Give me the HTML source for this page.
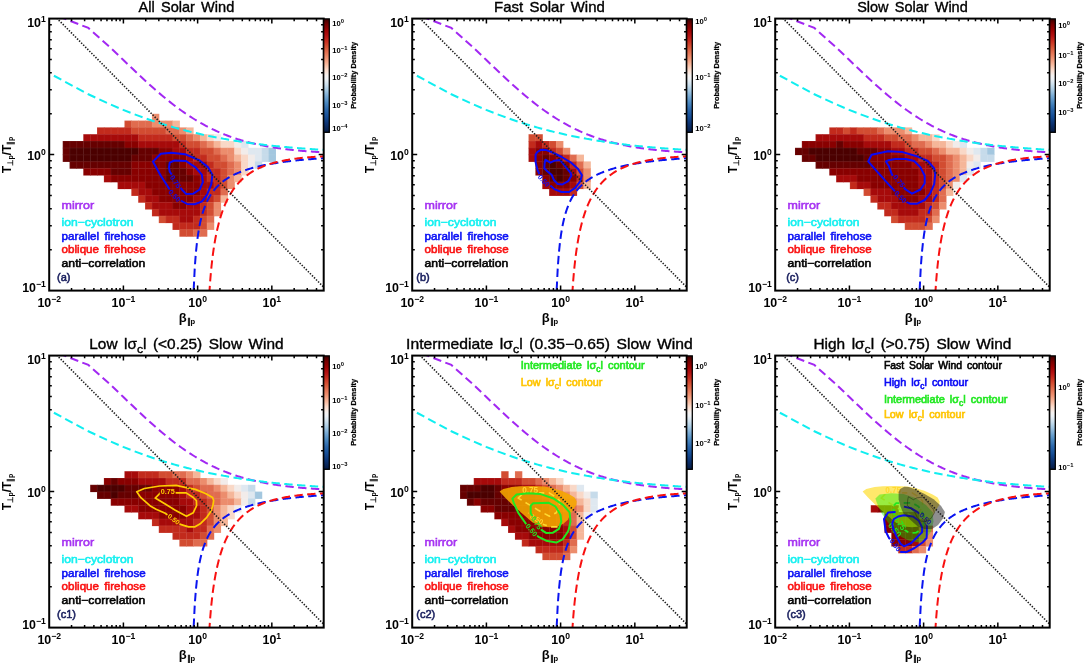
<!DOCTYPE html><html><head><meta charset="utf-8"><title>Proton temperature anisotropy</title><style>html,body{margin:0;padding:0;background:#fff;}svg{display:block;will-change:transform;filter:blur(0.3px)}</style></head><body><svg width="1085" height="665" viewBox="0 0 1085 665">
<defs><linearGradient id="cbg" x1="0" y1="0" x2="0" y2="1">
<stop offset="0" stop-color="#3a0000"/><stop offset="0.05" stop-color="#780000"/><stop offset="0.10" stop-color="#9c0202"/>
<stop offset="0.15" stop-color="#b41212"/><stop offset="0.2" stop-color="#c83020"/><stop offset="0.25" stop-color="#d65436"/>
<stop offset="0.30" stop-color="#e47454"/><stop offset="0.35" stop-color="#f09474"/><stop offset="0.40" stop-color="#f8b89c"/>
<stop offset="0.45" stop-color="#fcdccc"/><stop offset="0.5" stop-color="#f6f2f0"/><stop offset="0.53" stop-color="#eef2f6"/>
<stop offset="0.58" stop-color="#cce0ee"/><stop offset="0.63" stop-color="#a4c8e2"/><stop offset="0.68" stop-color="#78aad4"/>
<stop offset="0.74" stop-color="#4a88c0"/><stop offset="0.80" stop-color="#2a66aa"/><stop offset="0.86" stop-color="#164e96"/>
<stop offset="0.92" stop-color="#0c3474"/><stop offset="1" stop-color="#061a42"/></linearGradient>
<style>
text{font-family:"Liberation Sans",sans-serif;}
.tl{font-size:12.4px;font-weight:bold;fill:#000}
.sup{font-size:8.6px}
.ax{font-size:13px;font-weight:bold;fill:#000}
.sub{font-size:7.6px}
.ti{font-size:13.9px;fill:#000;stroke:#000;stroke-width:0.35px;word-spacing:2px}
.tsub{font-size:11px}
.lg{font-size:11px;font-weight:normal;stroke-width:0.55px;word-spacing:2px}
.cbl{font-size:7.6px;font-weight:bold}
.cbs{font-size:5.8px}
.pd{font-size:7.4px;font-weight:bold;stroke:#000;stroke-width:0.25px}
.cl{font-size:7px;font-weight:bold}
</style></defs>
<rect width="1085" height="665" fill="#fff"/>
<clipPath id="clip1"><rect x="49.2" y="18.6" width="274.5" height="272.0"/></clipPath>
<g clip-path="url(#clip1)">
<rect x="151.94" y="113.8" width="7.36" height="7.3" fill="#ec8d6d"/>
<rect x="124.49" y="120.6" width="7.36" height="7.3" fill="#d24c31"/>
<rect x="131.35" y="120.6" width="7.36" height="7.3" fill="#e06c4f"/>
<rect x="138.21" y="120.6" width="7.36" height="7.3" fill="#e06c4f"/>
<rect x="145.07" y="120.6" width="7.36" height="7.3" fill="#e06c4f"/>
<rect x="151.94" y="120.6" width="7.36" height="7.3" fill="#ec8d6d"/>
<rect x="158.8" y="120.6" width="7.36" height="7.3" fill="#ec8d6d"/>
<rect x="165.66" y="120.6" width="7.36" height="7.3" fill="#ec8d6d"/>
<rect x="172.52" y="120.6" width="7.36" height="7.3" fill="#f5b699"/>
<rect x="97.04" y="127.4" width="7.36" height="7.3" fill="#c22a1c"/>
<rect x="103.9" y="127.4" width="7.36" height="7.3" fill="#c22a1c"/>
<rect x="110.76" y="127.4" width="7.36" height="7.3" fill="#c22a1c"/>
<rect x="117.62" y="127.4" width="7.36" height="7.3" fill="#c22a1c"/>
<rect x="124.49" y="127.4" width="7.36" height="7.3" fill="#c22a1c"/>
<rect x="131.35" y="127.4" width="7.36" height="7.3" fill="#d24c31"/>
<rect x="138.21" y="127.4" width="7.36" height="7.3" fill="#d24c31"/>
<rect x="145.07" y="127.4" width="7.36" height="7.3" fill="#d24c31"/>
<rect x="151.94" y="127.4" width="7.36" height="7.3" fill="#d24c31"/>
<rect x="158.8" y="127.4" width="7.36" height="7.3" fill="#d24c31"/>
<rect x="165.66" y="127.4" width="7.36" height="7.3" fill="#e06c4f"/>
<rect x="172.52" y="127.4" width="7.36" height="7.3" fill="#e06c4f"/>
<rect x="179.39" y="127.4" width="7.36" height="7.3" fill="#ec8d6d"/>
<rect x="186.25" y="127.4" width="7.36" height="7.3" fill="#f5b699"/>
<rect x="83.31" y="134.2" width="7.36" height="7.3" fill="#a60a0a"/>
<rect x="90.17" y="134.2" width="7.36" height="7.3" fill="#a60a0a"/>
<rect x="97.04" y="134.2" width="7.36" height="7.3" fill="#a60a0a"/>
<rect x="103.9" y="134.2" width="7.36" height="7.3" fill="#a60a0a"/>
<rect x="110.76" y="134.2" width="7.36" height="7.3" fill="#a60a0a"/>
<rect x="117.62" y="134.2" width="7.36" height="7.3" fill="#a60a0a"/>
<rect x="124.49" y="134.2" width="7.36" height="7.3" fill="#a60a0a"/>
<rect x="131.35" y="134.2" width="7.36" height="7.3" fill="#a60a0a"/>
<rect x="138.21" y="134.2" width="7.36" height="7.3" fill="#c22a1c"/>
<rect x="145.07" y="134.2" width="7.36" height="7.3" fill="#c22a1c"/>
<rect x="151.94" y="134.2" width="7.36" height="7.3" fill="#c22a1c"/>
<rect x="158.8" y="134.2" width="7.36" height="7.3" fill="#c22a1c"/>
<rect x="165.66" y="134.2" width="7.36" height="7.3" fill="#c22a1c"/>
<rect x="172.52" y="134.2" width="7.36" height="7.3" fill="#d24c31"/>
<rect x="179.39" y="134.2" width="7.36" height="7.3" fill="#d24c31"/>
<rect x="186.25" y="134.2" width="7.36" height="7.3" fill="#e06c4f"/>
<rect x="193.11" y="134.2" width="7.36" height="7.3" fill="#ec8d6d"/>
<rect x="199.97" y="134.2" width="7.36" height="7.3" fill="#f5b699"/>
<rect x="206.84" y="134.2" width="7.36" height="7.3" fill="#f9d8c7"/>
<rect x="213.7" y="134.2" width="7.36" height="7.3" fill="#f2ecea"/>
<rect x="62.73" y="141" width="7.36" height="7.3" fill="#660000"/>
<rect x="69.59" y="141" width="7.36" height="7.3" fill="#660000"/>
<rect x="76.45" y="141" width="7.36" height="7.3" fill="#660000"/>
<rect x="83.31" y="141" width="7.36" height="7.3" fill="#660000"/>
<rect x="90.17" y="141" width="7.36" height="7.3" fill="#660000"/>
<rect x="97.04" y="141" width="7.36" height="7.3" fill="#660000"/>
<rect x="103.9" y="141" width="7.36" height="7.3" fill="#660000"/>
<rect x="110.76" y="141" width="7.36" height="7.3" fill="#660000"/>
<rect x="117.62" y="141" width="7.36" height="7.3" fill="#660000"/>
<rect x="124.49" y="141" width="7.36" height="7.3" fill="#890000"/>
<rect x="131.35" y="141" width="7.36" height="7.3" fill="#890000"/>
<rect x="138.21" y="141" width="7.36" height="7.3" fill="#a60a0a"/>
<rect x="145.07" y="141" width="7.36" height="7.3" fill="#a60a0a"/>
<rect x="151.94" y="141" width="7.36" height="7.3" fill="#a60a0a"/>
<rect x="158.8" y="141" width="7.36" height="7.3" fill="#a60a0a"/>
<rect x="165.66" y="141" width="7.36" height="7.3" fill="#a60a0a"/>
<rect x="172.52" y="141" width="7.36" height="7.3" fill="#a60a0a"/>
<rect x="179.39" y="141" width="7.36" height="7.3" fill="#c22a1c"/>
<rect x="186.25" y="141" width="7.36" height="7.3" fill="#d24c31"/>
<rect x="193.11" y="141" width="7.36" height="7.3" fill="#d24c31"/>
<rect x="199.97" y="141" width="7.36" height="7.3" fill="#e06c4f"/>
<rect x="206.84" y="141" width="7.36" height="7.3" fill="#ec8d6d"/>
<rect x="213.7" y="141" width="7.36" height="7.3" fill="#f5b699"/>
<rect x="220.56" y="141" width="7.36" height="7.3" fill="#f9d8c7"/>
<rect x="227.42" y="141" width="7.36" height="7.3" fill="#f9d8c7"/>
<rect x="234.29" y="141" width="7.36" height="7.3" fill="#f2ecea"/>
<rect x="241.15" y="141" width="7.36" height="7.3" fill="#dfe8f0"/>
<rect x="62.73" y="147.8" width="7.36" height="7.3" fill="#660000"/>
<rect x="69.59" y="147.8" width="7.36" height="7.3" fill="#4b0000"/>
<rect x="76.45" y="147.8" width="7.36" height="7.3" fill="#4b0000"/>
<rect x="83.31" y="147.8" width="7.36" height="7.3" fill="#4b0000"/>
<rect x="90.17" y="147.8" width="7.36" height="7.3" fill="#4b0000"/>
<rect x="97.04" y="147.8" width="7.36" height="7.3" fill="#4b0000"/>
<rect x="103.9" y="147.8" width="7.36" height="7.3" fill="#4b0000"/>
<rect x="110.76" y="147.8" width="7.36" height="7.3" fill="#4b0000"/>
<rect x="117.62" y="147.8" width="7.36" height="7.3" fill="#4b0000"/>
<rect x="124.49" y="147.8" width="7.36" height="7.3" fill="#4b0000"/>
<rect x="131.35" y="147.8" width="7.36" height="7.3" fill="#4b0000"/>
<rect x="138.21" y="147.8" width="7.36" height="7.3" fill="#660000"/>
<rect x="145.07" y="147.8" width="7.36" height="7.3" fill="#660000"/>
<rect x="151.94" y="147.8" width="7.36" height="7.3" fill="#660000"/>
<rect x="158.8" y="147.8" width="7.36" height="7.3" fill="#890000"/>
<rect x="165.66" y="147.8" width="7.36" height="7.3" fill="#890000"/>
<rect x="172.52" y="147.8" width="7.36" height="7.3" fill="#a60a0a"/>
<rect x="179.39" y="147.8" width="7.36" height="7.3" fill="#a60a0a"/>
<rect x="186.25" y="147.8" width="7.36" height="7.3" fill="#c22a1c"/>
<rect x="193.11" y="147.8" width="7.36" height="7.3" fill="#c22a1c"/>
<rect x="199.97" y="147.8" width="7.36" height="7.3" fill="#d24c31"/>
<rect x="206.84" y="147.8" width="7.36" height="7.3" fill="#d24c31"/>
<rect x="213.7" y="147.8" width="7.36" height="7.3" fill="#e06c4f"/>
<rect x="220.56" y="147.8" width="7.36" height="7.3" fill="#ec8d6d"/>
<rect x="227.42" y="147.8" width="7.36" height="7.3" fill="#ec8d6d"/>
<rect x="234.29" y="147.8" width="7.36" height="7.3" fill="#f9d8c7"/>
<rect x="241.15" y="147.8" width="7.36" height="7.3" fill="#f2ecea"/>
<rect x="248.01" y="147.8" width="7.36" height="7.3" fill="#dfe8f0"/>
<rect x="254.88" y="147.8" width="7.36" height="7.3" fill="#dfe8f0"/>
<rect x="261.74" y="147.8" width="7.36" height="7.3" fill="#c6dbea"/>
<rect x="268.6" y="147.8" width="7.36" height="7.3" fill="#a3c7df"/>
<rect x="62.73" y="154.6" width="7.36" height="7.3" fill="#660000"/>
<rect x="69.59" y="154.6" width="7.36" height="7.3" fill="#4b0000"/>
<rect x="76.45" y="154.6" width="7.36" height="7.3" fill="#4b0000"/>
<rect x="83.31" y="154.6" width="7.36" height="7.3" fill="#4b0000"/>
<rect x="90.17" y="154.6" width="7.36" height="7.3" fill="#4b0000"/>
<rect x="97.04" y="154.6" width="7.36" height="7.3" fill="#4b0000"/>
<rect x="103.9" y="154.6" width="7.36" height="7.3" fill="#4b0000"/>
<rect x="110.76" y="154.6" width="7.36" height="7.3" fill="#4b0000"/>
<rect x="117.62" y="154.6" width="7.36" height="7.3" fill="#4b0000"/>
<rect x="124.49" y="154.6" width="7.36" height="7.3" fill="#4b0000"/>
<rect x="131.35" y="154.6" width="7.36" height="7.3" fill="#660000"/>
<rect x="138.21" y="154.6" width="7.36" height="7.3" fill="#660000"/>
<rect x="145.07" y="154.6" width="7.36" height="7.3" fill="#660000"/>
<rect x="151.94" y="154.6" width="7.36" height="7.3" fill="#890000"/>
<rect x="158.8" y="154.6" width="7.36" height="7.3" fill="#890000"/>
<rect x="165.66" y="154.6" width="7.36" height="7.3" fill="#890000"/>
<rect x="172.52" y="154.6" width="7.36" height="7.3" fill="#890000"/>
<rect x="179.39" y="154.6" width="7.36" height="7.3" fill="#890000"/>
<rect x="186.25" y="154.6" width="7.36" height="7.3" fill="#a60a0a"/>
<rect x="193.11" y="154.6" width="7.36" height="7.3" fill="#c22a1c"/>
<rect x="199.97" y="154.6" width="7.36" height="7.3" fill="#c22a1c"/>
<rect x="206.84" y="154.6" width="7.36" height="7.3" fill="#d24c31"/>
<rect x="213.7" y="154.6" width="7.36" height="7.3" fill="#d24c31"/>
<rect x="220.56" y="154.6" width="7.36" height="7.3" fill="#e06c4f"/>
<rect x="227.42" y="154.6" width="7.36" height="7.3" fill="#ec8d6d"/>
<rect x="234.29" y="154.6" width="7.36" height="7.3" fill="#f5b699"/>
<rect x="241.15" y="154.6" width="7.36" height="7.3" fill="#f9d8c7"/>
<rect x="248.01" y="154.6" width="7.36" height="7.3" fill="#f2ecea"/>
<rect x="254.88" y="154.6" width="7.36" height="7.3" fill="#dfe8f0"/>
<rect x="261.74" y="154.6" width="7.36" height="7.3" fill="#c6dbea"/>
<rect x="268.6" y="154.6" width="7.36" height="7.3" fill="#a3c7df"/>
<rect x="69.59" y="161.4" width="7.36" height="7.3" fill="#660000"/>
<rect x="76.45" y="161.4" width="7.36" height="7.3" fill="#660000"/>
<rect x="83.31" y="161.4" width="7.36" height="7.3" fill="#660000"/>
<rect x="90.17" y="161.4" width="7.36" height="7.3" fill="#660000"/>
<rect x="97.04" y="161.4" width="7.36" height="7.3" fill="#660000"/>
<rect x="103.9" y="161.4" width="7.36" height="7.3" fill="#660000"/>
<rect x="110.76" y="161.4" width="7.36" height="7.3" fill="#660000"/>
<rect x="117.62" y="161.4" width="7.36" height="7.3" fill="#660000"/>
<rect x="124.49" y="161.4" width="7.36" height="7.3" fill="#660000"/>
<rect x="131.35" y="161.4" width="7.36" height="7.3" fill="#890000"/>
<rect x="138.21" y="161.4" width="7.36" height="7.3" fill="#890000"/>
<rect x="145.07" y="161.4" width="7.36" height="7.3" fill="#890000"/>
<rect x="151.94" y="161.4" width="7.36" height="7.3" fill="#890000"/>
<rect x="158.8" y="161.4" width="7.36" height="7.3" fill="#890000"/>
<rect x="165.66" y="161.4" width="7.36" height="7.3" fill="#660000"/>
<rect x="172.52" y="161.4" width="7.36" height="7.3" fill="#660000"/>
<rect x="179.39" y="161.4" width="7.36" height="7.3" fill="#890000"/>
<rect x="186.25" y="161.4" width="7.36" height="7.3" fill="#a60a0a"/>
<rect x="193.11" y="161.4" width="7.36" height="7.3" fill="#a60a0a"/>
<rect x="199.97" y="161.4" width="7.36" height="7.3" fill="#a60a0a"/>
<rect x="206.84" y="161.4" width="7.36" height="7.3" fill="#c22a1c"/>
<rect x="213.7" y="161.4" width="7.36" height="7.3" fill="#d24c31"/>
<rect x="220.56" y="161.4" width="7.36" height="7.3" fill="#d24c31"/>
<rect x="227.42" y="161.4" width="7.36" height="7.3" fill="#e06c4f"/>
<rect x="234.29" y="161.4" width="7.36" height="7.3" fill="#ec8d6d"/>
<rect x="241.15" y="161.4" width="7.36" height="7.3" fill="#f9d8c7"/>
<rect x="248.01" y="161.4" width="7.36" height="7.3" fill="#f2ecea"/>
<rect x="254.88" y="161.4" width="7.36" height="7.3" fill="#c6dbea"/>
<rect x="83.31" y="168.2" width="7.36" height="7.3" fill="#890000"/>
<rect x="90.17" y="168.2" width="7.36" height="7.3" fill="#890000"/>
<rect x="97.04" y="168.2" width="7.36" height="7.3" fill="#890000"/>
<rect x="103.9" y="168.2" width="7.36" height="7.3" fill="#890000"/>
<rect x="110.76" y="168.2" width="7.36" height="7.3" fill="#660000"/>
<rect x="117.62" y="168.2" width="7.36" height="7.3" fill="#660000"/>
<rect x="124.49" y="168.2" width="7.36" height="7.3" fill="#660000"/>
<rect x="131.35" y="168.2" width="7.36" height="7.3" fill="#890000"/>
<rect x="138.21" y="168.2" width="7.36" height="7.3" fill="#890000"/>
<rect x="145.07" y="168.2" width="7.36" height="7.3" fill="#890000"/>
<rect x="151.94" y="168.2" width="7.36" height="7.3" fill="#890000"/>
<rect x="158.8" y="168.2" width="7.36" height="7.3" fill="#890000"/>
<rect x="165.66" y="168.2" width="7.36" height="7.3" fill="#660000"/>
<rect x="172.52" y="168.2" width="7.36" height="7.3" fill="#660000"/>
<rect x="179.39" y="168.2" width="7.36" height="7.3" fill="#660000"/>
<rect x="186.25" y="168.2" width="7.36" height="7.3" fill="#890000"/>
<rect x="193.11" y="168.2" width="7.36" height="7.3" fill="#a60a0a"/>
<rect x="199.97" y="168.2" width="7.36" height="7.3" fill="#a60a0a"/>
<rect x="206.84" y="168.2" width="7.36" height="7.3" fill="#c22a1c"/>
<rect x="213.7" y="168.2" width="7.36" height="7.3" fill="#c22a1c"/>
<rect x="220.56" y="168.2" width="7.36" height="7.3" fill="#d24c31"/>
<rect x="227.42" y="168.2" width="7.36" height="7.3" fill="#e06c4f"/>
<rect x="234.29" y="168.2" width="7.36" height="7.3" fill="#ec8d6d"/>
<rect x="241.15" y="168.2" width="7.36" height="7.3" fill="#f9d8c7"/>
<rect x="103.9" y="175" width="7.36" height="7.3" fill="#a60a0a"/>
<rect x="110.76" y="175" width="7.36" height="7.3" fill="#890000"/>
<rect x="117.62" y="175" width="7.36" height="7.3" fill="#890000"/>
<rect x="124.49" y="175" width="7.36" height="7.3" fill="#890000"/>
<rect x="131.35" y="175" width="7.36" height="7.3" fill="#890000"/>
<rect x="138.21" y="175" width="7.36" height="7.3" fill="#890000"/>
<rect x="145.07" y="175" width="7.36" height="7.3" fill="#890000"/>
<rect x="151.94" y="175" width="7.36" height="7.3" fill="#890000"/>
<rect x="158.8" y="175" width="7.36" height="7.3" fill="#890000"/>
<rect x="165.66" y="175" width="7.36" height="7.3" fill="#660000"/>
<rect x="172.52" y="175" width="7.36" height="7.3" fill="#660000"/>
<rect x="179.39" y="175" width="7.36" height="7.3" fill="#660000"/>
<rect x="186.25" y="175" width="7.36" height="7.3" fill="#660000"/>
<rect x="193.11" y="175" width="7.36" height="7.3" fill="#890000"/>
<rect x="199.97" y="175" width="7.36" height="7.3" fill="#a60a0a"/>
<rect x="206.84" y="175" width="7.36" height="7.3" fill="#c22a1c"/>
<rect x="213.7" y="175" width="7.36" height="7.3" fill="#c22a1c"/>
<rect x="220.56" y="175" width="7.36" height="7.3" fill="#d24c31"/>
<rect x="227.42" y="175" width="7.36" height="7.3" fill="#ec8d6d"/>
<rect x="234.29" y="175" width="7.36" height="7.3" fill="#f5b699"/>
<rect x="117.62" y="181.8" width="7.36" height="7.3" fill="#a60a0a"/>
<rect x="124.49" y="181.8" width="7.36" height="7.3" fill="#a60a0a"/>
<rect x="131.35" y="181.8" width="7.36" height="7.3" fill="#a60a0a"/>
<rect x="138.21" y="181.8" width="7.36" height="7.3" fill="#a60a0a"/>
<rect x="145.07" y="181.8" width="7.36" height="7.3" fill="#890000"/>
<rect x="151.94" y="181.8" width="7.36" height="7.3" fill="#890000"/>
<rect x="158.8" y="181.8" width="7.36" height="7.3" fill="#890000"/>
<rect x="165.66" y="181.8" width="7.36" height="7.3" fill="#890000"/>
<rect x="172.52" y="181.8" width="7.36" height="7.3" fill="#890000"/>
<rect x="179.39" y="181.8" width="7.36" height="7.3" fill="#890000"/>
<rect x="186.25" y="181.8" width="7.36" height="7.3" fill="#890000"/>
<rect x="193.11" y="181.8" width="7.36" height="7.3" fill="#890000"/>
<rect x="199.97" y="181.8" width="7.36" height="7.3" fill="#a60a0a"/>
<rect x="206.84" y="181.8" width="7.36" height="7.3" fill="#a60a0a"/>
<rect x="213.7" y="181.8" width="7.36" height="7.3" fill="#c22a1c"/>
<rect x="220.56" y="181.8" width="7.36" height="7.3" fill="#d24c31"/>
<rect x="227.42" y="181.8" width="7.36" height="7.3" fill="#ec8d6d"/>
<rect x="131.35" y="188.6" width="7.36" height="7.3" fill="#c22a1c"/>
<rect x="138.21" y="188.6" width="7.36" height="7.3" fill="#a60a0a"/>
<rect x="145.07" y="188.6" width="7.36" height="7.3" fill="#a60a0a"/>
<rect x="151.94" y="188.6" width="7.36" height="7.3" fill="#890000"/>
<rect x="158.8" y="188.6" width="7.36" height="7.3" fill="#890000"/>
<rect x="165.66" y="188.6" width="7.36" height="7.3" fill="#890000"/>
<rect x="172.52" y="188.6" width="7.36" height="7.3" fill="#890000"/>
<rect x="179.39" y="188.6" width="7.36" height="7.3" fill="#890000"/>
<rect x="186.25" y="188.6" width="7.36" height="7.3" fill="#890000"/>
<rect x="193.11" y="188.6" width="7.36" height="7.3" fill="#890000"/>
<rect x="199.97" y="188.6" width="7.36" height="7.3" fill="#a60a0a"/>
<rect x="206.84" y="188.6" width="7.36" height="7.3" fill="#c22a1c"/>
<rect x="213.7" y="188.6" width="7.36" height="7.3" fill="#c22a1c"/>
<rect x="220.56" y="188.6" width="7.36" height="7.3" fill="#e06c4f"/>
<rect x="138.21" y="195.4" width="7.36" height="7.3" fill="#c22a1c"/>
<rect x="145.07" y="195.4" width="7.36" height="7.3" fill="#a60a0a"/>
<rect x="151.94" y="195.4" width="7.36" height="7.3" fill="#a60a0a"/>
<rect x="158.8" y="195.4" width="7.36" height="7.3" fill="#890000"/>
<rect x="165.66" y="195.4" width="7.36" height="7.3" fill="#890000"/>
<rect x="172.52" y="195.4" width="7.36" height="7.3" fill="#890000"/>
<rect x="179.39" y="195.4" width="7.36" height="7.3" fill="#890000"/>
<rect x="186.25" y="195.4" width="7.36" height="7.3" fill="#890000"/>
<rect x="193.11" y="195.4" width="7.36" height="7.3" fill="#a60a0a"/>
<rect x="199.97" y="195.4" width="7.36" height="7.3" fill="#a60a0a"/>
<rect x="206.84" y="195.4" width="7.36" height="7.3" fill="#c22a1c"/>
<rect x="213.7" y="195.4" width="7.36" height="7.3" fill="#d24c31"/>
<rect x="220.56" y="195.4" width="7.36" height="7.3" fill="#f5b699"/>
<rect x="145.07" y="202.2" width="7.36" height="7.3" fill="#c22a1c"/>
<rect x="151.94" y="202.2" width="7.36" height="7.3" fill="#a60a0a"/>
<rect x="158.8" y="202.2" width="7.36" height="7.3" fill="#a60a0a"/>
<rect x="165.66" y="202.2" width="7.36" height="7.3" fill="#a60a0a"/>
<rect x="172.52" y="202.2" width="7.36" height="7.3" fill="#890000"/>
<rect x="179.39" y="202.2" width="7.36" height="7.3" fill="#890000"/>
<rect x="186.25" y="202.2" width="7.36" height="7.3" fill="#a60a0a"/>
<rect x="193.11" y="202.2" width="7.36" height="7.3" fill="#a60a0a"/>
<rect x="199.97" y="202.2" width="7.36" height="7.3" fill="#c22a1c"/>
<rect x="206.84" y="202.2" width="7.36" height="7.3" fill="#d24c31"/>
<rect x="213.7" y="202.2" width="7.36" height="7.3" fill="#ec8d6d"/>
<rect x="151.94" y="209" width="7.36" height="7.3" fill="#c22a1c"/>
<rect x="158.8" y="209" width="7.36" height="7.3" fill="#a60a0a"/>
<rect x="165.66" y="209" width="7.36" height="7.3" fill="#a60a0a"/>
<rect x="172.52" y="209" width="7.36" height="7.3" fill="#a60a0a"/>
<rect x="179.39" y="209" width="7.36" height="7.3" fill="#a60a0a"/>
<rect x="186.25" y="209" width="7.36" height="7.3" fill="#a60a0a"/>
<rect x="193.11" y="209" width="7.36" height="7.3" fill="#a60a0a"/>
<rect x="199.97" y="209" width="7.36" height="7.3" fill="#c22a1c"/>
<rect x="206.84" y="209" width="7.36" height="7.3" fill="#d24c31"/>
<rect x="213.7" y="209" width="7.36" height="7.3" fill="#ec8d6d"/>
<rect x="158.8" y="215.8" width="7.36" height="7.3" fill="#d24c31"/>
<rect x="165.66" y="215.8" width="7.36" height="7.3" fill="#c22a1c"/>
<rect x="172.52" y="215.8" width="7.36" height="7.3" fill="#c22a1c"/>
<rect x="179.39" y="215.8" width="7.36" height="7.3" fill="#a60a0a"/>
<rect x="186.25" y="215.8" width="7.36" height="7.3" fill="#a60a0a"/>
<rect x="193.11" y="215.8" width="7.36" height="7.3" fill="#c22a1c"/>
<rect x="199.97" y="215.8" width="7.36" height="7.3" fill="#d24c31"/>
<rect x="206.84" y="215.8" width="7.36" height="7.3" fill="#e06c4f"/>
<rect x="172.52" y="222.6" width="7.36" height="7.3" fill="#c22a1c"/>
<rect x="179.39" y="222.6" width="7.36" height="7.3" fill="#c22a1c"/>
<rect x="186.25" y="222.6" width="7.36" height="7.3" fill="#c22a1c"/>
<rect x="193.11" y="222.6" width="7.36" height="7.3" fill="#c22a1c"/>
<rect x="199.97" y="222.6" width="7.36" height="7.3" fill="#d24c31"/>
<rect x="206.84" y="222.6" width="7.36" height="7.3" fill="#ec8d6d"/>
<rect x="179.39" y="229.4" width="7.36" height="7.3" fill="#d24c31"/>
<rect x="186.25" y="229.4" width="7.36" height="7.3" fill="#d24c31"/>
<rect x="193.11" y="229.4" width="7.36" height="7.3" fill="#e06c4f"/>
<rect x="199.97" y="229.4" width="7.36" height="7.3" fill="#e06c4f"/>
<path d="M152.19,114.05 h6.86 M152.19,114.05 v6.8 M124.74,120.85 h6.86 M124.74,120.85 v6.8 M131.6,120.85 h6.86 M131.6,120.85 v6.8 M138.46,120.85 h6.86 M138.46,120.85 v6.8 M145.32,120.85 h6.86 M145.32,120.85 v6.8 M152.19,120.85 h6.86 M152.19,120.85 v6.8 M159.05,120.85 h6.86 M159.05,120.85 v6.8 M165.91,120.85 h6.86 M165.91,120.85 v6.8 M172.77,120.85 h6.86 M172.77,120.85 v6.8 M97.29,127.65 h6.86 M97.29,127.65 v6.8 M104.15,127.65 h6.86 M104.15,127.65 v6.8 M111.01,127.65 h6.86 M111.01,127.65 v6.8 M117.88,127.65 h6.86 M117.88,127.65 v6.8 M124.74,127.65 h6.86 M124.74,127.65 v6.8 M131.6,127.65 h6.86 M131.6,127.65 v6.8 M138.46,127.65 h6.86 M138.46,127.65 v6.8 M145.32,127.65 h6.86 M145.32,127.65 v6.8 M152.19,127.65 h6.86 M152.19,127.65 v6.8 M159.05,127.65 h6.86 M159.05,127.65 v6.8 M165.91,127.65 h6.86 M165.91,127.65 v6.8 M172.77,127.65 h6.86 M172.77,127.65 v6.8 M179.64,127.65 h6.86 M179.64,127.65 v6.8 M186.5,127.65 h6.86 M186.5,127.65 v6.8 M83.56,134.45 h6.86 M83.56,134.45 v6.8 M90.42,134.45 h6.86 M90.42,134.45 v6.8 M97.29,134.45 h6.86 M97.29,134.45 v6.8 M104.15,134.45 h6.86 M104.15,134.45 v6.8 M111.01,134.45 h6.86 M111.01,134.45 v6.8 M117.88,134.45 h6.86 M117.88,134.45 v6.8 M124.74,134.45 h6.86 M124.74,134.45 v6.8 M131.6,134.45 h6.86 M131.6,134.45 v6.8 M138.46,134.45 h6.86 M138.46,134.45 v6.8 M145.32,134.45 h6.86 M145.32,134.45 v6.8 M152.19,134.45 h6.86 M152.19,134.45 v6.8 M159.05,134.45 h6.86 M159.05,134.45 v6.8 M165.91,134.45 h6.86 M165.91,134.45 v6.8 M172.77,134.45 h6.86 M172.77,134.45 v6.8 M179.64,134.45 h6.86 M179.64,134.45 v6.8 M186.5,134.45 h6.86 M186.5,134.45 v6.8 M193.36,134.45 h6.86 M193.36,134.45 v6.8 M200.22,134.45 h6.86 M200.22,134.45 v6.8 M207.09,134.45 h6.86 M207.09,134.45 v6.8 M213.95,134.45 h6.86 M213.95,134.45 v6.8 M62.98,141.25 h6.86 M62.98,141.25 v6.8 M69.84,141.25 h6.86 M69.84,141.25 v6.8 M76.7,141.25 h6.86 M76.7,141.25 v6.8 M83.56,141.25 h6.86 M83.56,141.25 v6.8 M90.42,141.25 h6.86 M90.42,141.25 v6.8 M97.29,141.25 h6.86 M97.29,141.25 v6.8 M104.15,141.25 h6.86 M104.15,141.25 v6.8 M111.01,141.25 h6.86 M111.01,141.25 v6.8 M117.88,141.25 h6.86 M117.88,141.25 v6.8 M124.74,141.25 h6.86 M124.74,141.25 v6.8 M131.6,141.25 h6.86 M131.6,141.25 v6.8 M138.46,141.25 h6.86 M138.46,141.25 v6.8 M145.32,141.25 h6.86 M145.32,141.25 v6.8 M152.19,141.25 h6.86 M152.19,141.25 v6.8 M159.05,141.25 h6.86 M159.05,141.25 v6.8 M165.91,141.25 h6.86 M165.91,141.25 v6.8 M172.77,141.25 h6.86 M172.77,141.25 v6.8 M179.64,141.25 h6.86 M179.64,141.25 v6.8 M186.5,141.25 h6.86 M186.5,141.25 v6.8 M193.36,141.25 h6.86 M193.36,141.25 v6.8 M200.22,141.25 h6.86 M200.22,141.25 v6.8 M207.09,141.25 h6.86 M207.09,141.25 v6.8 M213.95,141.25 h6.86 M213.95,141.25 v6.8 M220.81,141.25 h6.86 M220.81,141.25 v6.8 M227.67,141.25 h6.86 M227.67,141.25 v6.8 M234.54,141.25 h6.86 M234.54,141.25 v6.8 M241.4,141.25 h6.86 M241.4,141.25 v6.8 M62.98,148.05 h6.86 M62.98,148.05 v6.8 M69.84,148.05 h6.86 M69.84,148.05 v6.8 M76.7,148.05 h6.86 M76.7,148.05 v6.8 M83.56,148.05 h6.86 M83.56,148.05 v6.8 M90.42,148.05 h6.86 M90.42,148.05 v6.8 M97.29,148.05 h6.86 M97.29,148.05 v6.8 M104.15,148.05 h6.86 M104.15,148.05 v6.8 M111.01,148.05 h6.86 M111.01,148.05 v6.8 M117.88,148.05 h6.86 M117.88,148.05 v6.8 M124.74,148.05 h6.86 M124.74,148.05 v6.8 M131.6,148.05 h6.86 M131.6,148.05 v6.8 M138.46,148.05 h6.86 M138.46,148.05 v6.8 M145.32,148.05 h6.86 M145.32,148.05 v6.8 M152.19,148.05 h6.86 M152.19,148.05 v6.8 M159.05,148.05 h6.86 M159.05,148.05 v6.8 M165.91,148.05 h6.86 M165.91,148.05 v6.8 M172.77,148.05 h6.86 M172.77,148.05 v6.8 M179.64,148.05 h6.86 M179.64,148.05 v6.8 M186.5,148.05 h6.86 M186.5,148.05 v6.8 M193.36,148.05 h6.86 M193.36,148.05 v6.8 M200.22,148.05 h6.86 M200.22,148.05 v6.8 M207.09,148.05 h6.86 M207.09,148.05 v6.8 M213.95,148.05 h6.86 M213.95,148.05 v6.8 M220.81,148.05 h6.86 M220.81,148.05 v6.8 M227.67,148.05 h6.86 M227.67,148.05 v6.8 M234.54,148.05 h6.86 M234.54,148.05 v6.8 M241.4,148.05 h6.86 M241.4,148.05 v6.8 M248.26,148.05 h6.86 M248.26,148.05 v6.8 M255.12,148.05 h6.86 M255.12,148.05 v6.8 M261.99,148.05 h6.86 M261.99,148.05 v6.8 M268.85,148.05 h6.86 M268.85,148.05 v6.8 M62.98,154.85 h6.86 M62.98,154.85 v6.8 M69.84,154.85 h6.86 M69.84,154.85 v6.8 M76.7,154.85 h6.86 M76.7,154.85 v6.8 M83.56,154.85 h6.86 M83.56,154.85 v6.8 M90.42,154.85 h6.86 M90.42,154.85 v6.8 M97.29,154.85 h6.86 M97.29,154.85 v6.8 M104.15,154.85 h6.86 M104.15,154.85 v6.8 M111.01,154.85 h6.86 M111.01,154.85 v6.8 M117.88,154.85 h6.86 M117.88,154.85 v6.8 M124.74,154.85 h6.86 M124.74,154.85 v6.8 M131.6,154.85 h6.86 M131.6,154.85 v6.8 M138.46,154.85 h6.86 M138.46,154.85 v6.8 M145.32,154.85 h6.86 M145.32,154.85 v6.8 M152.19,154.85 h6.86 M152.19,154.85 v6.8 M159.05,154.85 h6.86 M159.05,154.85 v6.8 M165.91,154.85 h6.86 M165.91,154.85 v6.8 M172.77,154.85 h6.86 M172.77,154.85 v6.8 M179.64,154.85 h6.86 M179.64,154.85 v6.8 M186.5,154.85 h6.86 M186.5,154.85 v6.8 M193.36,154.85 h6.86 M193.36,154.85 v6.8 M200.22,154.85 h6.86 M200.22,154.85 v6.8 M207.09,154.85 h6.86 M207.09,154.85 v6.8 M213.95,154.85 h6.86 M213.95,154.85 v6.8 M220.81,154.85 h6.86 M220.81,154.85 v6.8 M227.67,154.85 h6.86 M227.67,154.85 v6.8 M234.54,154.85 h6.86 M234.54,154.85 v6.8 M241.4,154.85 h6.86 M241.4,154.85 v6.8 M248.26,154.85 h6.86 M248.26,154.85 v6.8 M255.12,154.85 h6.86 M255.12,154.85 v6.8 M261.99,154.85 h6.86 M261.99,154.85 v6.8 M268.85,154.85 h6.86 M268.85,154.85 v6.8 M69.84,161.65 h6.86 M69.84,161.65 v6.8 M76.7,161.65 h6.86 M76.7,161.65 v6.8 M83.56,161.65 h6.86 M83.56,161.65 v6.8 M90.42,161.65 h6.86 M90.42,161.65 v6.8 M97.29,161.65 h6.86 M97.29,161.65 v6.8 M104.15,161.65 h6.86 M104.15,161.65 v6.8 M111.01,161.65 h6.86 M111.01,161.65 v6.8 M117.88,161.65 h6.86 M117.88,161.65 v6.8 M124.74,161.65 h6.86 M124.74,161.65 v6.8 M131.6,161.65 h6.86 M131.6,161.65 v6.8 M138.46,161.65 h6.86 M138.46,161.65 v6.8 M145.32,161.65 h6.86 M145.32,161.65 v6.8 M152.19,161.65 h6.86 M152.19,161.65 v6.8 M159.05,161.65 h6.86 M159.05,161.65 v6.8 M165.91,161.65 h6.86 M165.91,161.65 v6.8 M172.77,161.65 h6.86 M172.77,161.65 v6.8 M179.64,161.65 h6.86 M179.64,161.65 v6.8 M186.5,161.65 h6.86 M186.5,161.65 v6.8 M193.36,161.65 h6.86 M193.36,161.65 v6.8 M200.22,161.65 h6.86 M200.22,161.65 v6.8 M207.09,161.65 h6.86 M207.09,161.65 v6.8 M213.95,161.65 h6.86 M213.95,161.65 v6.8 M220.81,161.65 h6.86 M220.81,161.65 v6.8 M227.67,161.65 h6.86 M227.67,161.65 v6.8 M234.54,161.65 h6.86 M234.54,161.65 v6.8 M241.4,161.65 h6.86 M241.4,161.65 v6.8 M248.26,161.65 h6.86 M248.26,161.65 v6.8 M255.12,161.65 h6.86 M255.12,161.65 v6.8 M83.56,168.45 h6.86 M83.56,168.45 v6.8 M90.42,168.45 h6.86 M90.42,168.45 v6.8 M97.29,168.45 h6.86 M97.29,168.45 v6.8 M104.15,168.45 h6.86 M104.15,168.45 v6.8 M111.01,168.45 h6.86 M111.01,168.45 v6.8 M117.88,168.45 h6.86 M117.88,168.45 v6.8 M124.74,168.45 h6.86 M124.74,168.45 v6.8 M131.6,168.45 h6.86 M131.6,168.45 v6.8 M138.46,168.45 h6.86 M138.46,168.45 v6.8 M145.32,168.45 h6.86 M145.32,168.45 v6.8 M152.19,168.45 h6.86 M152.19,168.45 v6.8 M159.05,168.45 h6.86 M159.05,168.45 v6.8 M165.91,168.45 h6.86 M165.91,168.45 v6.8 M172.77,168.45 h6.86 M172.77,168.45 v6.8 M179.64,168.45 h6.86 M179.64,168.45 v6.8 M186.5,168.45 h6.86 M186.5,168.45 v6.8 M193.36,168.45 h6.86 M193.36,168.45 v6.8 M200.22,168.45 h6.86 M200.22,168.45 v6.8 M207.09,168.45 h6.86 M207.09,168.45 v6.8 M213.95,168.45 h6.86 M213.95,168.45 v6.8 M220.81,168.45 h6.86 M220.81,168.45 v6.8 M227.67,168.45 h6.86 M227.67,168.45 v6.8 M234.54,168.45 h6.86 M234.54,168.45 v6.8 M241.4,168.45 h6.86 M241.4,168.45 v6.8 M104.15,175.25 h6.86 M104.15,175.25 v6.8 M111.01,175.25 h6.86 M111.01,175.25 v6.8 M117.88,175.25 h6.86 M117.88,175.25 v6.8 M124.74,175.25 h6.86 M124.74,175.25 v6.8 M131.6,175.25 h6.86 M131.6,175.25 v6.8 M138.46,175.25 h6.86 M138.46,175.25 v6.8 M145.32,175.25 h6.86 M145.32,175.25 v6.8 M152.19,175.25 h6.86 M152.19,175.25 v6.8 M159.05,175.25 h6.86 M159.05,175.25 v6.8 M165.91,175.25 h6.86 M165.91,175.25 v6.8 M172.77,175.25 h6.86 M172.77,175.25 v6.8 M179.64,175.25 h6.86 M179.64,175.25 v6.8 M186.5,175.25 h6.86 M186.5,175.25 v6.8 M193.36,175.25 h6.86 M193.36,175.25 v6.8 M200.22,175.25 h6.86 M200.22,175.25 v6.8 M207.09,175.25 h6.86 M207.09,175.25 v6.8 M213.95,175.25 h6.86 M213.95,175.25 v6.8 M220.81,175.25 h6.86 M220.81,175.25 v6.8 M227.67,175.25 h6.86 M227.67,175.25 v6.8 M234.54,175.25 h6.86 M234.54,175.25 v6.8 M117.88,182.05 h6.86 M117.88,182.05 v6.8 M124.74,182.05 h6.86 M124.74,182.05 v6.8 M131.6,182.05 h6.86 M131.6,182.05 v6.8 M138.46,182.05 h6.86 M138.46,182.05 v6.8 M145.32,182.05 h6.86 M145.32,182.05 v6.8 M152.19,182.05 h6.86 M152.19,182.05 v6.8 M159.05,182.05 h6.86 M159.05,182.05 v6.8 M165.91,182.05 h6.86 M165.91,182.05 v6.8 M172.77,182.05 h6.86 M172.77,182.05 v6.8 M179.64,182.05 h6.86 M179.64,182.05 v6.8 M186.5,182.05 h6.86 M186.5,182.05 v6.8 M193.36,182.05 h6.86 M193.36,182.05 v6.8 M200.22,182.05 h6.86 M200.22,182.05 v6.8 M207.09,182.05 h6.86 M207.09,182.05 v6.8 M213.95,182.05 h6.86 M213.95,182.05 v6.8 M220.81,182.05 h6.86 M220.81,182.05 v6.8 M227.67,182.05 h6.86 M227.67,182.05 v6.8 M131.6,188.85 h6.86 M131.6,188.85 v6.8 M138.46,188.85 h6.86 M138.46,188.85 v6.8 M145.32,188.85 h6.86 M145.32,188.85 v6.8 M152.19,188.85 h6.86 M152.19,188.85 v6.8 M159.05,188.85 h6.86 M159.05,188.85 v6.8 M165.91,188.85 h6.86 M165.91,188.85 v6.8 M172.77,188.85 h6.86 M172.77,188.85 v6.8 M179.64,188.85 h6.86 M179.64,188.85 v6.8 M186.5,188.85 h6.86 M186.5,188.85 v6.8 M193.36,188.85 h6.86 M193.36,188.85 v6.8 M200.22,188.85 h6.86 M200.22,188.85 v6.8 M207.09,188.85 h6.86 M207.09,188.85 v6.8 M213.95,188.85 h6.86 M213.95,188.85 v6.8 M220.81,188.85 h6.86 M220.81,188.85 v6.8 M138.46,195.65 h6.86 M138.46,195.65 v6.8 M145.32,195.65 h6.86 M145.32,195.65 v6.8 M152.19,195.65 h6.86 M152.19,195.65 v6.8 M159.05,195.65 h6.86 M159.05,195.65 v6.8 M165.91,195.65 h6.86 M165.91,195.65 v6.8 M172.77,195.65 h6.86 M172.77,195.65 v6.8 M179.64,195.65 h6.86 M179.64,195.65 v6.8 M186.5,195.65 h6.86 M186.5,195.65 v6.8 M193.36,195.65 h6.86 M193.36,195.65 v6.8 M200.22,195.65 h6.86 M200.22,195.65 v6.8 M207.09,195.65 h6.86 M207.09,195.65 v6.8 M213.95,195.65 h6.86 M213.95,195.65 v6.8 M220.81,195.65 h6.86 M220.81,195.65 v6.8 M145.32,202.45 h6.86 M145.32,202.45 v6.8 M152.19,202.45 h6.86 M152.19,202.45 v6.8 M159.05,202.45 h6.86 M159.05,202.45 v6.8 M165.91,202.45 h6.86 M165.91,202.45 v6.8 M172.77,202.45 h6.86 M172.77,202.45 v6.8 M179.64,202.45 h6.86 M179.64,202.45 v6.8 M186.5,202.45 h6.86 M186.5,202.45 v6.8 M193.36,202.45 h6.86 M193.36,202.45 v6.8 M200.22,202.45 h6.86 M200.22,202.45 v6.8 M207.09,202.45 h6.86 M207.09,202.45 v6.8 M213.95,202.45 h6.86 M213.95,202.45 v6.8 M152.19,209.25 h6.86 M152.19,209.25 v6.8 M159.05,209.25 h6.86 M159.05,209.25 v6.8 M165.91,209.25 h6.86 M165.91,209.25 v6.8 M172.77,209.25 h6.86 M172.77,209.25 v6.8 M179.64,209.25 h6.86 M179.64,209.25 v6.8 M186.5,209.25 h6.86 M186.5,209.25 v6.8 M193.36,209.25 h6.86 M193.36,209.25 v6.8 M200.22,209.25 h6.86 M200.22,209.25 v6.8 M207.09,209.25 h6.86 M207.09,209.25 v6.8 M213.95,209.25 h6.86 M213.95,209.25 v6.8 M159.05,216.05 h6.86 M159.05,216.05 v6.8 M165.91,216.05 h6.86 M165.91,216.05 v6.8 M172.77,216.05 h6.86 M172.77,216.05 v6.8 M179.64,216.05 h6.86 M179.64,216.05 v6.8 M186.5,216.05 h6.86 M186.5,216.05 v6.8 M193.36,216.05 h6.86 M193.36,216.05 v6.8 M200.22,216.05 h6.86 M200.22,216.05 v6.8 M207.09,216.05 h6.86 M207.09,216.05 v6.8 M172.77,222.85 h6.86 M172.77,222.85 v6.8 M179.64,222.85 h6.86 M179.64,222.85 v6.8 M186.5,222.85 h6.86 M186.5,222.85 v6.8 M193.36,222.85 h6.86 M193.36,222.85 v6.8 M200.22,222.85 h6.86 M200.22,222.85 v6.8 M207.09,222.85 h6.86 M207.09,222.85 v6.8 M179.64,229.65 h6.86 M179.64,229.65 v6.8 M186.5,229.65 h6.86 M186.5,229.65 v6.8 M193.36,229.65 h6.86 M193.36,229.65 v6.8 M200.22,229.65 h6.86 M200.22,229.65 v6.8" stroke="#fff" stroke-opacity="0.09" stroke-width="0.7" fill="none"/>
<path d="M-25.01,-16.23 L88.36,27.94 L110.21,47.47 L123.12,59.76 L132.31,68.55 L139.45,75.31 L145.29,80.74 L150.24,85.23 L154.53,89.05 L158.31,92.34 L161.69,95.22 L164.76,97.78 L167.55,100.06 L170.13,102.11 L172.51,103.98 L174.73,105.68 L176.8,107.24 L178.75,108.68 L180.59,110.02 L182.33,111.26 L183.98,112.41 L185.55,113.49 L187.05,114.5 L188.48,115.46 L189.85,116.36 L191.16,117.2 L192.43,118.01 L193.64,118.77 L194.81,119.49 L195.94,120.18 L197.03,120.84 L198.09,121.46 L199.11,122.06 L200.1,122.63 L201.06,123.18 L202,123.71 L202.9,124.21 L203.79,124.69 L204.65,125.16 L205.48,125.61 L206.3,126.04 L207.09,126.46 L208.63,127.25 L210.09,127.99 L211.49,128.68 L212.83,129.33 L214.12,129.95 L215.36,130.52 L216.55,131.07 L217.71,131.59 L218.82,132.08 L219.89,132.55 L220.93,132.99 L221.94,133.41 L222.91,133.82 L223.86,134.2 L224.78,134.57 L225.67,134.92 L226.55,135.26 L227.81,135.75 L229.03,136.2 L230.2,136.63 L231.33,137.04 L232.42,137.42 L233.48,137.79 L234.5,138.14 L235.49,138.47 L236.45,138.78 L237.39,139.09 L238.59,139.47 L239.75,139.83 L240.87,140.17 L241.96,140.49 L243,140.8 L244.02,141.09 L245,141.36 L245.96,141.63 L247.11,141.94 L248.23,142.24 L249.31,142.52 L250.35,142.78 L251.36,143.03 L252.34,143.27 L253.48,143.54 L254.57,143.8 L255.64,144.05 L256.66,144.28 L257.66,144.5 L258.79,144.74 L259.87,144.97 L260.93,145.19 L261.94,145.39 L263.07,145.62 L264.16,145.83 L265.21,146.03 L266.23,146.22 L267.34,146.42 L268.41,146.61 L269.45,146.79 L270.56,146.98 L271.64,147.16 L272.68,147.33 L273.79,147.51 L274.87,147.67 L276,147.85 L277.09,148.01 L278.15,148.16 L279.25,148.32 L280.32,148.47 L281.44,148.62 L282.51,148.76 L283.63,148.91 L284.71,149.04 L285.82,149.18 L286.89,149.31 L288,149.44 L289.13,149.57 L290.22,149.69 L291.33,149.81 L292.46,149.93 L293.55,150.05 L294.66,150.16 L295.78,150.27 L296.92,150.38 L298.06,150.49 L299.16,150.59 L300.27,150.69 L301.38,150.79 L302.5,150.89 L303.62,150.98 L304.74,151.07 L305.86,151.16 L306.98,151.25 L308.12,151.33 L309.27,151.42 L310.4,151.5 L311.53,151.58 L312.67,151.66 L313.81,151.73 L314.96,151.81 L316.11,151.88 L317.26,151.95 L318.4,152.02 L319.54,152.09 L320.7,152.16 L321.86,152.22 L323,152.28 L324.14,152.34 L324.96,152.38" fill="none" stroke="#a228f2" stroke-width="2" stroke-dasharray="8.4 4.4"/>
<path d="M-25.01,33.32 L88.36,94.27 L110.21,104.39 L123.12,109.85 L132.31,113.49 L139.45,116.17 L145.29,118.28 L150.24,119.99 L154.53,121.43 L158.31,122.66 L161.69,123.73 L164.76,124.68 L167.55,125.53 L170.13,126.29 L172.51,126.98 L174.73,127.61 L176.8,128.19 L178.75,128.73 L180.59,129.22 L182.33,129.69 L183.98,130.12 L185.55,130.53 L187.05,130.91 L188.48,131.27 L189.85,131.62 L191.16,131.94 L192.43,132.25 L193.64,132.54 L194.81,132.82 L195.94,133.09 L197.03,133.34 L198.09,133.59 L199.11,133.82 L200.1,134.05 L202,134.47 L203.79,134.86 L205.48,135.23 L207.09,135.58 L208.63,135.9 L210.09,136.2 L211.49,136.49 L212.83,136.76 L214.12,137.02 L215.36,137.26 L216.55,137.49 L217.71,137.71 L218.82,137.93 L219.89,138.13 L220.93,138.32 L222.43,138.6 L223.86,138.86 L225.23,139.1 L226.55,139.33 L227.81,139.55 L229.03,139.76 L230.2,139.96 L231.33,140.15 L232.42,140.33 L233.48,140.51 L234.83,140.73 L236.13,140.94 L237.39,141.13 L238.59,141.32 L239.75,141.5 L240.87,141.67 L241.96,141.83 L243,141.99 L244.27,142.18 L245.48,142.35 L246.66,142.52 L247.79,142.68 L248.88,142.83 L249.94,142.98 L251.16,143.15 L252.34,143.3 L253.48,143.46 L254.57,143.6 L255.64,143.74 L256.83,143.89 L257.99,144.04 L259.1,144.18 L260.18,144.31 L261.37,144.46 L262.51,144.6 L263.62,144.73 L264.82,144.87 L265.98,145 L267.1,145.13 L268.18,145.25 L269.33,145.38 L270.45,145.51 L271.64,145.64 L272.79,145.76 L273.89,145.88 L275.06,146 L276.18,146.12 L277.36,146.24 L278.49,146.35 L279.59,146.46 L280.73,146.57 L281.83,146.68 L282.97,146.79 L284.07,146.89 L285.2,147 L286.36,147.11 L287.48,147.21 L288.63,147.31 L289.74,147.41 L290.87,147.51 L292.01,147.61 L293.12,147.7 L294.24,147.8 L295.38,147.89 L296.53,147.99 L297.68,148.08 L298.8,148.17 L299.92,148.26 L301.04,148.34 L302.17,148.43 L303.3,148.52 L304.43,148.6 L305.56,148.69 L306.69,148.77 L307.81,148.85 L308.97,148.93 L310.11,149.01 L311.25,149.09 L312.38,149.17 L313.52,149.24 L314.66,149.32 L315.81,149.39 L316.95,149.47 L318.1,149.54 L319.23,149.61 L320.37,149.68 L321.52,149.75 L322.67,149.82 L323.8,149.89 L324.94,149.95 L324.96,149.96" fill="none" stroke="#10eef0" stroke-width="2" stroke-dasharray="8.4 4.4"/>
<path d="M192.43,341.03 L193.64,290.25 L194.81,266.84 L195.94,252.24 L197.03,241.94 L198.09,234.16 L199.11,228.01 L200.1,222.99 L201.06,218.81 L202,215.24 L202.9,212.16 L203.79,209.47 L204.65,207.09 L205.48,204.97 L206.3,203.06 L207.09,201.34 L207.87,199.77 L208.63,198.33 L209.37,197.02 L210.09,195.8 L210.8,194.67 L211.49,193.62 L212.17,192.65 L212.83,191.73 L213.48,190.88 L214.12,190.07 L214.75,189.31 L215.36,188.6 L215.96,187.92 L216.55,187.28 L217.71,186.09 L218.82,185.01 L219.89,184.03 L220.93,183.13 L221.94,182.3 L222.91,181.53 L223.86,180.82 L224.78,180.15 L225.67,179.54 L226.55,178.96 L227.39,178.41 L228.22,177.9 L229.03,177.42 L229.81,176.96 L230.95,176.32 L232.06,175.73 L233.13,175.18 L234.16,174.67 L235.16,174.2 L236.13,173.75 L237.08,173.33 L237.99,172.93 L238.88,172.56 L239.75,172.21 L240.87,171.76 L241.96,171.35 L243,170.97 L244.02,170.6 L245,170.26 L245.96,169.94 L246.88,169.64 L248.01,169.28 L249.09,168.95 L250.14,168.63 L251.16,168.34 L252.14,168.06 L253.1,167.8 L254.21,167.5 L255.29,167.22 L256.33,166.96 L257.33,166.71 L258.31,166.47 L259.41,166.21 L260.48,165.97 L261.51,165.74 L262.51,165.52 L263.62,165.29 L264.69,165.07 L265.72,164.86 L266.85,164.64 L267.94,164.43 L268.99,164.24 L270.01,164.05 L271.11,163.86 L272.17,163.67 L273.19,163.5 L274.29,163.32 L275.34,163.15 L276.46,162.97 L277.53,162.81 L278.66,162.64 L279.75,162.48 L280.81,162.33 L281.9,162.17 L282.97,162.03 L284.07,161.88 L285.13,161.74 L286.23,161.6 L287.35,161.46 L288.44,161.32 L289.55,161.19 L290.63,161.06 L291.73,160.94 L292.85,160.81 L293.98,160.69 L295.07,160.57 L296.18,160.45 L297.3,160.34 L298.43,160.22 L299.56,160.11 L300.66,160.01 L301.76,159.9 L302.86,159.8 L303.97,159.7 L305.08,159.6 L306.19,159.51 L307.33,159.41 L308.46,159.31 L309.59,159.22 L310.72,159.13 L311.83,159.05 L312.97,158.96 L314.1,158.87 L315.24,158.79 L316.37,158.71 L317.51,158.63 L318.64,158.55 L319.78,158.47 L320.93,158.4 L322.06,158.33 L323.19,158.25 L324.33,158.18 L324.96,158.14" fill="none" stroke="#0a14f0" stroke-width="2" stroke-dasharray="8.4 4.4"/>
<path d="M206.3,409.36 L207.09,351.58 L207.87,323.95 L208.63,305.89 L209.37,292.61 L210.09,282.18 L210.8,273.65 L211.49,266.48 L212.17,260.32 L212.83,254.95 L213.48,250.2 L214.12,245.97 L214.75,242.15 L215.36,238.69 L215.96,235.53 L216.55,232.63 L217.13,229.96 L217.71,227.49 L218.27,225.19 L218.82,223.05 L219.36,221.05 L219.89,219.17 L220.41,217.4 L220.93,215.74 L221.44,214.17 L221.94,212.69 L222.43,211.28 L222.91,209.94 L223.39,208.67 L223.86,207.46 L224.32,206.31 L224.78,205.21 L225.23,204.15 L225.67,203.15 L226.11,202.18 L226.55,201.26 L226.97,200.37 L227.39,199.52 L227.81,198.69 L228.22,197.9 L229.03,196.41 L229.81,195.02 L230.58,193.72 L231.33,192.5 L232.06,191.36 L232.78,190.29 L233.48,189.29 L234.16,188.33 L234.83,187.43 L235.49,186.58 L236.13,185.78 L236.77,185.01 L237.39,184.28 L237.99,183.58 L238.59,182.92 L239.18,182.29 L240.04,181.39 L240.87,180.56 L241.69,179.77 L242.48,179.03 L243.26,178.33 L244.02,177.67 L244.76,177.05 L245.48,176.46 L246.19,175.9 L246.88,175.37 L247.79,174.71 L248.66,174.08 L249.52,173.49 L250.35,172.94 L251.16,172.42 L251.95,171.93 L252.72,171.46 L253.66,170.91 L254.57,170.4 L255.46,169.92 L256.33,169.47 L257.17,169.04 L257.99,168.64 L258.94,168.18 L259.87,167.76 L260.78,167.36 L261.66,166.98 L262.51,166.63 L263.48,166.24 L264.42,165.87 L265.34,165.53 L266.23,165.21 L267.22,164.86 L268.18,164.54 L269.11,164.24 L270.12,163.92 L271.11,163.62 L272.06,163.34 L273.09,163.04 L274.09,162.77 L275.06,162.51 L276.09,162.25 L277.09,162 L278.06,161.77 L279.09,161.54 L280.08,161.31 L281.12,161.09 L282.13,160.88 L283.19,160.67 L284.21,160.47 L285.27,160.27 L286.29,160.09 L287.35,159.91 L288.44,159.72 L289.49,159.55 L290.57,159.38 L291.62,159.23 L292.68,159.07 L293.77,158.92 L294.87,158.77 L295.93,158.63 L297.01,158.49 L298.1,158.36 L299.2,158.23 L300.31,158.1 L301.42,157.98 L302.54,157.86 L303.66,157.75 L304.78,157.64 L305.9,157.53 L307.01,157.43 L308.12,157.33 L309.23,157.24 L310.37,157.15 L311.5,157.06 L312.61,156.97 L313.75,156.89 L314.88,156.81 L316.02,156.73 L317.15,156.66 L318.3,156.58 L319.45,156.51 L320.58,156.45 L321.72,156.38 L322.87,156.32 L324.01,156.26 L324.96,156.21" fill="none" stroke="#f81010" stroke-width="2" stroke-dasharray="8.4 4.4"/>
<mask id="m1_0" maskUnits="userSpaceOnUse" x="0" y="0" width="1085" height="665"><rect width="1085" height="665" fill="#fff"/>
<rect transform="translate(175.5,181.6) rotate(56)" x="-7.91" y="-3.42" width="15.81" height="6.84" fill="#000"/>
<rect transform="translate(174.5,195.8) rotate(45)" x="-7.91" y="-3.42" width="15.81" height="6.84" fill="#000"/>
</mask>
<g mask="url(#m1_0)"><path d="M152.9,161.6 L160.8,153.7 L171.3,152.8 L185,154.2 L199.7,160.5 L208.2,167.4 L212.4,174.7 L211.3,184.2 L207.1,194.7 L201.8,201.6 L194.5,204.2 L187.1,204 L180.8,200.5 L170.3,190.5 L160.8,175.8 Z" fill="none" stroke="#0a0af5" stroke-width="2.0" stroke-linejoin="round" /></g>
<g mask="url(#m1_0)"><path d="M169.7,162.6 L174.5,160.5 L186,161 L195.5,167.4 L201.8,174.7 L202.9,182.1 L199.7,189.5 L193.4,193.7 L186,193.9 L181.8,189.5 L169.7,171.6 L169,167.4 Z" fill="none" stroke="#0a0af5" stroke-width="2.0" stroke-linejoin="round" /></g>
<text transform="translate(175.5,181.6) rotate(56)" text-anchor="middle" dominant-baseline="central" font-size="7.2" font-weight="bold" fill="#0a0af5">0.75</text>
<text transform="translate(174.5,195.8) rotate(45)" text-anchor="middle" dominant-baseline="central" font-size="7.2" font-weight="bold" fill="#0a0af5">0.50</text>
<line x1="56.65" y1="18.01" x2="323.7" y2="287.19" stroke="#1e1e1e" stroke-width="1.6" stroke-dasharray="1.4 1.5"/>
</g>
<rect x="49.2" y="18.6" width="274.5" height="272.0" fill="none" stroke="#000" stroke-width="2"/>
<path d="M71.54,290.6 v-2.6 M71.54,18.6 v2.6 M84.61,290.6 v-2.6 M84.61,18.6 v2.6 M93.88,290.6 v-2.6 M93.88,18.6 v2.6 M101.07,290.6 v-2.6 M101.07,18.6 v2.6 M106.95,290.6 v-2.6 M106.95,18.6 v2.6 M111.91,290.6 v-2.6 M111.91,18.6 v2.6 M116.22,290.6 v-2.6 M116.22,18.6 v2.6 M120.01,290.6 v-2.6 M120.01,18.6 v2.6 M123.41,290.6 v-5 M123.41,18.6 v5 M145.75,290.6 v-2.6 M145.75,18.6 v2.6 M158.82,290.6 v-2.6 M158.82,18.6 v2.6 M168.09,290.6 v-2.6 M168.09,18.6 v2.6 M175.28,290.6 v-2.6 M175.28,18.6 v2.6 M181.16,290.6 v-2.6 M181.16,18.6 v2.6 M186.12,290.6 v-2.6 M186.12,18.6 v2.6 M190.43,290.6 v-2.6 M190.43,18.6 v2.6 M194.22,290.6 v-2.6 M194.22,18.6 v2.6 M197.62,290.6 v-5 M197.62,18.6 v5 M219.96,290.6 v-2.6 M219.96,18.6 v2.6 M233.03,290.6 v-2.6 M233.03,18.6 v2.6 M242.3,290.6 v-2.6 M242.3,18.6 v2.6 M249.49,290.6 v-2.6 M249.49,18.6 v2.6 M255.37,290.6 v-2.6 M255.37,18.6 v2.6 M260.33,290.6 v-2.6 M260.33,18.6 v2.6 M264.64,290.6 v-2.6 M264.64,18.6 v2.6 M268.43,290.6 v-2.6 M268.43,18.6 v2.6 M271.83,290.6 v-5 M271.83,18.6 v5 M294.17,290.6 v-2.6 M294.17,18.6 v2.6 M307.24,290.6 v-2.6 M307.24,18.6 v2.6 M316.51,290.6 v-2.6 M316.51,18.6 v2.6 M49.2,249.66 h2.6 M323.7,249.66 h-2.6 M49.2,225.71 h2.6 M323.7,225.71 h-2.6 M49.2,208.72 h2.6 M323.7,208.72 h-2.6 M49.2,195.54 h2.6 M323.7,195.54 h-2.6 M49.2,184.77 h2.6 M323.7,184.77 h-2.6 M49.2,175.67 h2.6 M323.7,175.67 h-2.6 M49.2,167.78 h2.6 M323.7,167.78 h-2.6 M49.2,160.82 h2.6 M323.7,160.82 h-2.6 M49.2,154.6 h5 M323.7,154.6 h-5 M49.2,113.66 h2.6 M323.7,113.66 h-2.6 M49.2,89.71 h2.6 M323.7,89.71 h-2.6 M49.2,72.72 h2.6 M323.7,72.72 h-2.6 M49.2,59.54 h2.6 M323.7,59.54 h-2.6 M49.2,48.77 h2.6 M323.7,48.77 h-2.6 M49.2,39.67 h2.6 M323.7,39.67 h-2.6 M49.2,31.78 h2.6 M323.7,31.78 h-2.6 M49.2,24.82 h2.6 M323.7,24.82 h-2.6" stroke="#000" stroke-width="1.5" fill="none"/>
<text x="49.2" y="307.3" text-anchor="middle" class="tl">10<tspan class="sup" dy="-5.2">−2</tspan></text>
<text x="123.41" y="307.3" text-anchor="middle" class="tl">10<tspan class="sup" dy="-5.2">−1</tspan></text>
<text x="197.62" y="307.3" text-anchor="middle" class="tl">10<tspan class="sup" dy="-5.2">0</tspan></text>
<text x="271.83" y="307.3" text-anchor="middle" class="tl">10<tspan class="sup" dy="-5.2">1</tspan></text>
<text x="45.8" y="292.1" text-anchor="end" class="tl">10<tspan class="sup" dy="-5.2">−1</tspan></text>
<text x="45.8" y="159.9" text-anchor="end" class="tl">10<tspan class="sup" dy="-5.2">0</tspan></text>
<text x="45.8" y="27.2" text-anchor="end" class="tl">10<tspan class="sup" dy="-5.2">1</tspan></text>
<text x="178.65" y="321.8" class="ax">β<tspan class="sub" dy="1.8">∥p</tspan></text>
<text transform="translate(11,155) rotate(-90)" text-anchor="middle" class="ax" textLength="36.4" lengthAdjust="spacingAndGlyphs">T<tspan class="sub" dy="1.6">⊥p</tspan><tspan dy="-1.6">/T</tspan><tspan class="sub" dy="1.6">∥p</tspan></text>
<text x="186.45" y="12" text-anchor="middle" class="ti" textLength="95.7" lengthAdjust="spacingAndGlyphs">All Solar Wind</text>
<text x="61.6" y="209.1" class="lg" fill="#a633f2" stroke="#a633f2" textLength="32.5" lengthAdjust="spacingAndGlyphs">mirror</text>
<text x="61.6" y="226.1" class="lg" fill="#14f0f0" stroke="#14f0f0" textLength="71.8" lengthAdjust="spacingAndGlyphs">ion−cyclotron</text>
<text x="61.6" y="239.6" class="lg" fill="#0a10f5" stroke="#0a10f5" textLength="84.2" lengthAdjust="spacingAndGlyphs">parallel firehose</text>
<text x="61.6" y="253.1" class="lg" fill="#fa1010" stroke="#fa1010" textLength="84" lengthAdjust="spacingAndGlyphs">oblique firehose</text>
<text x="61.6" y="266.6" class="lg" fill="#000" stroke="#000" textLength="83.6" lengthAdjust="spacingAndGlyphs">anti−correlation</text>
<text x="57" y="280.8" class="lg" fill="#1c2260" stroke="#1c2260">(a)</text>
<clipPath id="clip2"><rect x="412.2" y="18.6" width="274.5" height="272.0"/></clipPath>
<g clip-path="url(#clip2)">
<rect x="528.56" y="134.2" width="7.36" height="7.3" fill="#d24c31"/>
<rect x="535.42" y="134.2" width="7.36" height="7.3" fill="#d24c31"/>
<rect x="528.56" y="141" width="7.36" height="7.3" fill="#c22a1c"/>
<rect x="535.42" y="141" width="7.36" height="7.3" fill="#a60a0a"/>
<rect x="542.29" y="141" width="7.36" height="7.3" fill="#c22a1c"/>
<rect x="549.15" y="141" width="7.36" height="7.3" fill="#d24c31"/>
<rect x="556.01" y="141" width="7.36" height="7.3" fill="#ec8d6d"/>
<rect x="528.56" y="147.8" width="7.36" height="7.3" fill="#a60a0a"/>
<rect x="535.42" y="147.8" width="7.36" height="7.3" fill="#890000"/>
<rect x="542.29" y="147.8" width="7.36" height="7.3" fill="#890000"/>
<rect x="549.15" y="147.8" width="7.36" height="7.3" fill="#c22a1c"/>
<rect x="556.01" y="147.8" width="7.36" height="7.3" fill="#d24c31"/>
<rect x="562.88" y="147.8" width="7.36" height="7.3" fill="#ec8d6d"/>
<rect x="528.56" y="154.6" width="7.36" height="7.3" fill="#a60a0a"/>
<rect x="535.42" y="154.6" width="7.36" height="7.3" fill="#890000"/>
<rect x="542.29" y="154.6" width="7.36" height="7.3" fill="#660000"/>
<rect x="549.15" y="154.6" width="7.36" height="7.3" fill="#890000"/>
<rect x="556.01" y="154.6" width="7.36" height="7.3" fill="#a60a0a"/>
<rect x="562.88" y="154.6" width="7.36" height="7.3" fill="#c22a1c"/>
<rect x="569.74" y="154.6" width="7.36" height="7.3" fill="#e06c4f"/>
<rect x="576.6" y="154.6" width="7.36" height="7.3" fill="#f5b699"/>
<rect x="535.42" y="161.4" width="7.36" height="7.3" fill="#890000"/>
<rect x="542.29" y="161.4" width="7.36" height="7.3" fill="#660000"/>
<rect x="549.15" y="161.4" width="7.36" height="7.3" fill="#4b0000"/>
<rect x="556.01" y="161.4" width="7.36" height="7.3" fill="#660000"/>
<rect x="562.88" y="161.4" width="7.36" height="7.3" fill="#890000"/>
<rect x="569.74" y="161.4" width="7.36" height="7.3" fill="#c22a1c"/>
<rect x="576.6" y="161.4" width="7.36" height="7.3" fill="#e06c4f"/>
<rect x="583.46" y="161.4" width="7.36" height="7.3" fill="#f5b699"/>
<rect x="535.42" y="168.2" width="7.36" height="7.3" fill="#890000"/>
<rect x="542.29" y="168.2" width="7.36" height="7.3" fill="#660000"/>
<rect x="549.15" y="168.2" width="7.36" height="7.3" fill="#4b0000"/>
<rect x="556.01" y="168.2" width="7.36" height="7.3" fill="#4b0000"/>
<rect x="562.88" y="168.2" width="7.36" height="7.3" fill="#660000"/>
<rect x="569.74" y="168.2" width="7.36" height="7.3" fill="#a60a0a"/>
<rect x="576.6" y="168.2" width="7.36" height="7.3" fill="#d24c31"/>
<rect x="583.46" y="168.2" width="7.36" height="7.3" fill="#ec8d6d"/>
<rect x="542.29" y="175" width="7.36" height="7.3" fill="#890000"/>
<rect x="549.15" y="175" width="7.36" height="7.3" fill="#660000"/>
<rect x="556.01" y="175" width="7.36" height="7.3" fill="#4b0000"/>
<rect x="562.88" y="175" width="7.36" height="7.3" fill="#660000"/>
<rect x="569.74" y="175" width="7.36" height="7.3" fill="#890000"/>
<rect x="576.6" y="175" width="7.36" height="7.3" fill="#c22a1c"/>
<rect x="583.46" y="175" width="7.36" height="7.3" fill="#ec8d6d"/>
<rect x="542.29" y="181.8" width="7.36" height="7.3" fill="#a60a0a"/>
<rect x="549.15" y="181.8" width="7.36" height="7.3" fill="#890000"/>
<rect x="556.01" y="181.8" width="7.36" height="7.3" fill="#890000"/>
<rect x="562.88" y="181.8" width="7.36" height="7.3" fill="#890000"/>
<rect x="569.74" y="181.8" width="7.36" height="7.3" fill="#a60a0a"/>
<rect x="576.6" y="181.8" width="7.36" height="7.3" fill="#d24c31"/>
<rect x="583.46" y="181.8" width="7.36" height="7.3" fill="#f5b699"/>
<rect x="549.15" y="188.6" width="7.36" height="7.3" fill="#a60a0a"/>
<rect x="556.01" y="188.6" width="7.36" height="7.3" fill="#a60a0a"/>
<rect x="562.88" y="188.6" width="7.36" height="7.3" fill="#a60a0a"/>
<rect x="569.74" y="188.6" width="7.36" height="7.3" fill="#c22a1c"/>
<path d="M528.81,134.45 h6.86 M528.81,134.45 v6.8 M535.67,134.45 h6.86 M535.67,134.45 v6.8 M528.81,141.25 h6.86 M528.81,141.25 v6.8 M535.67,141.25 h6.86 M535.67,141.25 v6.8 M542.54,141.25 h6.86 M542.54,141.25 v6.8 M549.4,141.25 h6.86 M549.4,141.25 v6.8 M556.26,141.25 h6.86 M556.26,141.25 v6.8 M528.81,148.05 h6.86 M528.81,148.05 v6.8 M535.67,148.05 h6.86 M535.67,148.05 v6.8 M542.54,148.05 h6.86 M542.54,148.05 v6.8 M549.4,148.05 h6.86 M549.4,148.05 v6.8 M556.26,148.05 h6.86 M556.26,148.05 v6.8 M563.12,148.05 h6.86 M563.12,148.05 v6.8 M528.81,154.85 h6.86 M528.81,154.85 v6.8 M535.67,154.85 h6.86 M535.67,154.85 v6.8 M542.54,154.85 h6.86 M542.54,154.85 v6.8 M549.4,154.85 h6.86 M549.4,154.85 v6.8 M556.26,154.85 h6.86 M556.26,154.85 v6.8 M563.12,154.85 h6.86 M563.12,154.85 v6.8 M569.99,154.85 h6.86 M569.99,154.85 v6.8 M576.85,154.85 h6.86 M576.85,154.85 v6.8 M535.67,161.65 h6.86 M535.67,161.65 v6.8 M542.54,161.65 h6.86 M542.54,161.65 v6.8 M549.4,161.65 h6.86 M549.4,161.65 v6.8 M556.26,161.65 h6.86 M556.26,161.65 v6.8 M563.12,161.65 h6.86 M563.12,161.65 v6.8 M569.99,161.65 h6.86 M569.99,161.65 v6.8 M576.85,161.65 h6.86 M576.85,161.65 v6.8 M583.71,161.65 h6.86 M583.71,161.65 v6.8 M535.67,168.45 h6.86 M535.67,168.45 v6.8 M542.54,168.45 h6.86 M542.54,168.45 v6.8 M549.4,168.45 h6.86 M549.4,168.45 v6.8 M556.26,168.45 h6.86 M556.26,168.45 v6.8 M563.12,168.45 h6.86 M563.12,168.45 v6.8 M569.99,168.45 h6.86 M569.99,168.45 v6.8 M576.85,168.45 h6.86 M576.85,168.45 v6.8 M583.71,168.45 h6.86 M583.71,168.45 v6.8 M542.54,175.25 h6.86 M542.54,175.25 v6.8 M549.4,175.25 h6.86 M549.4,175.25 v6.8 M556.26,175.25 h6.86 M556.26,175.25 v6.8 M563.12,175.25 h6.86 M563.12,175.25 v6.8 M569.99,175.25 h6.86 M569.99,175.25 v6.8 M576.85,175.25 h6.86 M576.85,175.25 v6.8 M583.71,175.25 h6.86 M583.71,175.25 v6.8 M542.54,182.05 h6.86 M542.54,182.05 v6.8 M549.4,182.05 h6.86 M549.4,182.05 v6.8 M556.26,182.05 h6.86 M556.26,182.05 v6.8 M563.12,182.05 h6.86 M563.12,182.05 v6.8 M569.99,182.05 h6.86 M569.99,182.05 v6.8 M576.85,182.05 h6.86 M576.85,182.05 v6.8 M583.71,182.05 h6.86 M583.71,182.05 v6.8 M549.4,188.85 h6.86 M549.4,188.85 v6.8 M556.26,188.85 h6.86 M556.26,188.85 v6.8 M563.12,188.85 h6.86 M563.12,188.85 v6.8 M569.99,188.85 h6.86 M569.99,188.85 v6.8" stroke="#fff" stroke-opacity="0.09" stroke-width="0.7" fill="none"/>
<path d="M337.99,-16.23 L451.36,27.94 L473.21,47.47 L486.12,59.76 L495.31,68.55 L502.45,75.31 L508.29,80.74 L513.24,85.23 L517.53,89.05 L521.31,92.34 L524.69,95.22 L527.76,97.78 L530.55,100.06 L533.13,102.11 L535.51,103.98 L537.73,105.68 L539.8,107.24 L541.75,108.68 L543.59,110.02 L545.33,111.26 L546.98,112.41 L548.55,113.49 L550.05,114.5 L551.48,115.46 L552.85,116.36 L554.16,117.2 L555.43,118.01 L556.64,118.77 L557.81,119.49 L558.94,120.18 L560.03,120.84 L561.09,121.46 L562.11,122.06 L563.1,122.63 L564.06,123.18 L565,123.71 L565.9,124.21 L566.79,124.69 L567.65,125.16 L568.48,125.61 L569.3,126.04 L570.09,126.46 L571.63,127.25 L573.09,127.99 L574.49,128.68 L575.83,129.33 L577.12,129.95 L578.36,130.52 L579.55,131.07 L580.71,131.59 L581.82,132.08 L582.89,132.55 L583.93,132.99 L584.94,133.41 L585.91,133.82 L586.86,134.2 L587.78,134.57 L588.67,134.92 L589.55,135.26 L590.81,135.75 L592.03,136.2 L593.2,136.63 L594.33,137.04 L595.42,137.42 L596.48,137.79 L597.5,138.14 L598.49,138.47 L599.45,138.78 L600.39,139.09 L601.59,139.47 L602.75,139.83 L603.87,140.17 L604.96,140.49 L606,140.8 L607.02,141.09 L608,141.36 L608.96,141.63 L610.11,141.94 L611.23,142.24 L612.31,142.52 L613.35,142.78 L614.36,143.03 L615.34,143.27 L616.48,143.54 L617.57,143.8 L618.64,144.05 L619.66,144.28 L620.66,144.5 L621.79,144.74 L622.87,144.97 L623.93,145.19 L624.94,145.39 L626.07,145.62 L627.16,145.83 L628.21,146.03 L629.23,146.22 L630.34,146.42 L631.41,146.61 L632.45,146.79 L633.56,146.98 L634.64,147.16 L635.68,147.33 L636.79,147.51 L637.87,147.67 L639,147.85 L640.09,148.01 L641.15,148.16 L642.25,148.32 L643.32,148.47 L644.44,148.62 L645.51,148.76 L646.63,148.91 L647.71,149.04 L648.82,149.18 L649.89,149.31 L651,149.44 L652.13,149.57 L653.22,149.69 L654.33,149.81 L655.46,149.93 L656.55,150.05 L657.66,150.16 L658.78,150.27 L659.92,150.38 L661.06,150.49 L662.16,150.59 L663.27,150.69 L664.38,150.79 L665.5,150.89 L666.62,150.98 L667.74,151.07 L668.86,151.16 L669.98,151.25 L671.12,151.33 L672.27,151.42 L673.4,151.5 L674.53,151.58 L675.67,151.66 L676.81,151.73 L677.96,151.81 L679.11,151.88 L680.26,151.95 L681.4,152.02 L682.54,152.09 L683.7,152.16 L684.86,152.22 L686,152.28 L687.14,152.34 L687.96,152.38" fill="none" stroke="#a228f2" stroke-width="2" stroke-dasharray="8.4 4.4"/>
<path d="M337.99,33.32 L451.36,94.27 L473.21,104.39 L486.12,109.85 L495.31,113.49 L502.45,116.17 L508.29,118.28 L513.24,119.99 L517.53,121.43 L521.31,122.66 L524.69,123.73 L527.76,124.68 L530.55,125.53 L533.13,126.29 L535.51,126.98 L537.73,127.61 L539.8,128.19 L541.75,128.73 L543.59,129.22 L545.33,129.69 L546.98,130.12 L548.55,130.53 L550.05,130.91 L551.48,131.27 L552.85,131.62 L554.16,131.94 L555.43,132.25 L556.64,132.54 L557.81,132.82 L558.94,133.09 L560.03,133.34 L561.09,133.59 L562.11,133.82 L563.1,134.05 L565,134.47 L566.79,134.86 L568.48,135.23 L570.09,135.58 L571.63,135.9 L573.09,136.2 L574.49,136.49 L575.83,136.76 L577.12,137.02 L578.36,137.26 L579.55,137.49 L580.71,137.71 L581.82,137.93 L582.89,138.13 L583.93,138.32 L585.43,138.6 L586.86,138.86 L588.23,139.1 L589.55,139.33 L590.81,139.55 L592.03,139.76 L593.2,139.96 L594.33,140.15 L595.42,140.33 L596.48,140.51 L597.83,140.73 L599.13,140.94 L600.39,141.13 L601.59,141.32 L602.75,141.5 L603.87,141.67 L604.96,141.83 L606,141.99 L607.27,142.18 L608.48,142.35 L609.66,142.52 L610.79,142.68 L611.88,142.83 L612.94,142.98 L614.16,143.15 L615.34,143.3 L616.48,143.46 L617.57,143.6 L618.64,143.74 L619.83,143.89 L620.99,144.04 L622.1,144.18 L623.18,144.31 L624.37,144.46 L625.51,144.6 L626.62,144.73 L627.82,144.87 L628.98,145 L630.1,145.13 L631.18,145.25 L632.33,145.38 L633.45,145.51 L634.64,145.64 L635.79,145.76 L636.89,145.88 L638.06,146 L639.18,146.12 L640.36,146.24 L641.49,146.35 L642.59,146.46 L643.73,146.57 L644.83,146.68 L645.97,146.79 L647.07,146.89 L648.2,147 L649.36,147.11 L650.48,147.21 L651.63,147.31 L652.74,147.41 L653.87,147.51 L655.01,147.61 L656.12,147.7 L657.24,147.8 L658.38,147.89 L659.53,147.99 L660.68,148.08 L661.8,148.17 L662.92,148.26 L664.04,148.34 L665.17,148.43 L666.3,148.52 L667.43,148.6 L668.56,148.69 L669.69,148.77 L670.81,148.85 L671.97,148.93 L673.11,149.01 L674.25,149.09 L675.38,149.17 L676.52,149.24 L677.66,149.32 L678.81,149.39 L679.95,149.47 L681.1,149.54 L682.23,149.61 L683.37,149.68 L684.52,149.75 L685.67,149.82 L686.8,149.89 L687.94,149.95 L687.96,149.96" fill="none" stroke="#10eef0" stroke-width="2" stroke-dasharray="8.4 4.4"/>
<path d="M555.43,341.03 L556.64,290.25 L557.81,266.84 L558.94,252.24 L560.03,241.94 L561.09,234.16 L562.11,228.01 L563.1,222.99 L564.06,218.81 L565,215.24 L565.9,212.16 L566.79,209.47 L567.65,207.09 L568.48,204.97 L569.3,203.06 L570.09,201.34 L570.87,199.77 L571.63,198.33 L572.37,197.02 L573.09,195.8 L573.8,194.67 L574.49,193.62 L575.17,192.65 L575.83,191.73 L576.48,190.88 L577.12,190.07 L577.75,189.31 L578.36,188.6 L578.96,187.92 L579.55,187.28 L580.71,186.09 L581.82,185.01 L582.89,184.03 L583.93,183.13 L584.94,182.3 L585.91,181.53 L586.86,180.82 L587.78,180.15 L588.67,179.54 L589.55,178.96 L590.39,178.41 L591.22,177.9 L592.03,177.42 L592.81,176.96 L593.95,176.32 L595.06,175.73 L596.13,175.18 L597.16,174.67 L598.16,174.2 L599.13,173.75 L600.08,173.33 L600.99,172.93 L601.88,172.56 L602.75,172.21 L603.87,171.76 L604.96,171.35 L606,170.97 L607.02,170.6 L608,170.26 L608.96,169.94 L609.88,169.64 L611.01,169.28 L612.09,168.95 L613.14,168.63 L614.16,168.34 L615.14,168.06 L616.1,167.8 L617.21,167.5 L618.29,167.22 L619.33,166.96 L620.33,166.71 L621.31,166.47 L622.41,166.21 L623.48,165.97 L624.51,165.74 L625.51,165.52 L626.62,165.29 L627.69,165.07 L628.72,164.86 L629.85,164.64 L630.94,164.43 L631.99,164.24 L633.01,164.05 L634.11,163.86 L635.17,163.67 L636.19,163.5 L637.29,163.32 L638.34,163.15 L639.46,162.97 L640.53,162.81 L641.66,162.64 L642.75,162.48 L643.81,162.33 L644.9,162.17 L645.97,162.03 L647.07,161.88 L648.13,161.74 L649.23,161.6 L650.35,161.46 L651.44,161.32 L652.55,161.19 L653.63,161.06 L654.73,160.94 L655.85,160.81 L656.98,160.69 L658.07,160.57 L659.18,160.45 L660.3,160.34 L661.43,160.22 L662.56,160.11 L663.66,160.01 L664.76,159.9 L665.86,159.8 L666.97,159.7 L668.08,159.6 L669.19,159.51 L670.33,159.41 L671.46,159.31 L672.59,159.22 L673.72,159.13 L674.83,159.05 L675.97,158.96 L677.1,158.87 L678.24,158.79 L679.37,158.71 L680.51,158.63 L681.64,158.55 L682.78,158.47 L683.93,158.4 L685.06,158.33 L686.19,158.25 L687.33,158.18 L687.96,158.14" fill="none" stroke="#0a14f0" stroke-width="2" stroke-dasharray="8.4 4.4"/>
<path d="M569.3,409.36 L570.09,351.58 L570.87,323.95 L571.63,305.89 L572.37,292.61 L573.09,282.18 L573.8,273.65 L574.49,266.48 L575.17,260.32 L575.83,254.95 L576.48,250.2 L577.12,245.97 L577.75,242.15 L578.36,238.69 L578.96,235.53 L579.55,232.63 L580.13,229.96 L580.71,227.49 L581.27,225.19 L581.82,223.05 L582.36,221.05 L582.89,219.17 L583.41,217.4 L583.93,215.74 L584.44,214.17 L584.94,212.69 L585.43,211.28 L585.91,209.94 L586.39,208.67 L586.86,207.46 L587.32,206.31 L587.78,205.21 L588.23,204.15 L588.67,203.15 L589.11,202.18 L589.55,201.26 L589.97,200.37 L590.39,199.52 L590.81,198.69 L591.22,197.9 L592.03,196.41 L592.81,195.02 L593.58,193.72 L594.33,192.5 L595.06,191.36 L595.78,190.29 L596.48,189.29 L597.16,188.33 L597.83,187.43 L598.49,186.58 L599.13,185.78 L599.77,185.01 L600.39,184.28 L600.99,183.58 L601.59,182.92 L602.18,182.29 L603.04,181.39 L603.87,180.56 L604.69,179.77 L605.48,179.03 L606.26,178.33 L607.02,177.67 L607.76,177.05 L608.48,176.46 L609.19,175.9 L609.88,175.37 L610.79,174.71 L611.66,174.08 L612.52,173.49 L613.35,172.94 L614.16,172.42 L614.95,171.93 L615.72,171.46 L616.66,170.91 L617.57,170.4 L618.46,169.92 L619.33,169.47 L620.17,169.04 L620.99,168.64 L621.94,168.18 L622.87,167.76 L623.78,167.36 L624.66,166.98 L625.51,166.63 L626.48,166.24 L627.42,165.87 L628.34,165.53 L629.23,165.21 L630.22,164.86 L631.18,164.54 L632.11,164.24 L633.12,163.92 L634.11,163.62 L635.06,163.34 L636.09,163.04 L637.09,162.77 L638.06,162.51 L639.09,162.25 L640.09,162 L641.06,161.77 L642.09,161.54 L643.08,161.31 L644.12,161.09 L645.13,160.88 L646.19,160.67 L647.21,160.47 L648.27,160.27 L649.29,160.09 L650.35,159.91 L651.44,159.72 L652.49,159.55 L653.57,159.38 L654.62,159.23 L655.68,159.07 L656.77,158.92 L657.87,158.77 L658.93,158.63 L660.01,158.49 L661.1,158.36 L662.2,158.23 L663.31,158.1 L664.42,157.98 L665.54,157.86 L666.66,157.75 L667.78,157.64 L668.9,157.53 L670.01,157.43 L671.12,157.33 L672.23,157.24 L673.37,157.15 L674.5,157.06 L675.61,156.97 L676.75,156.89 L677.88,156.81 L679.02,156.73 L680.15,156.66 L681.3,156.58 L682.45,156.51 L683.58,156.45 L684.72,156.38 L685.87,156.32 L687.01,156.26 L687.96,156.21" fill="none" stroke="#f81010" stroke-width="2" stroke-dasharray="8.4 4.4"/>
<mask id="m2_0" maskUnits="userSpaceOnUse" x="0" y="0" width="1085" height="665"><rect width="1085" height="665" fill="#fff"/>
<rect transform="translate(543.9,180.7) rotate(48)" x="-7.91" y="-3.42" width="15.81" height="6.84" fill="#000"/>
</mask>
<g mask="url(#m2_0)"><path d="M535.6,154.8 L537.5,151.8 L541.3,149.7 L545.8,149.9 L552.6,152.5 L561.6,157 L570.6,162.3 L578.1,169.1 L581.9,175.1 L580.4,181.1 L575.1,187.9 L569.1,192 L561.6,192 L554.8,189.4 L550.3,185.6 L540.5,176.6 L537.5,169.8 L535.6,162.3 Z" fill="none" stroke="#0a0af5" stroke-width="2.0" stroke-linejoin="round" /></g>
<g mask="url(#m2_0)"><path d="M545.4,159.7 L550.3,162.7 L554.1,160.8 L560.1,160 L564.6,165.3 L570.6,172.8 L571.4,175.8 L568.3,181.1 L562.3,184.5 L557.8,184.1 L554.1,180.3 L551.8,175.1 L547.3,171.3 L544.3,168.3 L544.7,163 Z" fill="none" stroke="#0a0af5" stroke-width="2.0" stroke-linejoin="round" /></g>
<text transform="translate(543.9,180.7) rotate(48)" text-anchor="middle" dominant-baseline="central" font-size="7.2" font-weight="bold" fill="#0a0af5">0.50</text>
<line x1="419.65" y1="18.01" x2="686.7" y2="287.19" stroke="#1e1e1e" stroke-width="1.6" stroke-dasharray="1.4 1.5"/>
</g>
<rect x="412.2" y="18.6" width="274.5" height="272.0" fill="none" stroke="#000" stroke-width="2"/>
<path d="M434.54,290.6 v-2.6 M434.54,18.6 v2.6 M447.61,290.6 v-2.6 M447.61,18.6 v2.6 M456.88,290.6 v-2.6 M456.88,18.6 v2.6 M464.07,290.6 v-2.6 M464.07,18.6 v2.6 M469.95,290.6 v-2.6 M469.95,18.6 v2.6 M474.91,290.6 v-2.6 M474.91,18.6 v2.6 M479.22,290.6 v-2.6 M479.22,18.6 v2.6 M483.01,290.6 v-2.6 M483.01,18.6 v2.6 M486.41,290.6 v-5 M486.41,18.6 v5 M508.75,290.6 v-2.6 M508.75,18.6 v2.6 M521.82,290.6 v-2.6 M521.82,18.6 v2.6 M531.09,290.6 v-2.6 M531.09,18.6 v2.6 M538.28,290.6 v-2.6 M538.28,18.6 v2.6 M544.16,290.6 v-2.6 M544.16,18.6 v2.6 M549.12,290.6 v-2.6 M549.12,18.6 v2.6 M553.43,290.6 v-2.6 M553.43,18.6 v2.6 M557.22,290.6 v-2.6 M557.22,18.6 v2.6 M560.62,290.6 v-5 M560.62,18.6 v5 M582.96,290.6 v-2.6 M582.96,18.6 v2.6 M596.03,290.6 v-2.6 M596.03,18.6 v2.6 M605.3,290.6 v-2.6 M605.3,18.6 v2.6 M612.49,290.6 v-2.6 M612.49,18.6 v2.6 M618.37,290.6 v-2.6 M618.37,18.6 v2.6 M623.33,290.6 v-2.6 M623.33,18.6 v2.6 M627.64,290.6 v-2.6 M627.64,18.6 v2.6 M631.43,290.6 v-2.6 M631.43,18.6 v2.6 M634.83,290.6 v-5 M634.83,18.6 v5 M657.17,290.6 v-2.6 M657.17,18.6 v2.6 M670.24,290.6 v-2.6 M670.24,18.6 v2.6 M679.51,290.6 v-2.6 M679.51,18.6 v2.6 M412.2,249.66 h2.6 M686.7,249.66 h-2.6 M412.2,225.71 h2.6 M686.7,225.71 h-2.6 M412.2,208.72 h2.6 M686.7,208.72 h-2.6 M412.2,195.54 h2.6 M686.7,195.54 h-2.6 M412.2,184.77 h2.6 M686.7,184.77 h-2.6 M412.2,175.67 h2.6 M686.7,175.67 h-2.6 M412.2,167.78 h2.6 M686.7,167.78 h-2.6 M412.2,160.82 h2.6 M686.7,160.82 h-2.6 M412.2,154.6 h5 M686.7,154.6 h-5 M412.2,113.66 h2.6 M686.7,113.66 h-2.6 M412.2,89.71 h2.6 M686.7,89.71 h-2.6 M412.2,72.72 h2.6 M686.7,72.72 h-2.6 M412.2,59.54 h2.6 M686.7,59.54 h-2.6 M412.2,48.77 h2.6 M686.7,48.77 h-2.6 M412.2,39.67 h2.6 M686.7,39.67 h-2.6 M412.2,31.78 h2.6 M686.7,31.78 h-2.6 M412.2,24.82 h2.6 M686.7,24.82 h-2.6" stroke="#000" stroke-width="1.5" fill="none"/>
<text x="412.2" y="307.3" text-anchor="middle" class="tl">10<tspan class="sup" dy="-5.2">−2</tspan></text>
<text x="486.41" y="307.3" text-anchor="middle" class="tl">10<tspan class="sup" dy="-5.2">−1</tspan></text>
<text x="560.62" y="307.3" text-anchor="middle" class="tl">10<tspan class="sup" dy="-5.2">0</tspan></text>
<text x="634.83" y="307.3" text-anchor="middle" class="tl">10<tspan class="sup" dy="-5.2">1</tspan></text>
<text x="408.8" y="292.1" text-anchor="end" class="tl">10<tspan class="sup" dy="-5.2">−1</tspan></text>
<text x="408.8" y="159.9" text-anchor="end" class="tl">10<tspan class="sup" dy="-5.2">0</tspan></text>
<text x="408.8" y="27.2" text-anchor="end" class="tl">10<tspan class="sup" dy="-5.2">1</tspan></text>
<text x="541.65" y="321.8" class="ax">β<tspan class="sub" dy="1.8">∥p</tspan></text>
<text transform="translate(374,155) rotate(-90)" text-anchor="middle" class="ax" textLength="36.4" lengthAdjust="spacingAndGlyphs">T<tspan class="sub" dy="1.6">⊥p</tspan><tspan dy="-1.6">/T</tspan><tspan class="sub" dy="1.6">∥p</tspan></text>
<text x="549.45" y="12" text-anchor="middle" class="ti" textLength="110.7" lengthAdjust="spacingAndGlyphs">Fast Solar Wind</text>
<text x="424.6" y="209.1" class="lg" fill="#a633f2" stroke="#a633f2" textLength="32.5" lengthAdjust="spacingAndGlyphs">mirror</text>
<text x="424.6" y="226.1" class="lg" fill="#14f0f0" stroke="#14f0f0" textLength="71.8" lengthAdjust="spacingAndGlyphs">ion−cyclotron</text>
<text x="424.6" y="239.6" class="lg" fill="#0a10f5" stroke="#0a10f5" textLength="84.2" lengthAdjust="spacingAndGlyphs">parallel firehose</text>
<text x="424.6" y="253.1" class="lg" fill="#fa1010" stroke="#fa1010" textLength="84" lengthAdjust="spacingAndGlyphs">oblique firehose</text>
<text x="424.6" y="266.6" class="lg" fill="#000" stroke="#000" textLength="83.6" lengthAdjust="spacingAndGlyphs">anti−correlation</text>
<text x="416.3" y="280.8" class="lg" fill="#1c2260" stroke="#1c2260">(b)</text>
<clipPath id="clip3"><rect x="775.2" y="18.6" width="274.5" height="272.0"/></clipPath>
<g clip-path="url(#clip3)">
<rect x="829.3" y="127.4" width="7.36" height="7.3" fill="#c22a1c"/>
<rect x="836.16" y="127.4" width="7.36" height="7.3" fill="#c22a1c"/>
<rect x="843.03" y="127.4" width="7.36" height="7.3" fill="#d24c31"/>
<rect x="849.89" y="127.4" width="7.36" height="7.3" fill="#c22a1c"/>
<rect x="856.75" y="127.4" width="7.36" height="7.3" fill="#d24c31"/>
<rect x="863.61" y="127.4" width="7.36" height="7.3" fill="#d24c31"/>
<rect x="870.48" y="127.4" width="7.36" height="7.3" fill="#d24c31"/>
<rect x="877.34" y="127.4" width="7.36" height="7.3" fill="#e06c4f"/>
<rect x="884.2" y="127.4" width="7.36" height="7.3" fill="#ec8d6d"/>
<rect x="891.06" y="127.4" width="7.36" height="7.3" fill="#ec8d6d"/>
<rect x="897.93" y="127.4" width="7.36" height="7.3" fill="#ec8d6d"/>
<rect x="904.79" y="127.4" width="7.36" height="7.3" fill="#f5b699"/>
<rect x="815.58" y="134.2" width="7.36" height="7.3" fill="#a60a0a"/>
<rect x="822.44" y="134.2" width="7.36" height="7.3" fill="#a60a0a"/>
<rect x="829.3" y="134.2" width="7.36" height="7.3" fill="#a60a0a"/>
<rect x="836.16" y="134.2" width="7.36" height="7.3" fill="#a60a0a"/>
<rect x="843.03" y="134.2" width="7.36" height="7.3" fill="#a60a0a"/>
<rect x="849.89" y="134.2" width="7.36" height="7.3" fill="#a60a0a"/>
<rect x="856.75" y="134.2" width="7.36" height="7.3" fill="#a60a0a"/>
<rect x="863.61" y="134.2" width="7.36" height="7.3" fill="#c22a1c"/>
<rect x="870.48" y="134.2" width="7.36" height="7.3" fill="#c22a1c"/>
<rect x="877.34" y="134.2" width="7.36" height="7.3" fill="#c22a1c"/>
<rect x="884.2" y="134.2" width="7.36" height="7.3" fill="#d24c31"/>
<rect x="891.06" y="134.2" width="7.36" height="7.3" fill="#d24c31"/>
<rect x="897.93" y="134.2" width="7.36" height="7.3" fill="#e06c4f"/>
<rect x="904.79" y="134.2" width="7.36" height="7.3" fill="#e06c4f"/>
<rect x="911.65" y="134.2" width="7.36" height="7.3" fill="#ec8d6d"/>
<rect x="918.51" y="134.2" width="7.36" height="7.3" fill="#f5b699"/>
<rect x="925.38" y="134.2" width="7.36" height="7.3" fill="#f5b699"/>
<rect x="932.24" y="134.2" width="7.36" height="7.3" fill="#f9d8c7"/>
<rect x="801.85" y="141" width="7.36" height="7.3" fill="#890000"/>
<rect x="808.71" y="141" width="7.36" height="7.3" fill="#890000"/>
<rect x="815.58" y="141" width="7.36" height="7.3" fill="#890000"/>
<rect x="822.44" y="141" width="7.36" height="7.3" fill="#890000"/>
<rect x="829.3" y="141" width="7.36" height="7.3" fill="#890000"/>
<rect x="836.16" y="141" width="7.36" height="7.3" fill="#660000"/>
<rect x="843.03" y="141" width="7.36" height="7.3" fill="#890000"/>
<rect x="849.89" y="141" width="7.36" height="7.3" fill="#890000"/>
<rect x="856.75" y="141" width="7.36" height="7.3" fill="#890000"/>
<rect x="863.61" y="141" width="7.36" height="7.3" fill="#a60a0a"/>
<rect x="870.48" y="141" width="7.36" height="7.3" fill="#a60a0a"/>
<rect x="877.34" y="141" width="7.36" height="7.3" fill="#a60a0a"/>
<rect x="884.2" y="141" width="7.36" height="7.3" fill="#a60a0a"/>
<rect x="891.06" y="141" width="7.36" height="7.3" fill="#c22a1c"/>
<rect x="897.93" y="141" width="7.36" height="7.3" fill="#c22a1c"/>
<rect x="904.79" y="141" width="7.36" height="7.3" fill="#d24c31"/>
<rect x="911.65" y="141" width="7.36" height="7.3" fill="#e06c4f"/>
<rect x="918.51" y="141" width="7.36" height="7.3" fill="#e06c4f"/>
<rect x="925.38" y="141" width="7.36" height="7.3" fill="#ec8d6d"/>
<rect x="932.24" y="141" width="7.36" height="7.3" fill="#f5b699"/>
<rect x="939.1" y="141" width="7.36" height="7.3" fill="#f5b699"/>
<rect x="945.96" y="141" width="7.36" height="7.3" fill="#f9d8c7"/>
<rect x="952.83" y="141" width="7.36" height="7.3" fill="#f2ecea"/>
<rect x="959.69" y="141" width="7.36" height="7.3" fill="#dfe8f0"/>
<rect x="794.99" y="147.8" width="7.36" height="7.3" fill="#660000"/>
<rect x="801.85" y="147.8" width="7.36" height="7.3" fill="#660000"/>
<rect x="808.71" y="147.8" width="7.36" height="7.3" fill="#4b0000"/>
<rect x="815.58" y="147.8" width="7.36" height="7.3" fill="#4b0000"/>
<rect x="822.44" y="147.8" width="7.36" height="7.3" fill="#4b0000"/>
<rect x="829.3" y="147.8" width="7.36" height="7.3" fill="#4b0000"/>
<rect x="836.16" y="147.8" width="7.36" height="7.3" fill="#4b0000"/>
<rect x="843.03" y="147.8" width="7.36" height="7.3" fill="#4b0000"/>
<rect x="849.89" y="147.8" width="7.36" height="7.3" fill="#4b0000"/>
<rect x="856.75" y="147.8" width="7.36" height="7.3" fill="#660000"/>
<rect x="863.61" y="147.8" width="7.36" height="7.3" fill="#660000"/>
<rect x="870.48" y="147.8" width="7.36" height="7.3" fill="#660000"/>
<rect x="877.34" y="147.8" width="7.36" height="7.3" fill="#890000"/>
<rect x="884.2" y="147.8" width="7.36" height="7.3" fill="#890000"/>
<rect x="891.06" y="147.8" width="7.36" height="7.3" fill="#a60a0a"/>
<rect x="897.93" y="147.8" width="7.36" height="7.3" fill="#a60a0a"/>
<rect x="904.79" y="147.8" width="7.36" height="7.3" fill="#c22a1c"/>
<rect x="911.65" y="147.8" width="7.36" height="7.3" fill="#c22a1c"/>
<rect x="918.51" y="147.8" width="7.36" height="7.3" fill="#d24c31"/>
<rect x="925.38" y="147.8" width="7.36" height="7.3" fill="#d24c31"/>
<rect x="932.24" y="147.8" width="7.36" height="7.3" fill="#e06c4f"/>
<rect x="939.1" y="147.8" width="7.36" height="7.3" fill="#ec8d6d"/>
<rect x="945.96" y="147.8" width="7.36" height="7.3" fill="#f5b699"/>
<rect x="952.83" y="147.8" width="7.36" height="7.3" fill="#f5b699"/>
<rect x="959.69" y="147.8" width="7.36" height="7.3" fill="#f9d8c7"/>
<rect x="966.55" y="147.8" width="7.36" height="7.3" fill="#f2ecea"/>
<rect x="973.41" y="147.8" width="7.36" height="7.3" fill="#dfe8f0"/>
<rect x="980.28" y="147.8" width="7.36" height="7.3" fill="#c6dbea"/>
<rect x="987.14" y="147.8" width="7.36" height="7.3" fill="#a3c7df"/>
<rect x="801.85" y="154.6" width="7.36" height="7.3" fill="#660000"/>
<rect x="808.71" y="154.6" width="7.36" height="7.3" fill="#660000"/>
<rect x="815.58" y="154.6" width="7.36" height="7.3" fill="#4b0000"/>
<rect x="822.44" y="154.6" width="7.36" height="7.3" fill="#4b0000"/>
<rect x="829.3" y="154.6" width="7.36" height="7.3" fill="#4b0000"/>
<rect x="836.16" y="154.6" width="7.36" height="7.3" fill="#4b0000"/>
<rect x="843.03" y="154.6" width="7.36" height="7.3" fill="#4b0000"/>
<rect x="849.89" y="154.6" width="7.36" height="7.3" fill="#4b0000"/>
<rect x="856.75" y="154.6" width="7.36" height="7.3" fill="#4b0000"/>
<rect x="863.61" y="154.6" width="7.36" height="7.3" fill="#660000"/>
<rect x="870.48" y="154.6" width="7.36" height="7.3" fill="#890000"/>
<rect x="877.34" y="154.6" width="7.36" height="7.3" fill="#890000"/>
<rect x="884.2" y="154.6" width="7.36" height="7.3" fill="#890000"/>
<rect x="891.06" y="154.6" width="7.36" height="7.3" fill="#890000"/>
<rect x="897.93" y="154.6" width="7.36" height="7.3" fill="#890000"/>
<rect x="904.79" y="154.6" width="7.36" height="7.3" fill="#a60a0a"/>
<rect x="911.65" y="154.6" width="7.36" height="7.3" fill="#a60a0a"/>
<rect x="918.51" y="154.6" width="7.36" height="7.3" fill="#c22a1c"/>
<rect x="925.38" y="154.6" width="7.36" height="7.3" fill="#c22a1c"/>
<rect x="932.24" y="154.6" width="7.36" height="7.3" fill="#d24c31"/>
<rect x="939.1" y="154.6" width="7.36" height="7.3" fill="#d24c31"/>
<rect x="945.96" y="154.6" width="7.36" height="7.3" fill="#e06c4f"/>
<rect x="952.83" y="154.6" width="7.36" height="7.3" fill="#ec8d6d"/>
<rect x="959.69" y="154.6" width="7.36" height="7.3" fill="#f5b699"/>
<rect x="966.55" y="154.6" width="7.36" height="7.3" fill="#f9d8c7"/>
<rect x="973.41" y="154.6" width="7.36" height="7.3" fill="#f2ecea"/>
<rect x="980.28" y="154.6" width="7.36" height="7.3" fill="#c6dbea"/>
<rect x="987.14" y="154.6" width="7.36" height="7.3" fill="#c6dbea"/>
<rect x="815.58" y="161.4" width="7.36" height="7.3" fill="#660000"/>
<rect x="822.44" y="161.4" width="7.36" height="7.3" fill="#660000"/>
<rect x="829.3" y="161.4" width="7.36" height="7.3" fill="#660000"/>
<rect x="836.16" y="161.4" width="7.36" height="7.3" fill="#660000"/>
<rect x="843.03" y="161.4" width="7.36" height="7.3" fill="#660000"/>
<rect x="849.89" y="161.4" width="7.36" height="7.3" fill="#660000"/>
<rect x="856.75" y="161.4" width="7.36" height="7.3" fill="#660000"/>
<rect x="863.61" y="161.4" width="7.36" height="7.3" fill="#660000"/>
<rect x="870.48" y="161.4" width="7.36" height="7.3" fill="#890000"/>
<rect x="877.34" y="161.4" width="7.36" height="7.3" fill="#890000"/>
<rect x="884.2" y="161.4" width="7.36" height="7.3" fill="#890000"/>
<rect x="891.06" y="161.4" width="7.36" height="7.3" fill="#890000"/>
<rect x="897.93" y="161.4" width="7.36" height="7.3" fill="#890000"/>
<rect x="904.79" y="161.4" width="7.36" height="7.3" fill="#890000"/>
<rect x="911.65" y="161.4" width="7.36" height="7.3" fill="#a60a0a"/>
<rect x="918.51" y="161.4" width="7.36" height="7.3" fill="#a60a0a"/>
<rect x="925.38" y="161.4" width="7.36" height="7.3" fill="#a60a0a"/>
<rect x="932.24" y="161.4" width="7.36" height="7.3" fill="#c22a1c"/>
<rect x="939.1" y="161.4" width="7.36" height="7.3" fill="#d24c31"/>
<rect x="945.96" y="161.4" width="7.36" height="7.3" fill="#e06c4f"/>
<rect x="952.83" y="161.4" width="7.36" height="7.3" fill="#ec8d6d"/>
<rect x="959.69" y="161.4" width="7.36" height="7.3" fill="#f5b699"/>
<rect x="966.55" y="161.4" width="7.36" height="7.3" fill="#f2ecea"/>
<rect x="973.41" y="161.4" width="7.36" height="7.3" fill="#dfe8f0"/>
<rect x="829.3" y="168.2" width="7.36" height="7.3" fill="#890000"/>
<rect x="836.16" y="168.2" width="7.36" height="7.3" fill="#890000"/>
<rect x="843.03" y="168.2" width="7.36" height="7.3" fill="#890000"/>
<rect x="849.89" y="168.2" width="7.36" height="7.3" fill="#890000"/>
<rect x="856.75" y="168.2" width="7.36" height="7.3" fill="#890000"/>
<rect x="863.61" y="168.2" width="7.36" height="7.3" fill="#890000"/>
<rect x="870.48" y="168.2" width="7.36" height="7.3" fill="#890000"/>
<rect x="877.34" y="168.2" width="7.36" height="7.3" fill="#890000"/>
<rect x="884.2" y="168.2" width="7.36" height="7.3" fill="#890000"/>
<rect x="891.06" y="168.2" width="7.36" height="7.3" fill="#890000"/>
<rect x="897.93" y="168.2" width="7.36" height="7.3" fill="#890000"/>
<rect x="904.79" y="168.2" width="7.36" height="7.3" fill="#890000"/>
<rect x="911.65" y="168.2" width="7.36" height="7.3" fill="#890000"/>
<rect x="918.51" y="168.2" width="7.36" height="7.3" fill="#a60a0a"/>
<rect x="925.38" y="168.2" width="7.36" height="7.3" fill="#a60a0a"/>
<rect x="932.24" y="168.2" width="7.36" height="7.3" fill="#c22a1c"/>
<rect x="939.1" y="168.2" width="7.36" height="7.3" fill="#d24c31"/>
<rect x="945.96" y="168.2" width="7.36" height="7.3" fill="#e06c4f"/>
<rect x="952.83" y="168.2" width="7.36" height="7.3" fill="#ec8d6d"/>
<rect x="959.69" y="168.2" width="7.36" height="7.3" fill="#f5b699"/>
<rect x="966.55" y="168.2" width="7.36" height="7.3" fill="#dfe8f0"/>
<rect x="836.16" y="175" width="7.36" height="7.3" fill="#a60a0a"/>
<rect x="843.03" y="175" width="7.36" height="7.3" fill="#a60a0a"/>
<rect x="849.89" y="175" width="7.36" height="7.3" fill="#a60a0a"/>
<rect x="856.75" y="175" width="7.36" height="7.3" fill="#890000"/>
<rect x="863.61" y="175" width="7.36" height="7.3" fill="#890000"/>
<rect x="870.48" y="175" width="7.36" height="7.3" fill="#890000"/>
<rect x="877.34" y="175" width="7.36" height="7.3" fill="#890000"/>
<rect x="884.2" y="175" width="7.36" height="7.3" fill="#890000"/>
<rect x="891.06" y="175" width="7.36" height="7.3" fill="#890000"/>
<rect x="897.93" y="175" width="7.36" height="7.3" fill="#890000"/>
<rect x="904.79" y="175" width="7.36" height="7.3" fill="#890000"/>
<rect x="911.65" y="175" width="7.36" height="7.3" fill="#890000"/>
<rect x="918.51" y="175" width="7.36" height="7.3" fill="#a60a0a"/>
<rect x="925.38" y="175" width="7.36" height="7.3" fill="#a60a0a"/>
<rect x="932.24" y="175" width="7.36" height="7.3" fill="#c22a1c"/>
<rect x="939.1" y="175" width="7.36" height="7.3" fill="#d24c31"/>
<rect x="945.96" y="175" width="7.36" height="7.3" fill="#e06c4f"/>
<rect x="952.83" y="175" width="7.36" height="7.3" fill="#ec8d6d"/>
<rect x="959.69" y="175" width="7.36" height="7.3" fill="#dfe8f0"/>
<rect x="849.89" y="181.8" width="7.36" height="7.3" fill="#c22a1c"/>
<rect x="856.75" y="181.8" width="7.36" height="7.3" fill="#a60a0a"/>
<rect x="863.61" y="181.8" width="7.36" height="7.3" fill="#a60a0a"/>
<rect x="870.48" y="181.8" width="7.36" height="7.3" fill="#890000"/>
<rect x="877.34" y="181.8" width="7.36" height="7.3" fill="#890000"/>
<rect x="884.2" y="181.8" width="7.36" height="7.3" fill="#890000"/>
<rect x="891.06" y="181.8" width="7.36" height="7.3" fill="#890000"/>
<rect x="897.93" y="181.8" width="7.36" height="7.3" fill="#890000"/>
<rect x="904.79" y="181.8" width="7.36" height="7.3" fill="#890000"/>
<rect x="911.65" y="181.8" width="7.36" height="7.3" fill="#890000"/>
<rect x="918.51" y="181.8" width="7.36" height="7.3" fill="#a60a0a"/>
<rect x="925.38" y="181.8" width="7.36" height="7.3" fill="#a60a0a"/>
<rect x="932.24" y="181.8" width="7.36" height="7.3" fill="#c22a1c"/>
<rect x="939.1" y="181.8" width="7.36" height="7.3" fill="#d24c31"/>
<rect x="945.96" y="181.8" width="7.36" height="7.3" fill="#ec8d6d"/>
<rect x="952.83" y="181.8" width="7.36" height="7.3" fill="#f2ecea"/>
<rect x="863.61" y="188.6" width="7.36" height="7.3" fill="#d24c31"/>
<rect x="870.48" y="188.6" width="7.36" height="7.3" fill="#a60a0a"/>
<rect x="877.34" y="188.6" width="7.36" height="7.3" fill="#a60a0a"/>
<rect x="884.2" y="188.6" width="7.36" height="7.3" fill="#a60a0a"/>
<rect x="891.06" y="188.6" width="7.36" height="7.3" fill="#890000"/>
<rect x="897.93" y="188.6" width="7.36" height="7.3" fill="#890000"/>
<rect x="904.79" y="188.6" width="7.36" height="7.3" fill="#890000"/>
<rect x="911.65" y="188.6" width="7.36" height="7.3" fill="#890000"/>
<rect x="918.51" y="188.6" width="7.36" height="7.3" fill="#890000"/>
<rect x="925.38" y="188.6" width="7.36" height="7.3" fill="#a60a0a"/>
<rect x="932.24" y="188.6" width="7.36" height="7.3" fill="#c22a1c"/>
<rect x="939.1" y="188.6" width="7.36" height="7.3" fill="#e06c4f"/>
<rect x="945.96" y="188.6" width="7.36" height="7.3" fill="#f5b699"/>
<rect x="870.48" y="195.4" width="7.36" height="7.3" fill="#c22a1c"/>
<rect x="877.34" y="195.4" width="7.36" height="7.3" fill="#a60a0a"/>
<rect x="884.2" y="195.4" width="7.36" height="7.3" fill="#a60a0a"/>
<rect x="891.06" y="195.4" width="7.36" height="7.3" fill="#a60a0a"/>
<rect x="897.93" y="195.4" width="7.36" height="7.3" fill="#890000"/>
<rect x="904.79" y="195.4" width="7.36" height="7.3" fill="#890000"/>
<rect x="911.65" y="195.4" width="7.36" height="7.3" fill="#890000"/>
<rect x="918.51" y="195.4" width="7.36" height="7.3" fill="#a60a0a"/>
<rect x="925.38" y="195.4" width="7.36" height="7.3" fill="#a60a0a"/>
<rect x="932.24" y="195.4" width="7.36" height="7.3" fill="#c22a1c"/>
<rect x="939.1" y="195.4" width="7.36" height="7.3" fill="#e06c4f"/>
<rect x="877.34" y="202.2" width="7.36" height="7.3" fill="#c22a1c"/>
<rect x="884.2" y="202.2" width="7.36" height="7.3" fill="#c22a1c"/>
<rect x="891.06" y="202.2" width="7.36" height="7.3" fill="#a60a0a"/>
<rect x="897.93" y="202.2" width="7.36" height="7.3" fill="#a60a0a"/>
<rect x="904.79" y="202.2" width="7.36" height="7.3" fill="#a60a0a"/>
<rect x="911.65" y="202.2" width="7.36" height="7.3" fill="#a60a0a"/>
<rect x="918.51" y="202.2" width="7.36" height="7.3" fill="#a60a0a"/>
<rect x="925.38" y="202.2" width="7.36" height="7.3" fill="#c22a1c"/>
<rect x="932.24" y="202.2" width="7.36" height="7.3" fill="#d24c31"/>
<rect x="939.1" y="202.2" width="7.36" height="7.3" fill="#ec8d6d"/>
<rect x="884.2" y="209" width="7.36" height="7.3" fill="#c22a1c"/>
<rect x="891.06" y="209" width="7.36" height="7.3" fill="#c22a1c"/>
<rect x="897.93" y="209" width="7.36" height="7.3" fill="#a60a0a"/>
<rect x="904.79" y="209" width="7.36" height="7.3" fill="#a60a0a"/>
<rect x="911.65" y="209" width="7.36" height="7.3" fill="#a60a0a"/>
<rect x="918.51" y="209" width="7.36" height="7.3" fill="#c22a1c"/>
<rect x="925.38" y="209" width="7.36" height="7.3" fill="#c22a1c"/>
<rect x="932.24" y="209" width="7.36" height="7.3" fill="#e06c4f"/>
<rect x="891.06" y="215.8" width="7.36" height="7.3" fill="#d24c31"/>
<rect x="897.93" y="215.8" width="7.36" height="7.3" fill="#c22a1c"/>
<rect x="904.79" y="215.8" width="7.36" height="7.3" fill="#c22a1c"/>
<rect x="911.65" y="215.8" width="7.36" height="7.3" fill="#c22a1c"/>
<rect x="918.51" y="215.8" width="7.36" height="7.3" fill="#c22a1c"/>
<rect x="925.38" y="215.8" width="7.36" height="7.3" fill="#d24c31"/>
<rect x="932.24" y="215.8" width="7.36" height="7.3" fill="#ec8d6d"/>
<rect x="904.79" y="222.6" width="7.36" height="7.3" fill="#d24c31"/>
<rect x="911.65" y="222.6" width="7.36" height="7.3" fill="#d24c31"/>
<rect x="918.51" y="222.6" width="7.36" height="7.3" fill="#d24c31"/>
<rect x="925.38" y="222.6" width="7.36" height="7.3" fill="#e06c4f"/>
<path d="M829.55,127.65 h6.86 M829.55,127.65 v6.8 M836.41,127.65 h6.86 M836.41,127.65 v6.8 M843.28,127.65 h6.86 M843.28,127.65 v6.8 M850.14,127.65 h6.86 M850.14,127.65 v6.8 M857,127.65 h6.86 M857,127.65 v6.8 M863.86,127.65 h6.86 M863.86,127.65 v6.8 M870.73,127.65 h6.86 M870.73,127.65 v6.8 M877.59,127.65 h6.86 M877.59,127.65 v6.8 M884.45,127.65 h6.86 M884.45,127.65 v6.8 M891.31,127.65 h6.86 M891.31,127.65 v6.8 M898.18,127.65 h6.86 M898.18,127.65 v6.8 M905.04,127.65 h6.86 M905.04,127.65 v6.8 M815.83,134.45 h6.86 M815.83,134.45 v6.8 M822.69,134.45 h6.86 M822.69,134.45 v6.8 M829.55,134.45 h6.86 M829.55,134.45 v6.8 M836.41,134.45 h6.86 M836.41,134.45 v6.8 M843.28,134.45 h6.86 M843.28,134.45 v6.8 M850.14,134.45 h6.86 M850.14,134.45 v6.8 M857,134.45 h6.86 M857,134.45 v6.8 M863.86,134.45 h6.86 M863.86,134.45 v6.8 M870.73,134.45 h6.86 M870.73,134.45 v6.8 M877.59,134.45 h6.86 M877.59,134.45 v6.8 M884.45,134.45 h6.86 M884.45,134.45 v6.8 M891.31,134.45 h6.86 M891.31,134.45 v6.8 M898.18,134.45 h6.86 M898.18,134.45 v6.8 M905.04,134.45 h6.86 M905.04,134.45 v6.8 M911.9,134.45 h6.86 M911.9,134.45 v6.8 M918.76,134.45 h6.86 M918.76,134.45 v6.8 M925.63,134.45 h6.86 M925.63,134.45 v6.8 M932.49,134.45 h6.86 M932.49,134.45 v6.8 M802.1,141.25 h6.86 M802.1,141.25 v6.8 M808.96,141.25 h6.86 M808.96,141.25 v6.8 M815.83,141.25 h6.86 M815.83,141.25 v6.8 M822.69,141.25 h6.86 M822.69,141.25 v6.8 M829.55,141.25 h6.86 M829.55,141.25 v6.8 M836.41,141.25 h6.86 M836.41,141.25 v6.8 M843.28,141.25 h6.86 M843.28,141.25 v6.8 M850.14,141.25 h6.86 M850.14,141.25 v6.8 M857,141.25 h6.86 M857,141.25 v6.8 M863.86,141.25 h6.86 M863.86,141.25 v6.8 M870.73,141.25 h6.86 M870.73,141.25 v6.8 M877.59,141.25 h6.86 M877.59,141.25 v6.8 M884.45,141.25 h6.86 M884.45,141.25 v6.8 M891.31,141.25 h6.86 M891.31,141.25 v6.8 M898.18,141.25 h6.86 M898.18,141.25 v6.8 M905.04,141.25 h6.86 M905.04,141.25 v6.8 M911.9,141.25 h6.86 M911.9,141.25 v6.8 M918.76,141.25 h6.86 M918.76,141.25 v6.8 M925.63,141.25 h6.86 M925.63,141.25 v6.8 M932.49,141.25 h6.86 M932.49,141.25 v6.8 M939.35,141.25 h6.86 M939.35,141.25 v6.8 M946.21,141.25 h6.86 M946.21,141.25 v6.8 M953.08,141.25 h6.86 M953.08,141.25 v6.8 M959.94,141.25 h6.86 M959.94,141.25 v6.8 M795.24,148.05 h6.86 M795.24,148.05 v6.8 M802.1,148.05 h6.86 M802.1,148.05 v6.8 M808.96,148.05 h6.86 M808.96,148.05 v6.8 M815.83,148.05 h6.86 M815.83,148.05 v6.8 M822.69,148.05 h6.86 M822.69,148.05 v6.8 M829.55,148.05 h6.86 M829.55,148.05 v6.8 M836.41,148.05 h6.86 M836.41,148.05 v6.8 M843.28,148.05 h6.86 M843.28,148.05 v6.8 M850.14,148.05 h6.86 M850.14,148.05 v6.8 M857,148.05 h6.86 M857,148.05 v6.8 M863.86,148.05 h6.86 M863.86,148.05 v6.8 M870.73,148.05 h6.86 M870.73,148.05 v6.8 M877.59,148.05 h6.86 M877.59,148.05 v6.8 M884.45,148.05 h6.86 M884.45,148.05 v6.8 M891.31,148.05 h6.86 M891.31,148.05 v6.8 M898.18,148.05 h6.86 M898.18,148.05 v6.8 M905.04,148.05 h6.86 M905.04,148.05 v6.8 M911.9,148.05 h6.86 M911.9,148.05 v6.8 M918.76,148.05 h6.86 M918.76,148.05 v6.8 M925.63,148.05 h6.86 M925.63,148.05 v6.8 M932.49,148.05 h6.86 M932.49,148.05 v6.8 M939.35,148.05 h6.86 M939.35,148.05 v6.8 M946.21,148.05 h6.86 M946.21,148.05 v6.8 M953.08,148.05 h6.86 M953.08,148.05 v6.8 M959.94,148.05 h6.86 M959.94,148.05 v6.8 M966.8,148.05 h6.86 M966.8,148.05 v6.8 M973.66,148.05 h6.86 M973.66,148.05 v6.8 M980.53,148.05 h6.86 M980.53,148.05 v6.8 M987.39,148.05 h6.86 M987.39,148.05 v6.8 M802.1,154.85 h6.86 M802.1,154.85 v6.8 M808.96,154.85 h6.86 M808.96,154.85 v6.8 M815.83,154.85 h6.86 M815.83,154.85 v6.8 M822.69,154.85 h6.86 M822.69,154.85 v6.8 M829.55,154.85 h6.86 M829.55,154.85 v6.8 M836.41,154.85 h6.86 M836.41,154.85 v6.8 M843.28,154.85 h6.86 M843.28,154.85 v6.8 M850.14,154.85 h6.86 M850.14,154.85 v6.8 M857,154.85 h6.86 M857,154.85 v6.8 M863.86,154.85 h6.86 M863.86,154.85 v6.8 M870.73,154.85 h6.86 M870.73,154.85 v6.8 M877.59,154.85 h6.86 M877.59,154.85 v6.8 M884.45,154.85 h6.86 M884.45,154.85 v6.8 M891.31,154.85 h6.86 M891.31,154.85 v6.8 M898.18,154.85 h6.86 M898.18,154.85 v6.8 M905.04,154.85 h6.86 M905.04,154.85 v6.8 M911.9,154.85 h6.86 M911.9,154.85 v6.8 M918.76,154.85 h6.86 M918.76,154.85 v6.8 M925.63,154.85 h6.86 M925.63,154.85 v6.8 M932.49,154.85 h6.86 M932.49,154.85 v6.8 M939.35,154.85 h6.86 M939.35,154.85 v6.8 M946.21,154.85 h6.86 M946.21,154.85 v6.8 M953.08,154.85 h6.86 M953.08,154.85 v6.8 M959.94,154.85 h6.86 M959.94,154.85 v6.8 M966.8,154.85 h6.86 M966.8,154.85 v6.8 M973.66,154.85 h6.86 M973.66,154.85 v6.8 M980.53,154.85 h6.86 M980.53,154.85 v6.8 M987.39,154.85 h6.86 M987.39,154.85 v6.8 M815.83,161.65 h6.86 M815.83,161.65 v6.8 M822.69,161.65 h6.86 M822.69,161.65 v6.8 M829.55,161.65 h6.86 M829.55,161.65 v6.8 M836.41,161.65 h6.86 M836.41,161.65 v6.8 M843.28,161.65 h6.86 M843.28,161.65 v6.8 M850.14,161.65 h6.86 M850.14,161.65 v6.8 M857,161.65 h6.86 M857,161.65 v6.8 M863.86,161.65 h6.86 M863.86,161.65 v6.8 M870.73,161.65 h6.86 M870.73,161.65 v6.8 M877.59,161.65 h6.86 M877.59,161.65 v6.8 M884.45,161.65 h6.86 M884.45,161.65 v6.8 M891.31,161.65 h6.86 M891.31,161.65 v6.8 M898.18,161.65 h6.86 M898.18,161.65 v6.8 M905.04,161.65 h6.86 M905.04,161.65 v6.8 M911.9,161.65 h6.86 M911.9,161.65 v6.8 M918.76,161.65 h6.86 M918.76,161.65 v6.8 M925.63,161.65 h6.86 M925.63,161.65 v6.8 M932.49,161.65 h6.86 M932.49,161.65 v6.8 M939.35,161.65 h6.86 M939.35,161.65 v6.8 M946.21,161.65 h6.86 M946.21,161.65 v6.8 M953.08,161.65 h6.86 M953.08,161.65 v6.8 M959.94,161.65 h6.86 M959.94,161.65 v6.8 M966.8,161.65 h6.86 M966.8,161.65 v6.8 M973.66,161.65 h6.86 M973.66,161.65 v6.8 M829.55,168.45 h6.86 M829.55,168.45 v6.8 M836.41,168.45 h6.86 M836.41,168.45 v6.8 M843.28,168.45 h6.86 M843.28,168.45 v6.8 M850.14,168.45 h6.86 M850.14,168.45 v6.8 M857,168.45 h6.86 M857,168.45 v6.8 M863.86,168.45 h6.86 M863.86,168.45 v6.8 M870.73,168.45 h6.86 M870.73,168.45 v6.8 M877.59,168.45 h6.86 M877.59,168.45 v6.8 M884.45,168.45 h6.86 M884.45,168.45 v6.8 M891.31,168.45 h6.86 M891.31,168.45 v6.8 M898.18,168.45 h6.86 M898.18,168.45 v6.8 M905.04,168.45 h6.86 M905.04,168.45 v6.8 M911.9,168.45 h6.86 M911.9,168.45 v6.8 M918.76,168.45 h6.86 M918.76,168.45 v6.8 M925.63,168.45 h6.86 M925.63,168.45 v6.8 M932.49,168.45 h6.86 M932.49,168.45 v6.8 M939.35,168.45 h6.86 M939.35,168.45 v6.8 M946.21,168.45 h6.86 M946.21,168.45 v6.8 M953.08,168.45 h6.86 M953.08,168.45 v6.8 M959.94,168.45 h6.86 M959.94,168.45 v6.8 M966.8,168.45 h6.86 M966.8,168.45 v6.8 M836.41,175.25 h6.86 M836.41,175.25 v6.8 M843.28,175.25 h6.86 M843.28,175.25 v6.8 M850.14,175.25 h6.86 M850.14,175.25 v6.8 M857,175.25 h6.86 M857,175.25 v6.8 M863.86,175.25 h6.86 M863.86,175.25 v6.8 M870.73,175.25 h6.86 M870.73,175.25 v6.8 M877.59,175.25 h6.86 M877.59,175.25 v6.8 M884.45,175.25 h6.86 M884.45,175.25 v6.8 M891.31,175.25 h6.86 M891.31,175.25 v6.8 M898.18,175.25 h6.86 M898.18,175.25 v6.8 M905.04,175.25 h6.86 M905.04,175.25 v6.8 M911.9,175.25 h6.86 M911.9,175.25 v6.8 M918.76,175.25 h6.86 M918.76,175.25 v6.8 M925.63,175.25 h6.86 M925.63,175.25 v6.8 M932.49,175.25 h6.86 M932.49,175.25 v6.8 M939.35,175.25 h6.86 M939.35,175.25 v6.8 M946.21,175.25 h6.86 M946.21,175.25 v6.8 M953.08,175.25 h6.86 M953.08,175.25 v6.8 M959.94,175.25 h6.86 M959.94,175.25 v6.8 M850.14,182.05 h6.86 M850.14,182.05 v6.8 M857,182.05 h6.86 M857,182.05 v6.8 M863.86,182.05 h6.86 M863.86,182.05 v6.8 M870.73,182.05 h6.86 M870.73,182.05 v6.8 M877.59,182.05 h6.86 M877.59,182.05 v6.8 M884.45,182.05 h6.86 M884.45,182.05 v6.8 M891.31,182.05 h6.86 M891.31,182.05 v6.8 M898.18,182.05 h6.86 M898.18,182.05 v6.8 M905.04,182.05 h6.86 M905.04,182.05 v6.8 M911.9,182.05 h6.86 M911.9,182.05 v6.8 M918.76,182.05 h6.86 M918.76,182.05 v6.8 M925.63,182.05 h6.86 M925.63,182.05 v6.8 M932.49,182.05 h6.86 M932.49,182.05 v6.8 M939.35,182.05 h6.86 M939.35,182.05 v6.8 M946.21,182.05 h6.86 M946.21,182.05 v6.8 M953.08,182.05 h6.86 M953.08,182.05 v6.8 M863.86,188.85 h6.86 M863.86,188.85 v6.8 M870.73,188.85 h6.86 M870.73,188.85 v6.8 M877.59,188.85 h6.86 M877.59,188.85 v6.8 M884.45,188.85 h6.86 M884.45,188.85 v6.8 M891.31,188.85 h6.86 M891.31,188.85 v6.8 M898.18,188.85 h6.86 M898.18,188.85 v6.8 M905.04,188.85 h6.86 M905.04,188.85 v6.8 M911.9,188.85 h6.86 M911.9,188.85 v6.8 M918.76,188.85 h6.86 M918.76,188.85 v6.8 M925.63,188.85 h6.86 M925.63,188.85 v6.8 M932.49,188.85 h6.86 M932.49,188.85 v6.8 M939.35,188.85 h6.86 M939.35,188.85 v6.8 M946.21,188.85 h6.86 M946.21,188.85 v6.8 M870.73,195.65 h6.86 M870.73,195.65 v6.8 M877.59,195.65 h6.86 M877.59,195.65 v6.8 M884.45,195.65 h6.86 M884.45,195.65 v6.8 M891.31,195.65 h6.86 M891.31,195.65 v6.8 M898.18,195.65 h6.86 M898.18,195.65 v6.8 M905.04,195.65 h6.86 M905.04,195.65 v6.8 M911.9,195.65 h6.86 M911.9,195.65 v6.8 M918.76,195.65 h6.86 M918.76,195.65 v6.8 M925.63,195.65 h6.86 M925.63,195.65 v6.8 M932.49,195.65 h6.86 M932.49,195.65 v6.8 M939.35,195.65 h6.86 M939.35,195.65 v6.8 M877.59,202.45 h6.86 M877.59,202.45 v6.8 M884.45,202.45 h6.86 M884.45,202.45 v6.8 M891.31,202.45 h6.86 M891.31,202.45 v6.8 M898.18,202.45 h6.86 M898.18,202.45 v6.8 M905.04,202.45 h6.86 M905.04,202.45 v6.8 M911.9,202.45 h6.86 M911.9,202.45 v6.8 M918.76,202.45 h6.86 M918.76,202.45 v6.8 M925.63,202.45 h6.86 M925.63,202.45 v6.8 M932.49,202.45 h6.86 M932.49,202.45 v6.8 M939.35,202.45 h6.86 M939.35,202.45 v6.8 M884.45,209.25 h6.86 M884.45,209.25 v6.8 M891.31,209.25 h6.86 M891.31,209.25 v6.8 M898.18,209.25 h6.86 M898.18,209.25 v6.8 M905.04,209.25 h6.86 M905.04,209.25 v6.8 M911.9,209.25 h6.86 M911.9,209.25 v6.8 M918.76,209.25 h6.86 M918.76,209.25 v6.8 M925.63,209.25 h6.86 M925.63,209.25 v6.8 M932.49,209.25 h6.86 M932.49,209.25 v6.8 M891.31,216.05 h6.86 M891.31,216.05 v6.8 M898.18,216.05 h6.86 M898.18,216.05 v6.8 M905.04,216.05 h6.86 M905.04,216.05 v6.8 M911.9,216.05 h6.86 M911.9,216.05 v6.8 M918.76,216.05 h6.86 M918.76,216.05 v6.8 M925.63,216.05 h6.86 M925.63,216.05 v6.8 M932.49,216.05 h6.86 M932.49,216.05 v6.8 M905.04,222.85 h6.86 M905.04,222.85 v6.8 M911.9,222.85 h6.86 M911.9,222.85 v6.8 M918.76,222.85 h6.86 M918.76,222.85 v6.8 M925.63,222.85 h6.86 M925.63,222.85 v6.8" stroke="#fff" stroke-opacity="0.09" stroke-width="0.7" fill="none"/>
<path d="M700.99,-16.23 L814.36,27.94 L836.21,47.47 L849.12,59.76 L858.31,68.55 L865.45,75.31 L871.29,80.74 L876.24,85.23 L880.53,89.05 L884.31,92.34 L887.69,95.22 L890.76,97.78 L893.55,100.06 L896.13,102.11 L898.51,103.98 L900.73,105.68 L902.8,107.24 L904.75,108.68 L906.59,110.02 L908.33,111.26 L909.98,112.41 L911.55,113.49 L913.05,114.5 L914.48,115.46 L915.85,116.36 L917.16,117.2 L918.43,118.01 L919.64,118.77 L920.81,119.49 L921.94,120.18 L923.03,120.84 L924.09,121.46 L925.11,122.06 L926.1,122.63 L927.06,123.18 L928,123.71 L928.9,124.21 L929.79,124.69 L930.65,125.16 L931.48,125.61 L932.3,126.04 L933.09,126.46 L934.63,127.25 L936.09,127.99 L937.49,128.68 L938.83,129.33 L940.12,129.95 L941.36,130.52 L942.55,131.07 L943.71,131.59 L944.82,132.08 L945.89,132.55 L946.93,132.99 L947.94,133.41 L948.91,133.82 L949.86,134.2 L950.78,134.57 L951.67,134.92 L952.55,135.26 L953.81,135.75 L955.03,136.2 L956.2,136.63 L957.33,137.04 L958.42,137.42 L959.48,137.79 L960.5,138.14 L961.49,138.47 L962.45,138.78 L963.39,139.09 L964.59,139.47 L965.75,139.83 L966.87,140.17 L967.96,140.49 L969,140.8 L970.02,141.09 L971,141.36 L971.96,141.63 L973.11,141.94 L974.23,142.24 L975.31,142.52 L976.35,142.78 L977.36,143.03 L978.34,143.27 L979.48,143.54 L980.57,143.8 L981.64,144.05 L982.66,144.28 L983.66,144.5 L984.79,144.74 L985.87,144.97 L986.93,145.19 L987.94,145.39 L989.07,145.62 L990.16,145.83 L991.21,146.03 L992.23,146.22 L993.34,146.42 L994.41,146.61 L995.45,146.79 L996.56,146.98 L997.64,147.16 L998.68,147.33 L999.79,147.51 L1000.87,147.67 L1002,147.85 L1003.09,148.01 L1004.15,148.16 L1005.25,148.32 L1006.32,148.47 L1007.44,148.62 L1008.51,148.76 L1009.63,148.91 L1010.71,149.04 L1011.82,149.18 L1012.89,149.31 L1014,149.44 L1015.13,149.57 L1016.22,149.69 L1017.33,149.81 L1018.46,149.93 L1019.55,150.05 L1020.66,150.16 L1021.78,150.27 L1022.92,150.38 L1024.06,150.49 L1025.16,150.59 L1026.27,150.69 L1027.38,150.79 L1028.5,150.89 L1029.62,150.98 L1030.74,151.07 L1031.86,151.16 L1032.98,151.25 L1034.12,151.33 L1035.27,151.42 L1036.4,151.5 L1037.53,151.58 L1038.67,151.66 L1039.81,151.73 L1040.96,151.81 L1042.11,151.88 L1043.26,151.95 L1044.4,152.02 L1045.54,152.09 L1046.7,152.16 L1047.86,152.22 L1049,152.28 L1050.14,152.34 L1050.96,152.38" fill="none" stroke="#a228f2" stroke-width="2" stroke-dasharray="8.4 4.4"/>
<path d="M700.99,33.32 L814.36,94.27 L836.21,104.39 L849.12,109.85 L858.31,113.49 L865.45,116.17 L871.29,118.28 L876.24,119.99 L880.53,121.43 L884.31,122.66 L887.69,123.73 L890.76,124.68 L893.55,125.53 L896.13,126.29 L898.51,126.98 L900.73,127.61 L902.8,128.19 L904.75,128.73 L906.59,129.22 L908.33,129.69 L909.98,130.12 L911.55,130.53 L913.05,130.91 L914.48,131.27 L915.85,131.62 L917.16,131.94 L918.43,132.25 L919.64,132.54 L920.81,132.82 L921.94,133.09 L923.03,133.34 L924.09,133.59 L925.11,133.82 L926.1,134.05 L928,134.47 L929.79,134.86 L931.48,135.23 L933.09,135.58 L934.63,135.9 L936.09,136.2 L937.49,136.49 L938.83,136.76 L940.12,137.02 L941.36,137.26 L942.55,137.49 L943.71,137.71 L944.82,137.93 L945.89,138.13 L946.93,138.32 L948.43,138.6 L949.86,138.86 L951.23,139.1 L952.55,139.33 L953.81,139.55 L955.03,139.76 L956.2,139.96 L957.33,140.15 L958.42,140.33 L959.48,140.51 L960.83,140.73 L962.13,140.94 L963.39,141.13 L964.59,141.32 L965.75,141.5 L966.87,141.67 L967.96,141.83 L969,141.99 L970.27,142.18 L971.48,142.35 L972.66,142.52 L973.79,142.68 L974.88,142.83 L975.94,142.98 L977.16,143.15 L978.34,143.3 L979.48,143.46 L980.57,143.6 L981.64,143.74 L982.83,143.89 L983.99,144.04 L985.1,144.18 L986.18,144.31 L987.37,144.46 L988.51,144.6 L989.62,144.73 L990.82,144.87 L991.98,145 L993.1,145.13 L994.18,145.25 L995.33,145.38 L996.45,145.51 L997.64,145.64 L998.79,145.76 L999.89,145.88 L1001.06,146 L1002.18,146.12 L1003.36,146.24 L1004.49,146.35 L1005.59,146.46 L1006.73,146.57 L1007.83,146.68 L1008.97,146.79 L1010.07,146.89 L1011.2,147 L1012.36,147.11 L1013.48,147.21 L1014.63,147.31 L1015.74,147.41 L1016.87,147.51 L1018.01,147.61 L1019.12,147.7 L1020.24,147.8 L1021.38,147.89 L1022.53,147.99 L1023.68,148.08 L1024.8,148.17 L1025.92,148.26 L1027.04,148.34 L1028.17,148.43 L1029.3,148.52 L1030.43,148.6 L1031.56,148.69 L1032.69,148.77 L1033.81,148.85 L1034.97,148.93 L1036.11,149.01 L1037.25,149.09 L1038.38,149.17 L1039.52,149.24 L1040.66,149.32 L1041.81,149.39 L1042.95,149.47 L1044.1,149.54 L1045.23,149.61 L1046.37,149.68 L1047.52,149.75 L1048.67,149.82 L1049.8,149.89 L1050.94,149.95 L1050.96,149.96" fill="none" stroke="#10eef0" stroke-width="2" stroke-dasharray="8.4 4.4"/>
<path d="M918.43,341.03 L919.64,290.25 L920.81,266.84 L921.94,252.24 L923.03,241.94 L924.09,234.16 L925.11,228.01 L926.1,222.99 L927.06,218.81 L928,215.24 L928.9,212.16 L929.79,209.47 L930.65,207.09 L931.48,204.97 L932.3,203.06 L933.09,201.34 L933.87,199.77 L934.63,198.33 L935.37,197.02 L936.09,195.8 L936.8,194.67 L937.49,193.62 L938.17,192.65 L938.83,191.73 L939.48,190.88 L940.12,190.07 L940.75,189.31 L941.36,188.6 L941.96,187.92 L942.55,187.28 L943.71,186.09 L944.82,185.01 L945.89,184.03 L946.93,183.13 L947.94,182.3 L948.91,181.53 L949.86,180.82 L950.78,180.15 L951.67,179.54 L952.55,178.96 L953.39,178.41 L954.22,177.9 L955.03,177.42 L955.81,176.96 L956.95,176.32 L958.06,175.73 L959.13,175.18 L960.16,174.67 L961.16,174.2 L962.13,173.75 L963.08,173.33 L963.99,172.93 L964.88,172.56 L965.75,172.21 L966.87,171.76 L967.96,171.35 L969,170.97 L970.02,170.6 L971,170.26 L971.96,169.94 L972.88,169.64 L974.01,169.28 L975.09,168.95 L976.14,168.63 L977.16,168.34 L978.14,168.06 L979.1,167.8 L980.21,167.5 L981.29,167.22 L982.33,166.96 L983.33,166.71 L984.31,166.47 L985.41,166.21 L986.48,165.97 L987.51,165.74 L988.51,165.52 L989.62,165.29 L990.69,165.07 L991.72,164.86 L992.85,164.64 L993.94,164.43 L994.99,164.24 L996.01,164.05 L997.11,163.86 L998.17,163.67 L999.19,163.5 L1000.29,163.32 L1001.34,163.15 L1002.46,162.97 L1003.53,162.81 L1004.66,162.64 L1005.75,162.48 L1006.81,162.33 L1007.9,162.17 L1008.97,162.03 L1010.07,161.88 L1011.13,161.74 L1012.23,161.6 L1013.35,161.46 L1014.44,161.32 L1015.55,161.19 L1016.63,161.06 L1017.73,160.94 L1018.85,160.81 L1019.98,160.69 L1021.07,160.57 L1022.18,160.45 L1023.3,160.34 L1024.43,160.22 L1025.56,160.11 L1026.66,160.01 L1027.76,159.9 L1028.86,159.8 L1029.97,159.7 L1031.08,159.6 L1032.19,159.51 L1033.33,159.41 L1034.46,159.31 L1035.59,159.22 L1036.72,159.13 L1037.83,159.05 L1038.97,158.96 L1040.1,158.87 L1041.24,158.79 L1042.37,158.71 L1043.51,158.63 L1044.64,158.55 L1045.78,158.47 L1046.93,158.4 L1048.06,158.33 L1049.19,158.25 L1050.33,158.18 L1050.96,158.14" fill="none" stroke="#0a14f0" stroke-width="2" stroke-dasharray="8.4 4.4"/>
<path d="M932.3,409.36 L933.09,351.58 L933.87,323.95 L934.63,305.89 L935.37,292.61 L936.09,282.18 L936.8,273.65 L937.49,266.48 L938.17,260.32 L938.83,254.95 L939.48,250.2 L940.12,245.97 L940.75,242.15 L941.36,238.69 L941.96,235.53 L942.55,232.63 L943.13,229.96 L943.71,227.49 L944.27,225.19 L944.82,223.05 L945.36,221.05 L945.89,219.17 L946.41,217.4 L946.93,215.74 L947.44,214.17 L947.94,212.69 L948.43,211.28 L948.91,209.94 L949.39,208.67 L949.86,207.46 L950.32,206.31 L950.78,205.21 L951.23,204.15 L951.67,203.15 L952.11,202.18 L952.55,201.26 L952.97,200.37 L953.39,199.52 L953.81,198.69 L954.22,197.9 L955.03,196.41 L955.81,195.02 L956.58,193.72 L957.33,192.5 L958.06,191.36 L958.78,190.29 L959.48,189.29 L960.16,188.33 L960.83,187.43 L961.49,186.58 L962.13,185.78 L962.77,185.01 L963.39,184.28 L963.99,183.58 L964.59,182.92 L965.18,182.29 L966.04,181.39 L966.87,180.56 L967.69,179.77 L968.48,179.03 L969.26,178.33 L970.02,177.67 L970.76,177.05 L971.48,176.46 L972.19,175.9 L972.88,175.37 L973.79,174.71 L974.66,174.08 L975.52,173.49 L976.35,172.94 L977.16,172.42 L977.95,171.93 L978.72,171.46 L979.66,170.91 L980.57,170.4 L981.46,169.92 L982.33,169.47 L983.17,169.04 L983.99,168.64 L984.94,168.18 L985.87,167.76 L986.78,167.36 L987.66,166.98 L988.51,166.63 L989.48,166.24 L990.42,165.87 L991.34,165.53 L992.23,165.21 L993.22,164.86 L994.18,164.54 L995.11,164.24 L996.12,163.92 L997.11,163.62 L998.06,163.34 L999.09,163.04 L1000.09,162.77 L1001.06,162.51 L1002.09,162.25 L1003.09,162 L1004.06,161.77 L1005.09,161.54 L1006.08,161.31 L1007.12,161.09 L1008.13,160.88 L1009.19,160.67 L1010.21,160.47 L1011.27,160.27 L1012.29,160.09 L1013.35,159.91 L1014.44,159.72 L1015.49,159.55 L1016.57,159.38 L1017.62,159.23 L1018.68,159.07 L1019.77,158.92 L1020.87,158.77 L1021.93,158.63 L1023.01,158.49 L1024.1,158.36 L1025.2,158.23 L1026.31,158.1 L1027.42,157.98 L1028.54,157.86 L1029.66,157.75 L1030.78,157.64 L1031.9,157.53 L1033.01,157.43 L1034.12,157.33 L1035.23,157.24 L1036.37,157.15 L1037.5,157.06 L1038.61,156.97 L1039.75,156.89 L1040.88,156.81 L1042.02,156.73 L1043.15,156.66 L1044.3,156.58 L1045.45,156.51 L1046.58,156.45 L1047.72,156.38 L1048.87,156.32 L1050.01,156.26 L1050.96,156.21" fill="none" stroke="#f81010" stroke-width="2" stroke-dasharray="8.4 4.4"/>
<mask id="m3_0" maskUnits="userSpaceOnUse" x="0" y="0" width="1085" height="665"><rect width="1085" height="665" fill="#fff"/>
<rect transform="translate(898.9,181.1) rotate(50)" x="-7.91" y="-3.42" width="15.81" height="6.84" fill="#000"/>
<rect transform="translate(900.5,196.9) rotate(45)" x="-7.91" y="-3.42" width="15.81" height="6.84" fill="#000"/>
</mask>
<g mask="url(#m3_0)"><path d="M868.2,161.4 L871.6,154.7 L888.1,151.3 L902.6,152.1 L918.4,156.8 L927.8,161 L934.2,168.4 L935.2,174.7 L934.2,184.2 L930,193.7 L924.7,200 L917.3,203.7 L910,203.7 L903.8,200.6 L895.2,191.6 L885.2,180.6 L873.8,167.8 Z" fill="none" stroke="#0a0af5" stroke-width="2.0" stroke-linejoin="round" /></g>
<g mask="url(#m3_0)"><path d="M885.9,161.4 L888.1,160.3 L895.2,159 L905.7,159 L914.2,161 L920.5,167.4 L924.7,175.8 L924.7,183.2 L920.5,189.5 L912,193.7 L905.7,189.5 L892,174.7 L888.9,166.3 Z" fill="none" stroke="#0a0af5" stroke-width="2.0" stroke-linejoin="round" /></g>
<text transform="translate(898.9,181.1) rotate(50)" text-anchor="middle" dominant-baseline="central" font-size="7.2" font-weight="bold" fill="#0a0af5">0.75</text>
<text transform="translate(900.5,196.9) rotate(45)" text-anchor="middle" dominant-baseline="central" font-size="7.2" font-weight="bold" fill="#0a0af5">0.50</text>
<line x1="782.65" y1="18.01" x2="1049.7" y2="287.19" stroke="#1e1e1e" stroke-width="1.6" stroke-dasharray="1.4 1.5"/>
</g>
<rect x="775.2" y="18.6" width="274.5" height="272.0" fill="none" stroke="#000" stroke-width="2"/>
<path d="M797.54,290.6 v-2.6 M797.54,18.6 v2.6 M810.61,290.6 v-2.6 M810.61,18.6 v2.6 M819.88,290.6 v-2.6 M819.88,18.6 v2.6 M827.07,290.6 v-2.6 M827.07,18.6 v2.6 M832.95,290.6 v-2.6 M832.95,18.6 v2.6 M837.91,290.6 v-2.6 M837.91,18.6 v2.6 M842.22,290.6 v-2.6 M842.22,18.6 v2.6 M846.01,290.6 v-2.6 M846.01,18.6 v2.6 M849.41,290.6 v-5 M849.41,18.6 v5 M871.75,290.6 v-2.6 M871.75,18.6 v2.6 M884.82,290.6 v-2.6 M884.82,18.6 v2.6 M894.09,290.6 v-2.6 M894.09,18.6 v2.6 M901.28,290.6 v-2.6 M901.28,18.6 v2.6 M907.16,290.6 v-2.6 M907.16,18.6 v2.6 M912.12,290.6 v-2.6 M912.12,18.6 v2.6 M916.43,290.6 v-2.6 M916.43,18.6 v2.6 M920.22,290.6 v-2.6 M920.22,18.6 v2.6 M923.62,290.6 v-5 M923.62,18.6 v5 M945.96,290.6 v-2.6 M945.96,18.6 v2.6 M959.03,290.6 v-2.6 M959.03,18.6 v2.6 M968.3,290.6 v-2.6 M968.3,18.6 v2.6 M975.49,290.6 v-2.6 M975.49,18.6 v2.6 M981.37,290.6 v-2.6 M981.37,18.6 v2.6 M986.33,290.6 v-2.6 M986.33,18.6 v2.6 M990.64,290.6 v-2.6 M990.64,18.6 v2.6 M994.43,290.6 v-2.6 M994.43,18.6 v2.6 M997.83,290.6 v-5 M997.83,18.6 v5 M1020.17,290.6 v-2.6 M1020.17,18.6 v2.6 M1033.24,290.6 v-2.6 M1033.24,18.6 v2.6 M1042.51,290.6 v-2.6 M1042.51,18.6 v2.6 M775.2,249.66 h2.6 M1049.7,249.66 h-2.6 M775.2,225.71 h2.6 M1049.7,225.71 h-2.6 M775.2,208.72 h2.6 M1049.7,208.72 h-2.6 M775.2,195.54 h2.6 M1049.7,195.54 h-2.6 M775.2,184.77 h2.6 M1049.7,184.77 h-2.6 M775.2,175.67 h2.6 M1049.7,175.67 h-2.6 M775.2,167.78 h2.6 M1049.7,167.78 h-2.6 M775.2,160.82 h2.6 M1049.7,160.82 h-2.6 M775.2,154.6 h5 M1049.7,154.6 h-5 M775.2,113.66 h2.6 M1049.7,113.66 h-2.6 M775.2,89.71 h2.6 M1049.7,89.71 h-2.6 M775.2,72.72 h2.6 M1049.7,72.72 h-2.6 M775.2,59.54 h2.6 M1049.7,59.54 h-2.6 M775.2,48.77 h2.6 M1049.7,48.77 h-2.6 M775.2,39.67 h2.6 M1049.7,39.67 h-2.6 M775.2,31.78 h2.6 M1049.7,31.78 h-2.6 M775.2,24.82 h2.6 M1049.7,24.82 h-2.6" stroke="#000" stroke-width="1.5" fill="none"/>
<text x="775.2" y="307.3" text-anchor="middle" class="tl">10<tspan class="sup" dy="-5.2">−2</tspan></text>
<text x="849.41" y="307.3" text-anchor="middle" class="tl">10<tspan class="sup" dy="-5.2">−1</tspan></text>
<text x="923.62" y="307.3" text-anchor="middle" class="tl">10<tspan class="sup" dy="-5.2">0</tspan></text>
<text x="997.83" y="307.3" text-anchor="middle" class="tl">10<tspan class="sup" dy="-5.2">1</tspan></text>
<text x="771.8" y="292.1" text-anchor="end" class="tl">10<tspan class="sup" dy="-5.2">−1</tspan></text>
<text x="771.8" y="159.9" text-anchor="end" class="tl">10<tspan class="sup" dy="-5.2">0</tspan></text>
<text x="771.8" y="27.2" text-anchor="end" class="tl">10<tspan class="sup" dy="-5.2">1</tspan></text>
<text x="904.65" y="321.8" class="ax">β<tspan class="sub" dy="1.8">∥p</tspan></text>
<text transform="translate(737,155) rotate(-90)" text-anchor="middle" class="ax" textLength="36.4" lengthAdjust="spacingAndGlyphs">T<tspan class="sub" dy="1.6">⊥p</tspan><tspan dy="-1.6">/T</tspan><tspan class="sub" dy="1.6">∥p</tspan></text>
<text x="912.45" y="12" text-anchor="middle" class="ti" textLength="110.6" lengthAdjust="spacingAndGlyphs">Slow Solar Wind</text>
<text x="787.6" y="209.1" class="lg" fill="#a633f2" stroke="#a633f2" textLength="32.5" lengthAdjust="spacingAndGlyphs">mirror</text>
<text x="787.6" y="226.1" class="lg" fill="#14f0f0" stroke="#14f0f0" textLength="71.8" lengthAdjust="spacingAndGlyphs">ion−cyclotron</text>
<text x="787.6" y="239.6" class="lg" fill="#0a10f5" stroke="#0a10f5" textLength="84.2" lengthAdjust="spacingAndGlyphs">parallel firehose</text>
<text x="787.6" y="253.1" class="lg" fill="#fa1010" stroke="#fa1010" textLength="84" lengthAdjust="spacingAndGlyphs">oblique firehose</text>
<text x="787.6" y="266.6" class="lg" fill="#000" stroke="#000" textLength="83.6" lengthAdjust="spacingAndGlyphs">anti−correlation</text>
<text x="786.2" y="280.8" class="lg" fill="#1c2260" stroke="#1c2260">(c)</text>
<clipPath id="clip4"><rect x="49.2" y="355.6" width="274.5" height="272.0"/></clipPath>
<g clip-path="url(#clip4)">
<rect x="124.49" y="471.2" width="7.36" height="7.3" fill="#a60a0a"/>
<rect x="131.35" y="471.2" width="7.36" height="7.3" fill="#a60a0a"/>
<rect x="138.21" y="471.2" width="7.36" height="7.3" fill="#c22a1c"/>
<rect x="145.07" y="471.2" width="7.36" height="7.3" fill="#c22a1c"/>
<rect x="151.94" y="471.2" width="7.36" height="7.3" fill="#c22a1c"/>
<rect x="158.8" y="471.2" width="7.36" height="7.3" fill="#d24c31"/>
<rect x="165.66" y="471.2" width="7.36" height="7.3" fill="#d24c31"/>
<rect x="172.52" y="471.2" width="7.36" height="7.3" fill="#e06c4f"/>
<rect x="179.39" y="471.2" width="7.36" height="7.3" fill="#e06c4f"/>
<rect x="186.25" y="471.2" width="7.36" height="7.3" fill="#ec8d6d"/>
<rect x="193.11" y="471.2" width="7.36" height="7.3" fill="#f5b699"/>
<rect x="103.9" y="478" width="7.36" height="7.3" fill="#890000"/>
<rect x="110.76" y="478" width="7.36" height="7.3" fill="#660000"/>
<rect x="117.62" y="478" width="7.36" height="7.3" fill="#890000"/>
<rect x="124.49" y="478" width="7.36" height="7.3" fill="#890000"/>
<rect x="131.35" y="478" width="7.36" height="7.3" fill="#890000"/>
<rect x="138.21" y="478" width="7.36" height="7.3" fill="#a60a0a"/>
<rect x="145.07" y="478" width="7.36" height="7.3" fill="#a60a0a"/>
<rect x="151.94" y="478" width="7.36" height="7.3" fill="#a60a0a"/>
<rect x="158.8" y="478" width="7.36" height="7.3" fill="#a60a0a"/>
<rect x="165.66" y="478" width="7.36" height="7.3" fill="#c22a1c"/>
<rect x="172.52" y="478" width="7.36" height="7.3" fill="#c22a1c"/>
<rect x="179.39" y="478" width="7.36" height="7.3" fill="#c22a1c"/>
<rect x="186.25" y="478" width="7.36" height="7.3" fill="#e06c4f"/>
<rect x="193.11" y="478" width="7.36" height="7.3" fill="#e06c4f"/>
<rect x="199.97" y="478" width="7.36" height="7.3" fill="#ec8d6d"/>
<rect x="206.84" y="478" width="7.36" height="7.3" fill="#f5b699"/>
<rect x="213.7" y="478" width="7.36" height="7.3" fill="#f9d8c7"/>
<rect x="220.56" y="478" width="7.36" height="7.3" fill="#f2ecea"/>
<rect x="90.17" y="484.8" width="7.36" height="7.3" fill="#660000"/>
<rect x="97.04" y="484.8" width="7.36" height="7.3" fill="#4b0000"/>
<rect x="103.9" y="484.8" width="7.36" height="7.3" fill="#4b0000"/>
<rect x="110.76" y="484.8" width="7.36" height="7.3" fill="#4b0000"/>
<rect x="117.62" y="484.8" width="7.36" height="7.3" fill="#4b0000"/>
<rect x="124.49" y="484.8" width="7.36" height="7.3" fill="#660000"/>
<rect x="131.35" y="484.8" width="7.36" height="7.3" fill="#660000"/>
<rect x="138.21" y="484.8" width="7.36" height="7.3" fill="#660000"/>
<rect x="145.07" y="484.8" width="7.36" height="7.3" fill="#660000"/>
<rect x="151.94" y="484.8" width="7.36" height="7.3" fill="#890000"/>
<rect x="158.8" y="484.8" width="7.36" height="7.3" fill="#890000"/>
<rect x="165.66" y="484.8" width="7.36" height="7.3" fill="#890000"/>
<rect x="172.52" y="484.8" width="7.36" height="7.3" fill="#890000"/>
<rect x="179.39" y="484.8" width="7.36" height="7.3" fill="#a60a0a"/>
<rect x="186.25" y="484.8" width="7.36" height="7.3" fill="#c22a1c"/>
<rect x="193.11" y="484.8" width="7.36" height="7.3" fill="#d24c31"/>
<rect x="199.97" y="484.8" width="7.36" height="7.3" fill="#e06c4f"/>
<rect x="206.84" y="484.8" width="7.36" height="7.3" fill="#e06c4f"/>
<rect x="213.7" y="484.8" width="7.36" height="7.3" fill="#ec8d6d"/>
<rect x="220.56" y="484.8" width="7.36" height="7.3" fill="#f5b699"/>
<rect x="227.42" y="484.8" width="7.36" height="7.3" fill="#f9d8c7"/>
<rect x="234.29" y="484.8" width="7.36" height="7.3" fill="#f2ecea"/>
<rect x="241.15" y="484.8" width="7.36" height="7.3" fill="#dfe8f0"/>
<rect x="248.01" y="484.8" width="7.36" height="7.3" fill="#c6dbea"/>
<rect x="97.04" y="491.6" width="7.36" height="7.3" fill="#660000"/>
<rect x="103.9" y="491.6" width="7.36" height="7.3" fill="#660000"/>
<rect x="110.76" y="491.6" width="7.36" height="7.3" fill="#4b0000"/>
<rect x="117.62" y="491.6" width="7.36" height="7.3" fill="#660000"/>
<rect x="124.49" y="491.6" width="7.36" height="7.3" fill="#660000"/>
<rect x="131.35" y="491.6" width="7.36" height="7.3" fill="#660000"/>
<rect x="138.21" y="491.6" width="7.36" height="7.3" fill="#890000"/>
<rect x="145.07" y="491.6" width="7.36" height="7.3" fill="#890000"/>
<rect x="151.94" y="491.6" width="7.36" height="7.3" fill="#890000"/>
<rect x="158.8" y="491.6" width="7.36" height="7.3" fill="#890000"/>
<rect x="165.66" y="491.6" width="7.36" height="7.3" fill="#890000"/>
<rect x="172.52" y="491.6" width="7.36" height="7.3" fill="#890000"/>
<rect x="179.39" y="491.6" width="7.36" height="7.3" fill="#a60a0a"/>
<rect x="186.25" y="491.6" width="7.36" height="7.3" fill="#c22a1c"/>
<rect x="193.11" y="491.6" width="7.36" height="7.3" fill="#c22a1c"/>
<rect x="199.97" y="491.6" width="7.36" height="7.3" fill="#d24c31"/>
<rect x="206.84" y="491.6" width="7.36" height="7.3" fill="#e06c4f"/>
<rect x="213.7" y="491.6" width="7.36" height="7.3" fill="#e06c4f"/>
<rect x="220.56" y="491.6" width="7.36" height="7.3" fill="#ec8d6d"/>
<rect x="227.42" y="491.6" width="7.36" height="7.3" fill="#f5b699"/>
<rect x="234.29" y="491.6" width="7.36" height="7.3" fill="#f9d8c7"/>
<rect x="241.15" y="491.6" width="7.36" height="7.3" fill="#f2ecea"/>
<rect x="248.01" y="491.6" width="7.36" height="7.3" fill="#dfe8f0"/>
<rect x="254.88" y="491.6" width="7.36" height="7.3" fill="#a3c7df"/>
<rect x="110.76" y="498.4" width="7.36" height="7.3" fill="#890000"/>
<rect x="117.62" y="498.4" width="7.36" height="7.3" fill="#890000"/>
<rect x="124.49" y="498.4" width="7.36" height="7.3" fill="#890000"/>
<rect x="131.35" y="498.4" width="7.36" height="7.3" fill="#890000"/>
<rect x="138.21" y="498.4" width="7.36" height="7.3" fill="#890000"/>
<rect x="145.07" y="498.4" width="7.36" height="7.3" fill="#890000"/>
<rect x="151.94" y="498.4" width="7.36" height="7.3" fill="#890000"/>
<rect x="158.8" y="498.4" width="7.36" height="7.3" fill="#890000"/>
<rect x="165.66" y="498.4" width="7.36" height="7.3" fill="#890000"/>
<rect x="172.52" y="498.4" width="7.36" height="7.3" fill="#890000"/>
<rect x="179.39" y="498.4" width="7.36" height="7.3" fill="#a60a0a"/>
<rect x="186.25" y="498.4" width="7.36" height="7.3" fill="#a60a0a"/>
<rect x="193.11" y="498.4" width="7.36" height="7.3" fill="#c22a1c"/>
<rect x="199.97" y="498.4" width="7.36" height="7.3" fill="#c22a1c"/>
<rect x="206.84" y="498.4" width="7.36" height="7.3" fill="#d24c31"/>
<rect x="213.7" y="498.4" width="7.36" height="7.3" fill="#e06c4f"/>
<rect x="220.56" y="498.4" width="7.36" height="7.3" fill="#ec8d6d"/>
<rect x="227.42" y="498.4" width="7.36" height="7.3" fill="#ec8d6d"/>
<rect x="234.29" y="498.4" width="7.36" height="7.3" fill="#f5b699"/>
<rect x="241.15" y="498.4" width="7.36" height="7.3" fill="#f2ecea"/>
<rect x="248.01" y="498.4" width="7.36" height="7.3" fill="#c6dbea"/>
<rect x="124.49" y="505.2" width="7.36" height="7.3" fill="#a60a0a"/>
<rect x="131.35" y="505.2" width="7.36" height="7.3" fill="#a60a0a"/>
<rect x="138.21" y="505.2" width="7.36" height="7.3" fill="#890000"/>
<rect x="145.07" y="505.2" width="7.36" height="7.3" fill="#890000"/>
<rect x="151.94" y="505.2" width="7.36" height="7.3" fill="#890000"/>
<rect x="158.8" y="505.2" width="7.36" height="7.3" fill="#890000"/>
<rect x="165.66" y="505.2" width="7.36" height="7.3" fill="#890000"/>
<rect x="172.52" y="505.2" width="7.36" height="7.3" fill="#890000"/>
<rect x="179.39" y="505.2" width="7.36" height="7.3" fill="#890000"/>
<rect x="186.25" y="505.2" width="7.36" height="7.3" fill="#a60a0a"/>
<rect x="193.11" y="505.2" width="7.36" height="7.3" fill="#a60a0a"/>
<rect x="199.97" y="505.2" width="7.36" height="7.3" fill="#c22a1c"/>
<rect x="206.84" y="505.2" width="7.36" height="7.3" fill="#d24c31"/>
<rect x="213.7" y="505.2" width="7.36" height="7.3" fill="#ec8d6d"/>
<rect x="220.56" y="505.2" width="7.36" height="7.3" fill="#f5b699"/>
<rect x="227.42" y="505.2" width="7.36" height="7.3" fill="#f9d8c7"/>
<rect x="234.29" y="505.2" width="7.36" height="7.3" fill="#f2ecea"/>
<rect x="138.21" y="512" width="7.36" height="7.3" fill="#a60a0a"/>
<rect x="145.07" y="512" width="7.36" height="7.3" fill="#a60a0a"/>
<rect x="151.94" y="512" width="7.36" height="7.3" fill="#a60a0a"/>
<rect x="158.8" y="512" width="7.36" height="7.3" fill="#890000"/>
<rect x="165.66" y="512" width="7.36" height="7.3" fill="#890000"/>
<rect x="172.52" y="512" width="7.36" height="7.3" fill="#890000"/>
<rect x="179.39" y="512" width="7.36" height="7.3" fill="#890000"/>
<rect x="186.25" y="512" width="7.36" height="7.3" fill="#a60a0a"/>
<rect x="193.11" y="512" width="7.36" height="7.3" fill="#a60a0a"/>
<rect x="199.97" y="512" width="7.36" height="7.3" fill="#c22a1c"/>
<rect x="206.84" y="512" width="7.36" height="7.3" fill="#d24c31"/>
<rect x="213.7" y="512" width="7.36" height="7.3" fill="#ec8d6d"/>
<rect x="220.56" y="512" width="7.36" height="7.3" fill="#f5b699"/>
<rect x="227.42" y="512" width="7.36" height="7.3" fill="#f9d8c7"/>
<rect x="151.94" y="518.8" width="7.36" height="7.3" fill="#c22a1c"/>
<rect x="158.8" y="518.8" width="7.36" height="7.3" fill="#a60a0a"/>
<rect x="165.66" y="518.8" width="7.36" height="7.3" fill="#a60a0a"/>
<rect x="172.52" y="518.8" width="7.36" height="7.3" fill="#a60a0a"/>
<rect x="179.39" y="518.8" width="7.36" height="7.3" fill="#a60a0a"/>
<rect x="186.25" y="518.8" width="7.36" height="7.3" fill="#a60a0a"/>
<rect x="193.11" y="518.8" width="7.36" height="7.3" fill="#c22a1c"/>
<rect x="199.97" y="518.8" width="7.36" height="7.3" fill="#c22a1c"/>
<rect x="206.84" y="518.8" width="7.36" height="7.3" fill="#d24c31"/>
<rect x="213.7" y="518.8" width="7.36" height="7.3" fill="#ec8d6d"/>
<rect x="220.56" y="518.8" width="7.36" height="7.3" fill="#f5b699"/>
<rect x="158.8" y="525.6" width="7.36" height="7.3" fill="#c22a1c"/>
<rect x="165.66" y="525.6" width="7.36" height="7.3" fill="#c22a1c"/>
<rect x="172.52" y="525.6" width="7.36" height="7.3" fill="#c22a1c"/>
<rect x="179.39" y="525.6" width="7.36" height="7.3" fill="#c22a1c"/>
<rect x="186.25" y="525.6" width="7.36" height="7.3" fill="#a60a0a"/>
<rect x="193.11" y="525.6" width="7.36" height="7.3" fill="#c22a1c"/>
<rect x="199.97" y="525.6" width="7.36" height="7.3" fill="#c22a1c"/>
<rect x="206.84" y="525.6" width="7.36" height="7.3" fill="#e06c4f"/>
<rect x="213.7" y="525.6" width="7.36" height="7.3" fill="#ec8d6d"/>
<rect x="172.52" y="532.4" width="7.36" height="7.3" fill="#c22a1c"/>
<rect x="179.39" y="532.4" width="7.36" height="7.3" fill="#c22a1c"/>
<rect x="186.25" y="532.4" width="7.36" height="7.3" fill="#c22a1c"/>
<rect x="193.11" y="532.4" width="7.36" height="7.3" fill="#c22a1c"/>
<rect x="199.97" y="532.4" width="7.36" height="7.3" fill="#d24c31"/>
<rect x="206.84" y="532.4" width="7.36" height="7.3" fill="#e06c4f"/>
<rect x="179.39" y="539.2" width="7.36" height="7.3" fill="#d24c31"/>
<rect x="186.25" y="539.2" width="7.36" height="7.3" fill="#d24c31"/>
<rect x="193.11" y="539.2" width="7.36" height="7.3" fill="#e06c4f"/>
<rect x="199.97" y="539.2" width="7.36" height="7.3" fill="#e06c4f"/>
<path d="M124.74,471.45 h6.86 M124.74,471.45 v6.8 M131.6,471.45 h6.86 M131.6,471.45 v6.8 M138.46,471.45 h6.86 M138.46,471.45 v6.8 M145.32,471.45 h6.86 M145.32,471.45 v6.8 M152.19,471.45 h6.86 M152.19,471.45 v6.8 M159.05,471.45 h6.86 M159.05,471.45 v6.8 M165.91,471.45 h6.86 M165.91,471.45 v6.8 M172.77,471.45 h6.86 M172.77,471.45 v6.8 M179.64,471.45 h6.86 M179.64,471.45 v6.8 M186.5,471.45 h6.86 M186.5,471.45 v6.8 M193.36,471.45 h6.86 M193.36,471.45 v6.8 M104.15,478.25 h6.86 M104.15,478.25 v6.8 M111.01,478.25 h6.86 M111.01,478.25 v6.8 M117.88,478.25 h6.86 M117.88,478.25 v6.8 M124.74,478.25 h6.86 M124.74,478.25 v6.8 M131.6,478.25 h6.86 M131.6,478.25 v6.8 M138.46,478.25 h6.86 M138.46,478.25 v6.8 M145.32,478.25 h6.86 M145.32,478.25 v6.8 M152.19,478.25 h6.86 M152.19,478.25 v6.8 M159.05,478.25 h6.86 M159.05,478.25 v6.8 M165.91,478.25 h6.86 M165.91,478.25 v6.8 M172.77,478.25 h6.86 M172.77,478.25 v6.8 M179.64,478.25 h6.86 M179.64,478.25 v6.8 M186.5,478.25 h6.86 M186.5,478.25 v6.8 M193.36,478.25 h6.86 M193.36,478.25 v6.8 M200.22,478.25 h6.86 M200.22,478.25 v6.8 M207.09,478.25 h6.86 M207.09,478.25 v6.8 M213.95,478.25 h6.86 M213.95,478.25 v6.8 M220.81,478.25 h6.86 M220.81,478.25 v6.8 M90.42,485.05 h6.86 M90.42,485.05 v6.8 M97.29,485.05 h6.86 M97.29,485.05 v6.8 M104.15,485.05 h6.86 M104.15,485.05 v6.8 M111.01,485.05 h6.86 M111.01,485.05 v6.8 M117.88,485.05 h6.86 M117.88,485.05 v6.8 M124.74,485.05 h6.86 M124.74,485.05 v6.8 M131.6,485.05 h6.86 M131.6,485.05 v6.8 M138.46,485.05 h6.86 M138.46,485.05 v6.8 M145.32,485.05 h6.86 M145.32,485.05 v6.8 M152.19,485.05 h6.86 M152.19,485.05 v6.8 M159.05,485.05 h6.86 M159.05,485.05 v6.8 M165.91,485.05 h6.86 M165.91,485.05 v6.8 M172.77,485.05 h6.86 M172.77,485.05 v6.8 M179.64,485.05 h6.86 M179.64,485.05 v6.8 M186.5,485.05 h6.86 M186.5,485.05 v6.8 M193.36,485.05 h6.86 M193.36,485.05 v6.8 M200.22,485.05 h6.86 M200.22,485.05 v6.8 M207.09,485.05 h6.86 M207.09,485.05 v6.8 M213.95,485.05 h6.86 M213.95,485.05 v6.8 M220.81,485.05 h6.86 M220.81,485.05 v6.8 M227.67,485.05 h6.86 M227.67,485.05 v6.8 M234.54,485.05 h6.86 M234.54,485.05 v6.8 M241.4,485.05 h6.86 M241.4,485.05 v6.8 M248.26,485.05 h6.86 M248.26,485.05 v6.8 M97.29,491.85 h6.86 M97.29,491.85 v6.8 M104.15,491.85 h6.86 M104.15,491.85 v6.8 M111.01,491.85 h6.86 M111.01,491.85 v6.8 M117.88,491.85 h6.86 M117.88,491.85 v6.8 M124.74,491.85 h6.86 M124.74,491.85 v6.8 M131.6,491.85 h6.86 M131.6,491.85 v6.8 M138.46,491.85 h6.86 M138.46,491.85 v6.8 M145.32,491.85 h6.86 M145.32,491.85 v6.8 M152.19,491.85 h6.86 M152.19,491.85 v6.8 M159.05,491.85 h6.86 M159.05,491.85 v6.8 M165.91,491.85 h6.86 M165.91,491.85 v6.8 M172.77,491.85 h6.86 M172.77,491.85 v6.8 M179.64,491.85 h6.86 M179.64,491.85 v6.8 M186.5,491.85 h6.86 M186.5,491.85 v6.8 M193.36,491.85 h6.86 M193.36,491.85 v6.8 M200.22,491.85 h6.86 M200.22,491.85 v6.8 M207.09,491.85 h6.86 M207.09,491.85 v6.8 M213.95,491.85 h6.86 M213.95,491.85 v6.8 M220.81,491.85 h6.86 M220.81,491.85 v6.8 M227.67,491.85 h6.86 M227.67,491.85 v6.8 M234.54,491.85 h6.86 M234.54,491.85 v6.8 M241.4,491.85 h6.86 M241.4,491.85 v6.8 M248.26,491.85 h6.86 M248.26,491.85 v6.8 M255.12,491.85 h6.86 M255.12,491.85 v6.8 M111.01,498.65 h6.86 M111.01,498.65 v6.8 M117.88,498.65 h6.86 M117.88,498.65 v6.8 M124.74,498.65 h6.86 M124.74,498.65 v6.8 M131.6,498.65 h6.86 M131.6,498.65 v6.8 M138.46,498.65 h6.86 M138.46,498.65 v6.8 M145.32,498.65 h6.86 M145.32,498.65 v6.8 M152.19,498.65 h6.86 M152.19,498.65 v6.8 M159.05,498.65 h6.86 M159.05,498.65 v6.8 M165.91,498.65 h6.86 M165.91,498.65 v6.8 M172.77,498.65 h6.86 M172.77,498.65 v6.8 M179.64,498.65 h6.86 M179.64,498.65 v6.8 M186.5,498.65 h6.86 M186.5,498.65 v6.8 M193.36,498.65 h6.86 M193.36,498.65 v6.8 M200.22,498.65 h6.86 M200.22,498.65 v6.8 M207.09,498.65 h6.86 M207.09,498.65 v6.8 M213.95,498.65 h6.86 M213.95,498.65 v6.8 M220.81,498.65 h6.86 M220.81,498.65 v6.8 M227.67,498.65 h6.86 M227.67,498.65 v6.8 M234.54,498.65 h6.86 M234.54,498.65 v6.8 M241.4,498.65 h6.86 M241.4,498.65 v6.8 M248.26,498.65 h6.86 M248.26,498.65 v6.8 M124.74,505.45 h6.86 M124.74,505.45 v6.8 M131.6,505.45 h6.86 M131.6,505.45 v6.8 M138.46,505.45 h6.86 M138.46,505.45 v6.8 M145.32,505.45 h6.86 M145.32,505.45 v6.8 M152.19,505.45 h6.86 M152.19,505.45 v6.8 M159.05,505.45 h6.86 M159.05,505.45 v6.8 M165.91,505.45 h6.86 M165.91,505.45 v6.8 M172.77,505.45 h6.86 M172.77,505.45 v6.8 M179.64,505.45 h6.86 M179.64,505.45 v6.8 M186.5,505.45 h6.86 M186.5,505.45 v6.8 M193.36,505.45 h6.86 M193.36,505.45 v6.8 M200.22,505.45 h6.86 M200.22,505.45 v6.8 M207.09,505.45 h6.86 M207.09,505.45 v6.8 M213.95,505.45 h6.86 M213.95,505.45 v6.8 M220.81,505.45 h6.86 M220.81,505.45 v6.8 M227.67,505.45 h6.86 M227.67,505.45 v6.8 M234.54,505.45 h6.86 M234.54,505.45 v6.8 M138.46,512.25 h6.86 M138.46,512.25 v6.8 M145.32,512.25 h6.86 M145.32,512.25 v6.8 M152.19,512.25 h6.86 M152.19,512.25 v6.8 M159.05,512.25 h6.86 M159.05,512.25 v6.8 M165.91,512.25 h6.86 M165.91,512.25 v6.8 M172.77,512.25 h6.86 M172.77,512.25 v6.8 M179.64,512.25 h6.86 M179.64,512.25 v6.8 M186.5,512.25 h6.86 M186.5,512.25 v6.8 M193.36,512.25 h6.86 M193.36,512.25 v6.8 M200.22,512.25 h6.86 M200.22,512.25 v6.8 M207.09,512.25 h6.86 M207.09,512.25 v6.8 M213.95,512.25 h6.86 M213.95,512.25 v6.8 M220.81,512.25 h6.86 M220.81,512.25 v6.8 M227.67,512.25 h6.86 M227.67,512.25 v6.8 M152.19,519.05 h6.86 M152.19,519.05 v6.8 M159.05,519.05 h6.86 M159.05,519.05 v6.8 M165.91,519.05 h6.86 M165.91,519.05 v6.8 M172.77,519.05 h6.86 M172.77,519.05 v6.8 M179.64,519.05 h6.86 M179.64,519.05 v6.8 M186.5,519.05 h6.86 M186.5,519.05 v6.8 M193.36,519.05 h6.86 M193.36,519.05 v6.8 M200.22,519.05 h6.86 M200.22,519.05 v6.8 M207.09,519.05 h6.86 M207.09,519.05 v6.8 M213.95,519.05 h6.86 M213.95,519.05 v6.8 M220.81,519.05 h6.86 M220.81,519.05 v6.8 M159.05,525.85 h6.86 M159.05,525.85 v6.8 M165.91,525.85 h6.86 M165.91,525.85 v6.8 M172.77,525.85 h6.86 M172.77,525.85 v6.8 M179.64,525.85 h6.86 M179.64,525.85 v6.8 M186.5,525.85 h6.86 M186.5,525.85 v6.8 M193.36,525.85 h6.86 M193.36,525.85 v6.8 M200.22,525.85 h6.86 M200.22,525.85 v6.8 M207.09,525.85 h6.86 M207.09,525.85 v6.8 M213.95,525.85 h6.86 M213.95,525.85 v6.8 M172.77,532.65 h6.86 M172.77,532.65 v6.8 M179.64,532.65 h6.86 M179.64,532.65 v6.8 M186.5,532.65 h6.86 M186.5,532.65 v6.8 M193.36,532.65 h6.86 M193.36,532.65 v6.8 M200.22,532.65 h6.86 M200.22,532.65 v6.8 M207.09,532.65 h6.86 M207.09,532.65 v6.8 M179.64,539.45 h6.86 M179.64,539.45 v6.8 M186.5,539.45 h6.86 M186.5,539.45 v6.8 M193.36,539.45 h6.86 M193.36,539.45 v6.8 M200.22,539.45 h6.86 M200.22,539.45 v6.8" stroke="#fff" stroke-opacity="0.09" stroke-width="0.7" fill="none"/>
<path d="M-25.01,320.77 L88.36,364.94 L110.21,384.47 L123.12,396.76 L132.31,405.55 L139.45,412.31 L145.29,417.74 L150.24,422.23 L154.53,426.05 L158.31,429.34 L161.69,432.22 L164.76,434.78 L167.55,437.06 L170.13,439.11 L172.51,440.98 L174.73,442.68 L176.8,444.24 L178.75,445.68 L180.59,447.02 L182.33,448.26 L183.98,449.41 L185.55,450.49 L187.05,451.5 L188.48,452.46 L189.85,453.36 L191.16,454.2 L192.43,455.01 L193.64,455.77 L194.81,456.49 L195.94,457.18 L197.03,457.84 L198.09,458.46 L199.11,459.06 L200.1,459.63 L201.06,460.18 L202,460.71 L202.9,461.21 L203.79,461.69 L204.65,462.16 L205.48,462.61 L206.3,463.04 L207.09,463.46 L208.63,464.25 L210.09,464.99 L211.49,465.68 L212.83,466.33 L214.12,466.95 L215.36,467.52 L216.55,468.07 L217.71,468.59 L218.82,469.08 L219.89,469.55 L220.93,469.99 L221.94,470.41 L222.91,470.82 L223.86,471.2 L224.78,471.57 L225.67,471.92 L226.55,472.26 L227.81,472.75 L229.03,473.2 L230.2,473.63 L231.33,474.04 L232.42,474.42 L233.48,474.79 L234.5,475.14 L235.49,475.47 L236.45,475.78 L237.39,476.09 L238.59,476.47 L239.75,476.83 L240.87,477.17 L241.96,477.49 L243,477.8 L244.02,478.09 L245,478.36 L245.96,478.63 L247.11,478.94 L248.23,479.24 L249.31,479.52 L250.35,479.78 L251.36,480.03 L252.34,480.27 L253.48,480.54 L254.57,480.8 L255.64,481.05 L256.66,481.28 L257.66,481.5 L258.79,481.74 L259.87,481.97 L260.93,482.19 L261.94,482.39 L263.07,482.62 L264.16,482.83 L265.21,483.03 L266.23,483.22 L267.34,483.42 L268.41,483.61 L269.45,483.79 L270.56,483.98 L271.64,484.16 L272.68,484.33 L273.79,484.51 L274.87,484.67 L276,484.85 L277.09,485.01 L278.15,485.16 L279.25,485.32 L280.32,485.47 L281.44,485.62 L282.51,485.76 L283.63,485.91 L284.71,486.04 L285.82,486.18 L286.89,486.31 L288,486.44 L289.13,486.57 L290.22,486.69 L291.33,486.81 L292.46,486.93 L293.55,487.05 L294.66,487.16 L295.78,487.27 L296.92,487.38 L298.06,487.49 L299.16,487.59 L300.27,487.69 L301.38,487.79 L302.5,487.89 L303.62,487.98 L304.74,488.07 L305.86,488.16 L306.98,488.25 L308.12,488.33 L309.27,488.42 L310.4,488.5 L311.53,488.58 L312.67,488.66 L313.81,488.73 L314.96,488.81 L316.11,488.88 L317.26,488.95 L318.4,489.02 L319.54,489.09 L320.7,489.16 L321.86,489.22 L323,489.28 L324.14,489.34 L324.96,489.38" fill="none" stroke="#a228f2" stroke-width="2" stroke-dasharray="8.4 4.4"/>
<path d="M-25.01,370.32 L88.36,431.27 L110.21,441.39 L123.12,446.85 L132.31,450.49 L139.45,453.17 L145.29,455.28 L150.24,456.99 L154.53,458.43 L158.31,459.66 L161.69,460.73 L164.76,461.68 L167.55,462.53 L170.13,463.29 L172.51,463.98 L174.73,464.61 L176.8,465.19 L178.75,465.73 L180.59,466.22 L182.33,466.69 L183.98,467.12 L185.55,467.53 L187.05,467.91 L188.48,468.27 L189.85,468.62 L191.16,468.94 L192.43,469.25 L193.64,469.54 L194.81,469.82 L195.94,470.09 L197.03,470.34 L198.09,470.59 L199.11,470.82 L200.1,471.05 L202,471.47 L203.79,471.86 L205.48,472.23 L207.09,472.58 L208.63,472.9 L210.09,473.2 L211.49,473.49 L212.83,473.76 L214.12,474.02 L215.36,474.26 L216.55,474.49 L217.71,474.71 L218.82,474.93 L219.89,475.13 L220.93,475.32 L222.43,475.6 L223.86,475.86 L225.23,476.1 L226.55,476.33 L227.81,476.55 L229.03,476.76 L230.2,476.96 L231.33,477.15 L232.42,477.33 L233.48,477.51 L234.83,477.73 L236.13,477.94 L237.39,478.13 L238.59,478.32 L239.75,478.5 L240.87,478.67 L241.96,478.83 L243,478.99 L244.27,479.18 L245.48,479.35 L246.66,479.52 L247.79,479.68 L248.88,479.83 L249.94,479.98 L251.16,480.15 L252.34,480.3 L253.48,480.46 L254.57,480.6 L255.64,480.74 L256.83,480.89 L257.99,481.04 L259.1,481.18 L260.18,481.31 L261.37,481.46 L262.51,481.6 L263.62,481.73 L264.82,481.87 L265.98,482 L267.1,482.13 L268.18,482.25 L269.33,482.38 L270.45,482.51 L271.64,482.64 L272.79,482.76 L273.89,482.88 L275.06,483 L276.18,483.12 L277.36,483.24 L278.49,483.35 L279.59,483.46 L280.73,483.57 L281.83,483.68 L282.97,483.79 L284.07,483.89 L285.2,484 L286.36,484.11 L287.48,484.21 L288.63,484.31 L289.74,484.41 L290.87,484.51 L292.01,484.61 L293.12,484.7 L294.24,484.8 L295.38,484.89 L296.53,484.99 L297.68,485.08 L298.8,485.17 L299.92,485.26 L301.04,485.34 L302.17,485.43 L303.3,485.52 L304.43,485.6 L305.56,485.69 L306.69,485.77 L307.81,485.85 L308.97,485.93 L310.11,486.01 L311.25,486.09 L312.38,486.17 L313.52,486.24 L314.66,486.32 L315.81,486.39 L316.95,486.47 L318.1,486.54 L319.23,486.61 L320.37,486.68 L321.52,486.75 L322.67,486.82 L323.8,486.89 L324.94,486.95 L324.96,486.96" fill="none" stroke="#10eef0" stroke-width="2" stroke-dasharray="8.4 4.4"/>
<path d="M192.43,678.03 L193.64,627.25 L194.81,603.84 L195.94,589.24 L197.03,578.94 L198.09,571.16 L199.11,565.01 L200.1,559.99 L201.06,555.81 L202,552.24 L202.9,549.16 L203.79,546.47 L204.65,544.09 L205.48,541.97 L206.3,540.06 L207.09,538.34 L207.87,536.77 L208.63,535.33 L209.37,534.02 L210.09,532.8 L210.8,531.67 L211.49,530.62 L212.17,529.65 L212.83,528.73 L213.48,527.88 L214.12,527.07 L214.75,526.31 L215.36,525.6 L215.96,524.92 L216.55,524.28 L217.71,523.09 L218.82,522.01 L219.89,521.03 L220.93,520.13 L221.94,519.3 L222.91,518.53 L223.86,517.82 L224.78,517.15 L225.67,516.54 L226.55,515.96 L227.39,515.41 L228.22,514.9 L229.03,514.42 L229.81,513.96 L230.95,513.32 L232.06,512.73 L233.13,512.18 L234.16,511.67 L235.16,511.2 L236.13,510.75 L237.08,510.33 L237.99,509.93 L238.88,509.56 L239.75,509.21 L240.87,508.76 L241.96,508.35 L243,507.97 L244.02,507.6 L245,507.26 L245.96,506.94 L246.88,506.64 L248.01,506.28 L249.09,505.95 L250.14,505.63 L251.16,505.34 L252.14,505.06 L253.1,504.8 L254.21,504.5 L255.29,504.22 L256.33,503.96 L257.33,503.71 L258.31,503.47 L259.41,503.21 L260.48,502.97 L261.51,502.74 L262.51,502.52 L263.62,502.29 L264.69,502.07 L265.72,501.86 L266.85,501.64 L267.94,501.43 L268.99,501.24 L270.01,501.05 L271.11,500.86 L272.17,500.67 L273.19,500.5 L274.29,500.32 L275.34,500.15 L276.46,499.97 L277.53,499.81 L278.66,499.64 L279.75,499.48 L280.81,499.33 L281.9,499.17 L282.97,499.03 L284.07,498.88 L285.13,498.74 L286.23,498.6 L287.35,498.46 L288.44,498.32 L289.55,498.19 L290.63,498.06 L291.73,497.94 L292.85,497.81 L293.98,497.69 L295.07,497.57 L296.18,497.45 L297.3,497.34 L298.43,497.22 L299.56,497.11 L300.66,497.01 L301.76,496.9 L302.86,496.8 L303.97,496.7 L305.08,496.6 L306.19,496.51 L307.33,496.41 L308.46,496.31 L309.59,496.22 L310.72,496.13 L311.83,496.05 L312.97,495.96 L314.1,495.87 L315.24,495.79 L316.37,495.71 L317.51,495.63 L318.64,495.55 L319.78,495.47 L320.93,495.4 L322.06,495.33 L323.19,495.25 L324.33,495.18 L324.96,495.14" fill="none" stroke="#0a14f0" stroke-width="2" stroke-dasharray="8.4 4.4"/>
<path d="M206.3,746.36 L207.09,688.58 L207.87,660.95 L208.63,642.89 L209.37,629.61 L210.09,619.18 L210.8,610.65 L211.49,603.48 L212.17,597.32 L212.83,591.95 L213.48,587.2 L214.12,582.97 L214.75,579.15 L215.36,575.69 L215.96,572.53 L216.55,569.63 L217.13,566.96 L217.71,564.49 L218.27,562.19 L218.82,560.05 L219.36,558.05 L219.89,556.17 L220.41,554.4 L220.93,552.74 L221.44,551.17 L221.94,549.69 L222.43,548.28 L222.91,546.94 L223.39,545.67 L223.86,544.46 L224.32,543.31 L224.78,542.21 L225.23,541.15 L225.67,540.15 L226.11,539.18 L226.55,538.26 L226.97,537.37 L227.39,536.52 L227.81,535.69 L228.22,534.9 L229.03,533.41 L229.81,532.02 L230.58,530.72 L231.33,529.5 L232.06,528.36 L232.78,527.29 L233.48,526.29 L234.16,525.33 L234.83,524.43 L235.49,523.58 L236.13,522.78 L236.77,522.01 L237.39,521.28 L237.99,520.58 L238.59,519.92 L239.18,519.29 L240.04,518.39 L240.87,517.56 L241.69,516.77 L242.48,516.03 L243.26,515.33 L244.02,514.67 L244.76,514.05 L245.48,513.46 L246.19,512.9 L246.88,512.37 L247.79,511.71 L248.66,511.08 L249.52,510.49 L250.35,509.94 L251.16,509.42 L251.95,508.93 L252.72,508.46 L253.66,507.91 L254.57,507.4 L255.46,506.92 L256.33,506.47 L257.17,506.04 L257.99,505.64 L258.94,505.18 L259.87,504.76 L260.78,504.36 L261.66,503.98 L262.51,503.63 L263.48,503.24 L264.42,502.87 L265.34,502.53 L266.23,502.21 L267.22,501.86 L268.18,501.54 L269.11,501.24 L270.12,500.92 L271.11,500.62 L272.06,500.34 L273.09,500.04 L274.09,499.77 L275.06,499.51 L276.09,499.25 L277.09,499 L278.06,498.77 L279.09,498.54 L280.08,498.31 L281.12,498.09 L282.13,497.88 L283.19,497.67 L284.21,497.47 L285.27,497.27 L286.29,497.09 L287.35,496.91 L288.44,496.72 L289.49,496.55 L290.57,496.38 L291.62,496.23 L292.68,496.07 L293.77,495.92 L294.87,495.77 L295.93,495.63 L297.01,495.49 L298.1,495.36 L299.2,495.23 L300.31,495.1 L301.42,494.98 L302.54,494.86 L303.66,494.75 L304.78,494.64 L305.9,494.53 L307.01,494.43 L308.12,494.33 L309.23,494.24 L310.37,494.15 L311.5,494.06 L312.61,493.97 L313.75,493.89 L314.88,493.81 L316.02,493.73 L317.15,493.66 L318.3,493.58 L319.45,493.51 L320.58,493.45 L321.72,493.38 L322.87,493.32 L324.01,493.26 L324.96,493.21" fill="none" stroke="#f81010" stroke-width="2" stroke-dasharray="8.4 4.4"/>
<mask id="m4_0" maskUnits="userSpaceOnUse" x="0" y="0" width="1085" height="665"><rect width="1085" height="665" fill="#fff"/>
<rect transform="translate(167.7,491.4) rotate(0)" x="-7.91" y="-3.42" width="15.81" height="6.84" fill="#000"/>
<rect transform="translate(173.7,519) rotate(38)" x="-7.52" y="-3.23" width="15.03" height="6.46" fill="#000"/>
</mask>
<g mask="url(#m4_0)"><path d="M136.8,491.7 L144.4,488.5 L159.7,486 L176.2,485.3 L185.2,487.4 L195.3,489.4 L205.5,493.5 L212.6,497.5 L213.6,500.6 L212.9,505.6 L210.6,511.7 L206.8,517.3 L200.7,523.4 L194.6,526.9 L188.5,526.9 L180.4,524.4 L165.2,513.2 L156.1,509.2 L150.8,506.3 L140.6,497.4 Z" fill="none" stroke="#ffcc00" stroke-width="1.7" stroke-linejoin="round" /></g>
<g mask="url(#m4_0)"><path d="M155.2,498.1 L160.9,492.3 L177.1,492.9 L186.2,492.9 L193.3,497.5 L196.4,500.6 L196.6,505.6 L193.3,512.7 L186.5,516.3 L175.3,510.2 L165.2,504.1 Z" fill="none" stroke="#ffcc00" stroke-width="1.7" stroke-linejoin="round" /></g>
<text transform="translate(167.7,491.4) rotate(0)" text-anchor="middle" dominant-baseline="central" font-size="7.2" font-weight="bold" fill="#ffcc00">0.75</text>
<text transform="translate(173.7,519) rotate(38)" text-anchor="middle" dominant-baseline="central" font-size="6.8" font-weight="bold" fill="#ffcc00">0.50</text>
<line x1="56.65" y1="355.01" x2="323.7" y2="624.19" stroke="#1e1e1e" stroke-width="1.6" stroke-dasharray="1.4 1.5"/>
</g>
<rect x="49.2" y="355.6" width="274.5" height="272.0" fill="none" stroke="#000" stroke-width="2"/>
<path d="M71.54,627.6 v-2.6 M71.54,355.6 v2.6 M84.61,627.6 v-2.6 M84.61,355.6 v2.6 M93.88,627.6 v-2.6 M93.88,355.6 v2.6 M101.07,627.6 v-2.6 M101.07,355.6 v2.6 M106.95,627.6 v-2.6 M106.95,355.6 v2.6 M111.91,627.6 v-2.6 M111.91,355.6 v2.6 M116.22,627.6 v-2.6 M116.22,355.6 v2.6 M120.01,627.6 v-2.6 M120.01,355.6 v2.6 M123.41,627.6 v-5 M123.41,355.6 v5 M145.75,627.6 v-2.6 M145.75,355.6 v2.6 M158.82,627.6 v-2.6 M158.82,355.6 v2.6 M168.09,627.6 v-2.6 M168.09,355.6 v2.6 M175.28,627.6 v-2.6 M175.28,355.6 v2.6 M181.16,627.6 v-2.6 M181.16,355.6 v2.6 M186.12,627.6 v-2.6 M186.12,355.6 v2.6 M190.43,627.6 v-2.6 M190.43,355.6 v2.6 M194.22,627.6 v-2.6 M194.22,355.6 v2.6 M197.62,627.6 v-5 M197.62,355.6 v5 M219.96,627.6 v-2.6 M219.96,355.6 v2.6 M233.03,627.6 v-2.6 M233.03,355.6 v2.6 M242.3,627.6 v-2.6 M242.3,355.6 v2.6 M249.49,627.6 v-2.6 M249.49,355.6 v2.6 M255.37,627.6 v-2.6 M255.37,355.6 v2.6 M260.33,627.6 v-2.6 M260.33,355.6 v2.6 M264.64,627.6 v-2.6 M264.64,355.6 v2.6 M268.43,627.6 v-2.6 M268.43,355.6 v2.6 M271.83,627.6 v-5 M271.83,355.6 v5 M294.17,627.6 v-2.6 M294.17,355.6 v2.6 M307.24,627.6 v-2.6 M307.24,355.6 v2.6 M316.51,627.6 v-2.6 M316.51,355.6 v2.6 M49.2,586.66 h2.6 M323.7,586.66 h-2.6 M49.2,562.71 h2.6 M323.7,562.71 h-2.6 M49.2,545.72 h2.6 M323.7,545.72 h-2.6 M49.2,532.54 h2.6 M323.7,532.54 h-2.6 M49.2,521.77 h2.6 M323.7,521.77 h-2.6 M49.2,512.67 h2.6 M323.7,512.67 h-2.6 M49.2,504.78 h2.6 M323.7,504.78 h-2.6 M49.2,497.82 h2.6 M323.7,497.82 h-2.6 M49.2,491.6 h5 M323.7,491.6 h-5 M49.2,450.66 h2.6 M323.7,450.66 h-2.6 M49.2,426.71 h2.6 M323.7,426.71 h-2.6 M49.2,409.72 h2.6 M323.7,409.72 h-2.6 M49.2,396.54 h2.6 M323.7,396.54 h-2.6 M49.2,385.77 h2.6 M323.7,385.77 h-2.6 M49.2,376.67 h2.6 M323.7,376.67 h-2.6 M49.2,368.78 h2.6 M323.7,368.78 h-2.6 M49.2,361.82 h2.6 M323.7,361.82 h-2.6" stroke="#000" stroke-width="1.5" fill="none"/>
<text x="49.2" y="644.3" text-anchor="middle" class="tl">10<tspan class="sup" dy="-5.2">−2</tspan></text>
<text x="123.41" y="644.3" text-anchor="middle" class="tl">10<tspan class="sup" dy="-5.2">−1</tspan></text>
<text x="197.62" y="644.3" text-anchor="middle" class="tl">10<tspan class="sup" dy="-5.2">0</tspan></text>
<text x="271.83" y="644.3" text-anchor="middle" class="tl">10<tspan class="sup" dy="-5.2">1</tspan></text>
<text x="45.8" y="629.1" text-anchor="end" class="tl">10<tspan class="sup" dy="-5.2">−1</tspan></text>
<text x="45.8" y="496.9" text-anchor="end" class="tl">10<tspan class="sup" dy="-5.2">0</tspan></text>
<text x="45.8" y="364.2" text-anchor="end" class="tl">10<tspan class="sup" dy="-5.2">1</tspan></text>
<text x="178.65" y="658.8" class="ax">β<tspan class="sub" dy="1.8">∥p</tspan></text>
<text transform="translate(11,492) rotate(-90)" text-anchor="middle" class="ax" textLength="36.4" lengthAdjust="spacingAndGlyphs">T<tspan class="sub" dy="1.6">⊥p</tspan><tspan dy="-1.6">/T</tspan><tspan class="sub" dy="1.6">∥p</tspan></text>
<text x="186.45" y="349" text-anchor="middle" class="ti" textLength="194.3" lengthAdjust="spacingAndGlyphs">Low lσ<tspan class="tsub" dy="3.6">c</tspan><tspan dy="-3.6">l (&lt;0.25) Slow Wind</tspan></text>
<text x="61.6" y="546.1" class="lg" fill="#a633f2" stroke="#a633f2" textLength="32.5" lengthAdjust="spacingAndGlyphs">mirror</text>
<text x="61.6" y="563.1" class="lg" fill="#14f0f0" stroke="#14f0f0" textLength="71.8" lengthAdjust="spacingAndGlyphs">ion−cyclotron</text>
<text x="61.6" y="576.6" class="lg" fill="#0a10f5" stroke="#0a10f5" textLength="84.2" lengthAdjust="spacingAndGlyphs">parallel firehose</text>
<text x="61.6" y="590.1" class="lg" fill="#fa1010" stroke="#fa1010" textLength="84" lengthAdjust="spacingAndGlyphs">oblique firehose</text>
<text x="61.6" y="603.6" class="lg" fill="#000" stroke="#000" textLength="83.6" lengthAdjust="spacingAndGlyphs">anti−correlation</text>
<text x="57.1" y="617.8" class="lg" fill="#1c2260" stroke="#1c2260">(c1)</text>
<clipPath id="clip5"><rect x="412.2" y="355.6" width="274.5" height="272.0"/></clipPath>
<g clip-path="url(#clip5)">
<rect x="501.21" y="471.2" width="7.36" height="7.3" fill="#d24c31"/>
<rect x="514.94" y="471.2" width="7.36" height="7.3" fill="#e06c4f"/>
<rect x="473.76" y="478" width="7.36" height="7.3" fill="#a60a0a"/>
<rect x="480.62" y="478" width="7.36" height="7.3" fill="#a60a0a"/>
<rect x="487.49" y="478" width="7.36" height="7.3" fill="#a60a0a"/>
<rect x="494.35" y="478" width="7.36" height="7.3" fill="#a60a0a"/>
<rect x="501.21" y="478" width="7.36" height="7.3" fill="#c22a1c"/>
<rect x="508.07" y="478" width="7.36" height="7.3" fill="#c22a1c"/>
<rect x="514.94" y="478" width="7.36" height="7.3" fill="#c22a1c"/>
<rect x="521.8" y="478" width="7.36" height="7.3" fill="#d24c31"/>
<rect x="528.66" y="478" width="7.36" height="7.3" fill="#d24c31"/>
<rect x="535.52" y="478" width="7.36" height="7.3" fill="#e06c4f"/>
<rect x="542.39" y="478" width="7.36" height="7.3" fill="#ec8d6d"/>
<rect x="549.25" y="478" width="7.36" height="7.3" fill="#f5b699"/>
<rect x="556.11" y="478" width="7.36" height="7.3" fill="#f9d8c7"/>
<rect x="460.04" y="484.8" width="7.36" height="7.3" fill="#660000"/>
<rect x="466.9" y="484.8" width="7.36" height="7.3" fill="#660000"/>
<rect x="473.76" y="484.8" width="7.36" height="7.3" fill="#660000"/>
<rect x="480.62" y="484.8" width="7.36" height="7.3" fill="#4b0000"/>
<rect x="487.49" y="484.8" width="7.36" height="7.3" fill="#4b0000"/>
<rect x="494.35" y="484.8" width="7.36" height="7.3" fill="#660000"/>
<rect x="501.21" y="484.8" width="7.36" height="7.3" fill="#890000"/>
<rect x="508.07" y="484.8" width="7.36" height="7.3" fill="#890000"/>
<rect x="514.94" y="484.8" width="7.36" height="7.3" fill="#890000"/>
<rect x="521.8" y="484.8" width="7.36" height="7.3" fill="#a60a0a"/>
<rect x="528.66" y="484.8" width="7.36" height="7.3" fill="#a60a0a"/>
<rect x="535.52" y="484.8" width="7.36" height="7.3" fill="#c22a1c"/>
<rect x="542.39" y="484.8" width="7.36" height="7.3" fill="#d24c31"/>
<rect x="549.25" y="484.8" width="7.36" height="7.3" fill="#e06c4f"/>
<rect x="556.11" y="484.8" width="7.36" height="7.3" fill="#ec8d6d"/>
<rect x="562.98" y="484.8" width="7.36" height="7.3" fill="#f5b699"/>
<rect x="569.84" y="484.8" width="7.36" height="7.3" fill="#f9d8c7"/>
<rect x="576.7" y="484.8" width="7.36" height="7.3" fill="#dfe8f0"/>
<rect x="460.04" y="491.6" width="7.36" height="7.3" fill="#660000"/>
<rect x="466.9" y="491.6" width="7.36" height="7.3" fill="#4b0000"/>
<rect x="473.76" y="491.6" width="7.36" height="7.3" fill="#4b0000"/>
<rect x="480.62" y="491.6" width="7.36" height="7.3" fill="#4b0000"/>
<rect x="487.49" y="491.6" width="7.36" height="7.3" fill="#4b0000"/>
<rect x="494.35" y="491.6" width="7.36" height="7.3" fill="#660000"/>
<rect x="501.21" y="491.6" width="7.36" height="7.3" fill="#660000"/>
<rect x="508.07" y="491.6" width="7.36" height="7.3" fill="#890000"/>
<rect x="514.94" y="491.6" width="7.36" height="7.3" fill="#890000"/>
<rect x="521.8" y="491.6" width="7.36" height="7.3" fill="#890000"/>
<rect x="528.66" y="491.6" width="7.36" height="7.3" fill="#890000"/>
<rect x="535.52" y="491.6" width="7.36" height="7.3" fill="#a60a0a"/>
<rect x="542.39" y="491.6" width="7.36" height="7.3" fill="#c22a1c"/>
<rect x="549.25" y="491.6" width="7.36" height="7.3" fill="#d24c31"/>
<rect x="556.11" y="491.6" width="7.36" height="7.3" fill="#e06c4f"/>
<rect x="562.98" y="491.6" width="7.36" height="7.3" fill="#ec8d6d"/>
<rect x="569.84" y="491.6" width="7.36" height="7.3" fill="#f5b699"/>
<rect x="576.7" y="491.6" width="7.36" height="7.3" fill="#f9d8c7"/>
<rect x="583.56" y="491.6" width="7.36" height="7.3" fill="#f2ecea"/>
<rect x="590.42" y="491.6" width="7.36" height="7.3" fill="#c6dbea"/>
<rect x="466.9" y="498.4" width="7.36" height="7.3" fill="#660000"/>
<rect x="473.76" y="498.4" width="7.36" height="7.3" fill="#890000"/>
<rect x="480.62" y="498.4" width="7.36" height="7.3" fill="#660000"/>
<rect x="487.49" y="498.4" width="7.36" height="7.3" fill="#660000"/>
<rect x="494.35" y="498.4" width="7.36" height="7.3" fill="#660000"/>
<rect x="501.21" y="498.4" width="7.36" height="7.3" fill="#660000"/>
<rect x="508.07" y="498.4" width="7.36" height="7.3" fill="#660000"/>
<rect x="514.94" y="498.4" width="7.36" height="7.3" fill="#660000"/>
<rect x="521.8" y="498.4" width="7.36" height="7.3" fill="#660000"/>
<rect x="528.66" y="498.4" width="7.36" height="7.3" fill="#660000"/>
<rect x="535.52" y="498.4" width="7.36" height="7.3" fill="#890000"/>
<rect x="542.39" y="498.4" width="7.36" height="7.3" fill="#a60a0a"/>
<rect x="549.25" y="498.4" width="7.36" height="7.3" fill="#c22a1c"/>
<rect x="556.11" y="498.4" width="7.36" height="7.3" fill="#d24c31"/>
<rect x="562.98" y="498.4" width="7.36" height="7.3" fill="#e06c4f"/>
<rect x="569.84" y="498.4" width="7.36" height="7.3" fill="#ec8d6d"/>
<rect x="576.7" y="498.4" width="7.36" height="7.3" fill="#f5b699"/>
<rect x="583.56" y="498.4" width="7.36" height="7.3" fill="#f9d8c7"/>
<rect x="590.42" y="498.4" width="7.36" height="7.3" fill="#dfe8f0"/>
<rect x="480.62" y="505.2" width="7.36" height="7.3" fill="#890000"/>
<rect x="487.49" y="505.2" width="7.36" height="7.3" fill="#890000"/>
<rect x="494.35" y="505.2" width="7.36" height="7.3" fill="#660000"/>
<rect x="501.21" y="505.2" width="7.36" height="7.3" fill="#660000"/>
<rect x="508.07" y="505.2" width="7.36" height="7.3" fill="#660000"/>
<rect x="514.94" y="505.2" width="7.36" height="7.3" fill="#660000"/>
<rect x="521.8" y="505.2" width="7.36" height="7.3" fill="#660000"/>
<rect x="528.66" y="505.2" width="7.36" height="7.3" fill="#660000"/>
<rect x="535.52" y="505.2" width="7.36" height="7.3" fill="#660000"/>
<rect x="542.39" y="505.2" width="7.36" height="7.3" fill="#890000"/>
<rect x="549.25" y="505.2" width="7.36" height="7.3" fill="#a60a0a"/>
<rect x="556.11" y="505.2" width="7.36" height="7.3" fill="#c22a1c"/>
<rect x="562.98" y="505.2" width="7.36" height="7.3" fill="#d24c31"/>
<rect x="569.84" y="505.2" width="7.36" height="7.3" fill="#e06c4f"/>
<rect x="576.7" y="505.2" width="7.36" height="7.3" fill="#ec8d6d"/>
<rect x="583.56" y="505.2" width="7.36" height="7.3" fill="#f9d8c7"/>
<rect x="590.42" y="505.2" width="7.36" height="7.3" fill="#dfe8f0"/>
<rect x="494.35" y="512" width="7.36" height="7.3" fill="#890000"/>
<rect x="501.21" y="512" width="7.36" height="7.3" fill="#890000"/>
<rect x="508.07" y="512" width="7.36" height="7.3" fill="#890000"/>
<rect x="514.94" y="512" width="7.36" height="7.3" fill="#890000"/>
<rect x="521.8" y="512" width="7.36" height="7.3" fill="#890000"/>
<rect x="528.66" y="512" width="7.36" height="7.3" fill="#890000"/>
<rect x="535.52" y="512" width="7.36" height="7.3" fill="#890000"/>
<rect x="542.39" y="512" width="7.36" height="7.3" fill="#890000"/>
<rect x="549.25" y="512" width="7.36" height="7.3" fill="#890000"/>
<rect x="556.11" y="512" width="7.36" height="7.3" fill="#a60a0a"/>
<rect x="562.98" y="512" width="7.36" height="7.3" fill="#c22a1c"/>
<rect x="569.84" y="512" width="7.36" height="7.3" fill="#e06c4f"/>
<rect x="576.7" y="512" width="7.36" height="7.3" fill="#f5b699"/>
<rect x="583.56" y="512" width="7.36" height="7.3" fill="#f2ecea"/>
<rect x="501.21" y="518.8" width="7.36" height="7.3" fill="#a60a0a"/>
<rect x="508.07" y="518.8" width="7.36" height="7.3" fill="#890000"/>
<rect x="514.94" y="518.8" width="7.36" height="7.3" fill="#890000"/>
<rect x="521.8" y="518.8" width="7.36" height="7.3" fill="#890000"/>
<rect x="528.66" y="518.8" width="7.36" height="7.3" fill="#890000"/>
<rect x="535.52" y="518.8" width="7.36" height="7.3" fill="#890000"/>
<rect x="542.39" y="518.8" width="7.36" height="7.3" fill="#890000"/>
<rect x="549.25" y="518.8" width="7.36" height="7.3" fill="#890000"/>
<rect x="556.11" y="518.8" width="7.36" height="7.3" fill="#a60a0a"/>
<rect x="562.98" y="518.8" width="7.36" height="7.3" fill="#c22a1c"/>
<rect x="569.84" y="518.8" width="7.36" height="7.3" fill="#e06c4f"/>
<rect x="576.7" y="518.8" width="7.36" height="7.3" fill="#f5b699"/>
<rect x="508.07" y="525.6" width="7.36" height="7.3" fill="#a60a0a"/>
<rect x="514.94" y="525.6" width="7.36" height="7.3" fill="#890000"/>
<rect x="521.8" y="525.6" width="7.36" height="7.3" fill="#890000"/>
<rect x="528.66" y="525.6" width="7.36" height="7.3" fill="#890000"/>
<rect x="535.52" y="525.6" width="7.36" height="7.3" fill="#890000"/>
<rect x="542.39" y="525.6" width="7.36" height="7.3" fill="#890000"/>
<rect x="549.25" y="525.6" width="7.36" height="7.3" fill="#890000"/>
<rect x="556.11" y="525.6" width="7.36" height="7.3" fill="#890000"/>
<rect x="562.98" y="525.6" width="7.36" height="7.3" fill="#a60a0a"/>
<rect x="569.84" y="525.6" width="7.36" height="7.3" fill="#d24c31"/>
<rect x="576.7" y="525.6" width="7.36" height="7.3" fill="#f5b699"/>
<rect x="514.94" y="532.4" width="7.36" height="7.3" fill="#a60a0a"/>
<rect x="521.8" y="532.4" width="7.36" height="7.3" fill="#a60a0a"/>
<rect x="528.66" y="532.4" width="7.36" height="7.3" fill="#890000"/>
<rect x="535.52" y="532.4" width="7.36" height="7.3" fill="#890000"/>
<rect x="542.39" y="532.4" width="7.36" height="7.3" fill="#890000"/>
<rect x="549.25" y="532.4" width="7.36" height="7.3" fill="#890000"/>
<rect x="556.11" y="532.4" width="7.36" height="7.3" fill="#890000"/>
<rect x="562.98" y="532.4" width="7.36" height="7.3" fill="#a60a0a"/>
<rect x="569.84" y="532.4" width="7.36" height="7.3" fill="#d24c31"/>
<rect x="576.7" y="532.4" width="7.36" height="7.3" fill="#f5b699"/>
<rect x="521.8" y="539.2" width="7.36" height="7.3" fill="#c22a1c"/>
<rect x="528.66" y="539.2" width="7.36" height="7.3" fill="#a60a0a"/>
<rect x="535.52" y="539.2" width="7.36" height="7.3" fill="#a60a0a"/>
<rect x="542.39" y="539.2" width="7.36" height="7.3" fill="#a60a0a"/>
<rect x="549.25" y="539.2" width="7.36" height="7.3" fill="#a60a0a"/>
<rect x="556.11" y="539.2" width="7.36" height="7.3" fill="#a60a0a"/>
<rect x="562.98" y="539.2" width="7.36" height="7.3" fill="#c22a1c"/>
<rect x="569.84" y="539.2" width="7.36" height="7.3" fill="#e06c4f"/>
<rect x="535.52" y="546" width="7.36" height="7.3" fill="#c22a1c"/>
<rect x="542.39" y="546" width="7.36" height="7.3" fill="#c22a1c"/>
<rect x="549.25" y="546" width="7.36" height="7.3" fill="#c22a1c"/>
<rect x="556.11" y="546" width="7.36" height="7.3" fill="#c22a1c"/>
<rect x="562.98" y="546" width="7.36" height="7.3" fill="#d24c31"/>
<rect x="569.84" y="546" width="7.36" height="7.3" fill="#ec8d6d"/>
<rect x="542.39" y="552.8" width="7.36" height="7.3" fill="#d24c31"/>
<rect x="549.25" y="552.8" width="7.36" height="7.3" fill="#d24c31"/>
<rect x="556.11" y="552.8" width="7.36" height="7.3" fill="#d24c31"/>
<rect x="562.98" y="552.8" width="7.36" height="7.3" fill="#e06c4f"/>
<path d="M501.46,471.45 h6.86 M501.46,471.45 v6.8 M515.19,471.45 h6.86 M515.19,471.45 v6.8 M474.01,478.25 h6.86 M474.01,478.25 v6.8 M480.88,478.25 h6.86 M480.88,478.25 v6.8 M487.74,478.25 h6.86 M487.74,478.25 v6.8 M494.6,478.25 h6.86 M494.6,478.25 v6.8 M501.46,478.25 h6.86 M501.46,478.25 v6.8 M508.32,478.25 h6.86 M508.32,478.25 v6.8 M515.19,478.25 h6.86 M515.19,478.25 v6.8 M522.05,478.25 h6.86 M522.05,478.25 v6.8 M528.91,478.25 h6.86 M528.91,478.25 v6.8 M535.77,478.25 h6.86 M535.77,478.25 v6.8 M542.64,478.25 h6.86 M542.64,478.25 v6.8 M549.5,478.25 h6.86 M549.5,478.25 v6.8 M556.36,478.25 h6.86 M556.36,478.25 v6.8 M460.29,485.05 h6.86 M460.29,485.05 v6.8 M467.15,485.05 h6.86 M467.15,485.05 v6.8 M474.01,485.05 h6.86 M474.01,485.05 v6.8 M480.88,485.05 h6.86 M480.88,485.05 v6.8 M487.74,485.05 h6.86 M487.74,485.05 v6.8 M494.6,485.05 h6.86 M494.6,485.05 v6.8 M501.46,485.05 h6.86 M501.46,485.05 v6.8 M508.32,485.05 h6.86 M508.32,485.05 v6.8 M515.19,485.05 h6.86 M515.19,485.05 v6.8 M522.05,485.05 h6.86 M522.05,485.05 v6.8 M528.91,485.05 h6.86 M528.91,485.05 v6.8 M535.77,485.05 h6.86 M535.77,485.05 v6.8 M542.64,485.05 h6.86 M542.64,485.05 v6.8 M549.5,485.05 h6.86 M549.5,485.05 v6.8 M556.36,485.05 h6.86 M556.36,485.05 v6.8 M563.23,485.05 h6.86 M563.23,485.05 v6.8 M570.09,485.05 h6.86 M570.09,485.05 v6.8 M576.95,485.05 h6.86 M576.95,485.05 v6.8 M460.29,491.85 h6.86 M460.29,491.85 v6.8 M467.15,491.85 h6.86 M467.15,491.85 v6.8 M474.01,491.85 h6.86 M474.01,491.85 v6.8 M480.88,491.85 h6.86 M480.88,491.85 v6.8 M487.74,491.85 h6.86 M487.74,491.85 v6.8 M494.6,491.85 h6.86 M494.6,491.85 v6.8 M501.46,491.85 h6.86 M501.46,491.85 v6.8 M508.32,491.85 h6.86 M508.32,491.85 v6.8 M515.19,491.85 h6.86 M515.19,491.85 v6.8 M522.05,491.85 h6.86 M522.05,491.85 v6.8 M528.91,491.85 h6.86 M528.91,491.85 v6.8 M535.77,491.85 h6.86 M535.77,491.85 v6.8 M542.64,491.85 h6.86 M542.64,491.85 v6.8 M549.5,491.85 h6.86 M549.5,491.85 v6.8 M556.36,491.85 h6.86 M556.36,491.85 v6.8 M563.23,491.85 h6.86 M563.23,491.85 v6.8 M570.09,491.85 h6.86 M570.09,491.85 v6.8 M576.95,491.85 h6.86 M576.95,491.85 v6.8 M583.81,491.85 h6.86 M583.81,491.85 v6.8 M590.67,491.85 h6.86 M590.67,491.85 v6.8 M467.15,498.65 h6.86 M467.15,498.65 v6.8 M474.01,498.65 h6.86 M474.01,498.65 v6.8 M480.88,498.65 h6.86 M480.88,498.65 v6.8 M487.74,498.65 h6.86 M487.74,498.65 v6.8 M494.6,498.65 h6.86 M494.6,498.65 v6.8 M501.46,498.65 h6.86 M501.46,498.65 v6.8 M508.32,498.65 h6.86 M508.32,498.65 v6.8 M515.19,498.65 h6.86 M515.19,498.65 v6.8 M522.05,498.65 h6.86 M522.05,498.65 v6.8 M528.91,498.65 h6.86 M528.91,498.65 v6.8 M535.77,498.65 h6.86 M535.77,498.65 v6.8 M542.64,498.65 h6.86 M542.64,498.65 v6.8 M549.5,498.65 h6.86 M549.5,498.65 v6.8 M556.36,498.65 h6.86 M556.36,498.65 v6.8 M563.23,498.65 h6.86 M563.23,498.65 v6.8 M570.09,498.65 h6.86 M570.09,498.65 v6.8 M576.95,498.65 h6.86 M576.95,498.65 v6.8 M583.81,498.65 h6.86 M583.81,498.65 v6.8 M590.67,498.65 h6.86 M590.67,498.65 v6.8 M480.88,505.45 h6.86 M480.88,505.45 v6.8 M487.74,505.45 h6.86 M487.74,505.45 v6.8 M494.6,505.45 h6.86 M494.6,505.45 v6.8 M501.46,505.45 h6.86 M501.46,505.45 v6.8 M508.32,505.45 h6.86 M508.32,505.45 v6.8 M515.19,505.45 h6.86 M515.19,505.45 v6.8 M522.05,505.45 h6.86 M522.05,505.45 v6.8 M528.91,505.45 h6.86 M528.91,505.45 v6.8 M535.77,505.45 h6.86 M535.77,505.45 v6.8 M542.64,505.45 h6.86 M542.64,505.45 v6.8 M549.5,505.45 h6.86 M549.5,505.45 v6.8 M556.36,505.45 h6.86 M556.36,505.45 v6.8 M563.23,505.45 h6.86 M563.23,505.45 v6.8 M570.09,505.45 h6.86 M570.09,505.45 v6.8 M576.95,505.45 h6.86 M576.95,505.45 v6.8 M583.81,505.45 h6.86 M583.81,505.45 v6.8 M590.67,505.45 h6.86 M590.67,505.45 v6.8 M494.6,512.25 h6.86 M494.6,512.25 v6.8 M501.46,512.25 h6.86 M501.46,512.25 v6.8 M508.32,512.25 h6.86 M508.32,512.25 v6.8 M515.19,512.25 h6.86 M515.19,512.25 v6.8 M522.05,512.25 h6.86 M522.05,512.25 v6.8 M528.91,512.25 h6.86 M528.91,512.25 v6.8 M535.77,512.25 h6.86 M535.77,512.25 v6.8 M542.64,512.25 h6.86 M542.64,512.25 v6.8 M549.5,512.25 h6.86 M549.5,512.25 v6.8 M556.36,512.25 h6.86 M556.36,512.25 v6.8 M563.23,512.25 h6.86 M563.23,512.25 v6.8 M570.09,512.25 h6.86 M570.09,512.25 v6.8 M576.95,512.25 h6.86 M576.95,512.25 v6.8 M583.81,512.25 h6.86 M583.81,512.25 v6.8 M501.46,519.05 h6.86 M501.46,519.05 v6.8 M508.32,519.05 h6.86 M508.32,519.05 v6.8 M515.19,519.05 h6.86 M515.19,519.05 v6.8 M522.05,519.05 h6.86 M522.05,519.05 v6.8 M528.91,519.05 h6.86 M528.91,519.05 v6.8 M535.77,519.05 h6.86 M535.77,519.05 v6.8 M542.64,519.05 h6.86 M542.64,519.05 v6.8 M549.5,519.05 h6.86 M549.5,519.05 v6.8 M556.36,519.05 h6.86 M556.36,519.05 v6.8 M563.23,519.05 h6.86 M563.23,519.05 v6.8 M570.09,519.05 h6.86 M570.09,519.05 v6.8 M576.95,519.05 h6.86 M576.95,519.05 v6.8 M508.32,525.85 h6.86 M508.32,525.85 v6.8 M515.19,525.85 h6.86 M515.19,525.85 v6.8 M522.05,525.85 h6.86 M522.05,525.85 v6.8 M528.91,525.85 h6.86 M528.91,525.85 v6.8 M535.77,525.85 h6.86 M535.77,525.85 v6.8 M542.64,525.85 h6.86 M542.64,525.85 v6.8 M549.5,525.85 h6.86 M549.5,525.85 v6.8 M556.36,525.85 h6.86 M556.36,525.85 v6.8 M563.23,525.85 h6.86 M563.23,525.85 v6.8 M570.09,525.85 h6.86 M570.09,525.85 v6.8 M576.95,525.85 h6.86 M576.95,525.85 v6.8 M515.19,532.65 h6.86 M515.19,532.65 v6.8 M522.05,532.65 h6.86 M522.05,532.65 v6.8 M528.91,532.65 h6.86 M528.91,532.65 v6.8 M535.77,532.65 h6.86 M535.77,532.65 v6.8 M542.64,532.65 h6.86 M542.64,532.65 v6.8 M549.5,532.65 h6.86 M549.5,532.65 v6.8 M556.36,532.65 h6.86 M556.36,532.65 v6.8 M563.23,532.65 h6.86 M563.23,532.65 v6.8 M570.09,532.65 h6.86 M570.09,532.65 v6.8 M576.95,532.65 h6.86 M576.95,532.65 v6.8 M522.05,539.45 h6.86 M522.05,539.45 v6.8 M528.91,539.45 h6.86 M528.91,539.45 v6.8 M535.77,539.45 h6.86 M535.77,539.45 v6.8 M542.64,539.45 h6.86 M542.64,539.45 v6.8 M549.5,539.45 h6.86 M549.5,539.45 v6.8 M556.36,539.45 h6.86 M556.36,539.45 v6.8 M563.23,539.45 h6.86 M563.23,539.45 v6.8 M570.09,539.45 h6.86 M570.09,539.45 v6.8 M535.77,546.25 h6.86 M535.77,546.25 v6.8 M542.64,546.25 h6.86 M542.64,546.25 v6.8 M549.5,546.25 h6.86 M549.5,546.25 v6.8 M556.36,546.25 h6.86 M556.36,546.25 v6.8 M563.23,546.25 h6.86 M563.23,546.25 v6.8 M570.09,546.25 h6.86 M570.09,546.25 v6.8 M542.64,553.05 h6.86 M542.64,553.05 v6.8 M549.5,553.05 h6.86 M549.5,553.05 v6.8 M556.36,553.05 h6.86 M556.36,553.05 v6.8 M563.23,553.05 h6.86 M563.23,553.05 v6.8" stroke="#fff" stroke-opacity="0.09" stroke-width="0.7" fill="none"/>
<path d="M499.6,491.6 L503.3,489.1 L511.6,487 L519.9,486.2 L532.3,486 L544.8,486.6 L553,488.3 L561.3,490.8 L569.6,494.5 L574.6,497.4 L576.7,501.6 L576.3,504.9 L573,509.9 L569.6,515.7 L568,519.8 L563,524 L557.2,526.4 L548.9,527.3 L540.6,526.4 L532.3,522.3 L526.5,517.3 L519.9,511.5 L511.6,504 L505,497.4 Z" fill="#f5a800" fill-opacity="0.88" />
<path d="M337.99,320.77 L451.36,364.94 L473.21,384.47 L486.12,396.76 L495.31,405.55 L502.45,412.31 L508.29,417.74 L513.24,422.23 L517.53,426.05 L521.31,429.34 L524.69,432.22 L527.76,434.78 L530.55,437.06 L533.13,439.11 L535.51,440.98 L537.73,442.68 L539.8,444.24 L541.75,445.68 L543.59,447.02 L545.33,448.26 L546.98,449.41 L548.55,450.49 L550.05,451.5 L551.48,452.46 L552.85,453.36 L554.16,454.2 L555.43,455.01 L556.64,455.77 L557.81,456.49 L558.94,457.18 L560.03,457.84 L561.09,458.46 L562.11,459.06 L563.1,459.63 L564.06,460.18 L565,460.71 L565.9,461.21 L566.79,461.69 L567.65,462.16 L568.48,462.61 L569.3,463.04 L570.09,463.46 L571.63,464.25 L573.09,464.99 L574.49,465.68 L575.83,466.33 L577.12,466.95 L578.36,467.52 L579.55,468.07 L580.71,468.59 L581.82,469.08 L582.89,469.55 L583.93,469.99 L584.94,470.41 L585.91,470.82 L586.86,471.2 L587.78,471.57 L588.67,471.92 L589.55,472.26 L590.81,472.75 L592.03,473.2 L593.2,473.63 L594.33,474.04 L595.42,474.42 L596.48,474.79 L597.5,475.14 L598.49,475.47 L599.45,475.78 L600.39,476.09 L601.59,476.47 L602.75,476.83 L603.87,477.17 L604.96,477.49 L606,477.8 L607.02,478.09 L608,478.36 L608.96,478.63 L610.11,478.94 L611.23,479.24 L612.31,479.52 L613.35,479.78 L614.36,480.03 L615.34,480.27 L616.48,480.54 L617.57,480.8 L618.64,481.05 L619.66,481.28 L620.66,481.5 L621.79,481.74 L622.87,481.97 L623.93,482.19 L624.94,482.39 L626.07,482.62 L627.16,482.83 L628.21,483.03 L629.23,483.22 L630.34,483.42 L631.41,483.61 L632.45,483.79 L633.56,483.98 L634.64,484.16 L635.68,484.33 L636.79,484.51 L637.87,484.67 L639,484.85 L640.09,485.01 L641.15,485.16 L642.25,485.32 L643.32,485.47 L644.44,485.62 L645.51,485.76 L646.63,485.91 L647.71,486.04 L648.82,486.18 L649.89,486.31 L651,486.44 L652.13,486.57 L653.22,486.69 L654.33,486.81 L655.46,486.93 L656.55,487.05 L657.66,487.16 L658.78,487.27 L659.92,487.38 L661.06,487.49 L662.16,487.59 L663.27,487.69 L664.38,487.79 L665.5,487.89 L666.62,487.98 L667.74,488.07 L668.86,488.16 L669.98,488.25 L671.12,488.33 L672.27,488.42 L673.4,488.5 L674.53,488.58 L675.67,488.66 L676.81,488.73 L677.96,488.81 L679.11,488.88 L680.26,488.95 L681.4,489.02 L682.54,489.09 L683.7,489.16 L684.86,489.22 L686,489.28 L687.14,489.34 L687.96,489.38" fill="none" stroke="#a228f2" stroke-width="2" stroke-dasharray="8.4 4.4"/>
<path d="M337.99,370.32 L451.36,431.27 L473.21,441.39 L486.12,446.85 L495.31,450.49 L502.45,453.17 L508.29,455.28 L513.24,456.99 L517.53,458.43 L521.31,459.66 L524.69,460.73 L527.76,461.68 L530.55,462.53 L533.13,463.29 L535.51,463.98 L537.73,464.61 L539.8,465.19 L541.75,465.73 L543.59,466.22 L545.33,466.69 L546.98,467.12 L548.55,467.53 L550.05,467.91 L551.48,468.27 L552.85,468.62 L554.16,468.94 L555.43,469.25 L556.64,469.54 L557.81,469.82 L558.94,470.09 L560.03,470.34 L561.09,470.59 L562.11,470.82 L563.1,471.05 L565,471.47 L566.79,471.86 L568.48,472.23 L570.09,472.58 L571.63,472.9 L573.09,473.2 L574.49,473.49 L575.83,473.76 L577.12,474.02 L578.36,474.26 L579.55,474.49 L580.71,474.71 L581.82,474.93 L582.89,475.13 L583.93,475.32 L585.43,475.6 L586.86,475.86 L588.23,476.1 L589.55,476.33 L590.81,476.55 L592.03,476.76 L593.2,476.96 L594.33,477.15 L595.42,477.33 L596.48,477.51 L597.83,477.73 L599.13,477.94 L600.39,478.13 L601.59,478.32 L602.75,478.5 L603.87,478.67 L604.96,478.83 L606,478.99 L607.27,479.18 L608.48,479.35 L609.66,479.52 L610.79,479.68 L611.88,479.83 L612.94,479.98 L614.16,480.15 L615.34,480.3 L616.48,480.46 L617.57,480.6 L618.64,480.74 L619.83,480.89 L620.99,481.04 L622.1,481.18 L623.18,481.31 L624.37,481.46 L625.51,481.6 L626.62,481.73 L627.82,481.87 L628.98,482 L630.1,482.13 L631.18,482.25 L632.33,482.38 L633.45,482.51 L634.64,482.64 L635.79,482.76 L636.89,482.88 L638.06,483 L639.18,483.12 L640.36,483.24 L641.49,483.35 L642.59,483.46 L643.73,483.57 L644.83,483.68 L645.97,483.79 L647.07,483.89 L648.2,484 L649.36,484.11 L650.48,484.21 L651.63,484.31 L652.74,484.41 L653.87,484.51 L655.01,484.61 L656.12,484.7 L657.24,484.8 L658.38,484.89 L659.53,484.99 L660.68,485.08 L661.8,485.17 L662.92,485.26 L664.04,485.34 L665.17,485.43 L666.3,485.52 L667.43,485.6 L668.56,485.69 L669.69,485.77 L670.81,485.85 L671.97,485.93 L673.11,486.01 L674.25,486.09 L675.38,486.17 L676.52,486.24 L677.66,486.32 L678.81,486.39 L679.95,486.47 L681.1,486.54 L682.23,486.61 L683.37,486.68 L684.52,486.75 L685.67,486.82 L686.8,486.89 L687.94,486.95 L687.96,486.96" fill="none" stroke="#10eef0" stroke-width="2" stroke-dasharray="8.4 4.4"/>
<path d="M555.43,678.03 L556.64,627.25 L557.81,603.84 L558.94,589.24 L560.03,578.94 L561.09,571.16 L562.11,565.01 L563.1,559.99 L564.06,555.81 L565,552.24 L565.9,549.16 L566.79,546.47 L567.65,544.09 L568.48,541.97 L569.3,540.06 L570.09,538.34 L570.87,536.77 L571.63,535.33 L572.37,534.02 L573.09,532.8 L573.8,531.67 L574.49,530.62 L575.17,529.65 L575.83,528.73 L576.48,527.88 L577.12,527.07 L577.75,526.31 L578.36,525.6 L578.96,524.92 L579.55,524.28 L580.71,523.09 L581.82,522.01 L582.89,521.03 L583.93,520.13 L584.94,519.3 L585.91,518.53 L586.86,517.82 L587.78,517.15 L588.67,516.54 L589.55,515.96 L590.39,515.41 L591.22,514.9 L592.03,514.42 L592.81,513.96 L593.95,513.32 L595.06,512.73 L596.13,512.18 L597.16,511.67 L598.16,511.2 L599.13,510.75 L600.08,510.33 L600.99,509.93 L601.88,509.56 L602.75,509.21 L603.87,508.76 L604.96,508.35 L606,507.97 L607.02,507.6 L608,507.26 L608.96,506.94 L609.88,506.64 L611.01,506.28 L612.09,505.95 L613.14,505.63 L614.16,505.34 L615.14,505.06 L616.1,504.8 L617.21,504.5 L618.29,504.22 L619.33,503.96 L620.33,503.71 L621.31,503.47 L622.41,503.21 L623.48,502.97 L624.51,502.74 L625.51,502.52 L626.62,502.29 L627.69,502.07 L628.72,501.86 L629.85,501.64 L630.94,501.43 L631.99,501.24 L633.01,501.05 L634.11,500.86 L635.17,500.67 L636.19,500.5 L637.29,500.32 L638.34,500.15 L639.46,499.97 L640.53,499.81 L641.66,499.64 L642.75,499.48 L643.81,499.33 L644.9,499.17 L645.97,499.03 L647.07,498.88 L648.13,498.74 L649.23,498.6 L650.35,498.46 L651.44,498.32 L652.55,498.19 L653.63,498.06 L654.73,497.94 L655.85,497.81 L656.98,497.69 L658.07,497.57 L659.18,497.45 L660.3,497.34 L661.43,497.22 L662.56,497.11 L663.66,497.01 L664.76,496.9 L665.86,496.8 L666.97,496.7 L668.08,496.6 L669.19,496.51 L670.33,496.41 L671.46,496.31 L672.59,496.22 L673.72,496.13 L674.83,496.05 L675.97,495.96 L677.1,495.87 L678.24,495.79 L679.37,495.71 L680.51,495.63 L681.64,495.55 L682.78,495.47 L683.93,495.4 L685.06,495.33 L686.19,495.25 L687.33,495.18 L687.96,495.14" fill="none" stroke="#0a14f0" stroke-width="2" stroke-dasharray="8.4 4.4"/>
<path d="M569.3,746.36 L570.09,688.58 L570.87,660.95 L571.63,642.89 L572.37,629.61 L573.09,619.18 L573.8,610.65 L574.49,603.48 L575.17,597.32 L575.83,591.95 L576.48,587.2 L577.12,582.97 L577.75,579.15 L578.36,575.69 L578.96,572.53 L579.55,569.63 L580.13,566.96 L580.71,564.49 L581.27,562.19 L581.82,560.05 L582.36,558.05 L582.89,556.17 L583.41,554.4 L583.93,552.74 L584.44,551.17 L584.94,549.69 L585.43,548.28 L585.91,546.94 L586.39,545.67 L586.86,544.46 L587.32,543.31 L587.78,542.21 L588.23,541.15 L588.67,540.15 L589.11,539.18 L589.55,538.26 L589.97,537.37 L590.39,536.52 L590.81,535.69 L591.22,534.9 L592.03,533.41 L592.81,532.02 L593.58,530.72 L594.33,529.5 L595.06,528.36 L595.78,527.29 L596.48,526.29 L597.16,525.33 L597.83,524.43 L598.49,523.58 L599.13,522.78 L599.77,522.01 L600.39,521.28 L600.99,520.58 L601.59,519.92 L602.18,519.29 L603.04,518.39 L603.87,517.56 L604.69,516.77 L605.48,516.03 L606.26,515.33 L607.02,514.67 L607.76,514.05 L608.48,513.46 L609.19,512.9 L609.88,512.37 L610.79,511.71 L611.66,511.08 L612.52,510.49 L613.35,509.94 L614.16,509.42 L614.95,508.93 L615.72,508.46 L616.66,507.91 L617.57,507.4 L618.46,506.92 L619.33,506.47 L620.17,506.04 L620.99,505.64 L621.94,505.18 L622.87,504.76 L623.78,504.36 L624.66,503.98 L625.51,503.63 L626.48,503.24 L627.42,502.87 L628.34,502.53 L629.23,502.21 L630.22,501.86 L631.18,501.54 L632.11,501.24 L633.12,500.92 L634.11,500.62 L635.06,500.34 L636.09,500.04 L637.09,499.77 L638.06,499.51 L639.09,499.25 L640.09,499 L641.06,498.77 L642.09,498.54 L643.08,498.31 L644.12,498.09 L645.13,497.88 L646.19,497.67 L647.21,497.47 L648.27,497.27 L649.29,497.09 L650.35,496.91 L651.44,496.72 L652.49,496.55 L653.57,496.38 L654.62,496.23 L655.68,496.07 L656.77,495.92 L657.87,495.77 L658.93,495.63 L660.01,495.49 L661.1,495.36 L662.2,495.23 L663.31,495.1 L664.42,494.98 L665.54,494.86 L666.66,494.75 L667.78,494.64 L668.9,494.53 L670.01,494.43 L671.12,494.33 L672.23,494.24 L673.37,494.15 L674.5,494.06 L675.61,493.97 L676.75,493.89 L677.88,493.81 L679.02,493.73 L680.15,493.66 L681.3,493.58 L682.45,493.51 L683.58,493.45 L684.72,493.38 L685.87,493.32 L687.01,493.26 L687.96,493.21" fill="none" stroke="#f81010" stroke-width="2" stroke-dasharray="8.4 4.4"/>
<mask id="m5_0" maskUnits="userSpaceOnUse" x="0" y="0" width="1085" height="665"><rect width="1085" height="665" fill="#fff"/>
<rect transform="translate(536.5,522.8) rotate(58)" x="-7.91" y="-3.42" width="15.81" height="6.84" fill="#000"/>
<rect transform="translate(531.5,530) rotate(50)" x="-7.91" y="-3.42" width="15.81" height="6.84" fill="#000"/>
</mask>
<mask id="m5_1" maskUnits="userSpaceOnUse" x="0" y="0" width="1085" height="665"><rect width="1085" height="665" fill="#fff"/>
<rect transform="translate(530.2,490.4) rotate(0)" x="-8.88" y="-3.89" width="17.76" height="7.79" fill="#000"/>
<rect transform="translate(536.6,519.2) rotate(30)" x="-7.91" y="-3.42" width="15.81" height="6.84" fill="#000"/>
</mask>
<g mask="url(#m5_1)"><path d="M518.2,498.1 L523.9,492.3 L540.1,492.9 L549.2,492.9 L556.3,497.5 L559.4,500.6 L559.6,505.6 L556.3,512.7 L549.5,516.3 L538.3,510.2 L528.2,504.1 Z" fill="none" stroke="#ffd830" stroke-width="1.6" stroke-linejoin="round" stroke-dasharray="6.5 4.5"/></g>
<g mask="url(#m5_1)"><path d="M557.6,526.9 L551.5,526.9 L543.4,524.4 L528.2,513.2" fill="none" stroke="#ffd830" stroke-width="1.6" stroke-linejoin="round" stroke-dasharray="6.5 4.5"/></g>
<text transform="translate(530.2,490.4) rotate(0)" text-anchor="middle" dominant-baseline="central" font-size="8.2" font-weight="bold" fill="#ffd830">0.75</text>
<text transform="translate(536.6,519.2) rotate(30)" text-anchor="middle" dominant-baseline="central" font-size="7.2" font-weight="bold" fill="#ffd830">0.50</text>
<g mask="url(#m5_0)"><path d="M512.4,498.6 L516.6,494.5 L528.2,493.3 L540.6,494.1 L553,498.2 L563,504.9 L569.6,512.3 L570.5,521.5 L568.7,529.6 L567.8,531.8 L562.7,539.4 L556.3,542.6 L546.1,540.7 L538.5,536.9 L527.1,525.4 L518.2,512.7 L513.7,502.6 Z" fill="none" stroke="#22e822" stroke-width="2.0" stroke-linejoin="round" /></g>
<g mask="url(#m5_0)"><path d="M530.7,505.7 L533.2,503.2 L548.9,502.8 L555.5,506.5 L560.5,514.8 L561.3,521.5 L558.9,528.9 L553,532.7 L546.4,533.1 L541.4,529.8 L530.7,513.2 Z" fill="none" stroke="#22e822" stroke-width="2.0" stroke-linejoin="round" /></g>
<text transform="translate(536.5,522.8) rotate(58)" text-anchor="middle" dominant-baseline="central" font-size="7.2" font-weight="bold" fill="#22e822">0.75</text>
<text transform="translate(531.5,530) rotate(50)" text-anchor="middle" dominant-baseline="central" font-size="7.2" font-weight="bold" fill="#22e822">0.50</text>
<line x1="419.65" y1="355.01" x2="686.7" y2="624.19" stroke="#1e1e1e" stroke-width="1.6" stroke-dasharray="1.4 1.5"/>
</g>
<rect x="412.2" y="355.6" width="274.5" height="272.0" fill="none" stroke="#000" stroke-width="2"/>
<path d="M434.54,627.6 v-2.6 M434.54,355.6 v2.6 M447.61,627.6 v-2.6 M447.61,355.6 v2.6 M456.88,627.6 v-2.6 M456.88,355.6 v2.6 M464.07,627.6 v-2.6 M464.07,355.6 v2.6 M469.95,627.6 v-2.6 M469.95,355.6 v2.6 M474.91,627.6 v-2.6 M474.91,355.6 v2.6 M479.22,627.6 v-2.6 M479.22,355.6 v2.6 M483.01,627.6 v-2.6 M483.01,355.6 v2.6 M486.41,627.6 v-5 M486.41,355.6 v5 M508.75,627.6 v-2.6 M508.75,355.6 v2.6 M521.82,627.6 v-2.6 M521.82,355.6 v2.6 M531.09,627.6 v-2.6 M531.09,355.6 v2.6 M538.28,627.6 v-2.6 M538.28,355.6 v2.6 M544.16,627.6 v-2.6 M544.16,355.6 v2.6 M549.12,627.6 v-2.6 M549.12,355.6 v2.6 M553.43,627.6 v-2.6 M553.43,355.6 v2.6 M557.22,627.6 v-2.6 M557.22,355.6 v2.6 M560.62,627.6 v-5 M560.62,355.6 v5 M582.96,627.6 v-2.6 M582.96,355.6 v2.6 M596.03,627.6 v-2.6 M596.03,355.6 v2.6 M605.3,627.6 v-2.6 M605.3,355.6 v2.6 M612.49,627.6 v-2.6 M612.49,355.6 v2.6 M618.37,627.6 v-2.6 M618.37,355.6 v2.6 M623.33,627.6 v-2.6 M623.33,355.6 v2.6 M627.64,627.6 v-2.6 M627.64,355.6 v2.6 M631.43,627.6 v-2.6 M631.43,355.6 v2.6 M634.83,627.6 v-5 M634.83,355.6 v5 M657.17,627.6 v-2.6 M657.17,355.6 v2.6 M670.24,627.6 v-2.6 M670.24,355.6 v2.6 M679.51,627.6 v-2.6 M679.51,355.6 v2.6 M412.2,586.66 h2.6 M686.7,586.66 h-2.6 M412.2,562.71 h2.6 M686.7,562.71 h-2.6 M412.2,545.72 h2.6 M686.7,545.72 h-2.6 M412.2,532.54 h2.6 M686.7,532.54 h-2.6 M412.2,521.77 h2.6 M686.7,521.77 h-2.6 M412.2,512.67 h2.6 M686.7,512.67 h-2.6 M412.2,504.78 h2.6 M686.7,504.78 h-2.6 M412.2,497.82 h2.6 M686.7,497.82 h-2.6 M412.2,491.6 h5 M686.7,491.6 h-5 M412.2,450.66 h2.6 M686.7,450.66 h-2.6 M412.2,426.71 h2.6 M686.7,426.71 h-2.6 M412.2,409.72 h2.6 M686.7,409.72 h-2.6 M412.2,396.54 h2.6 M686.7,396.54 h-2.6 M412.2,385.77 h2.6 M686.7,385.77 h-2.6 M412.2,376.67 h2.6 M686.7,376.67 h-2.6 M412.2,368.78 h2.6 M686.7,368.78 h-2.6 M412.2,361.82 h2.6 M686.7,361.82 h-2.6" stroke="#000" stroke-width="1.5" fill="none"/>
<text x="412.2" y="644.3" text-anchor="middle" class="tl">10<tspan class="sup" dy="-5.2">−2</tspan></text>
<text x="486.41" y="644.3" text-anchor="middle" class="tl">10<tspan class="sup" dy="-5.2">−1</tspan></text>
<text x="560.62" y="644.3" text-anchor="middle" class="tl">10<tspan class="sup" dy="-5.2">0</tspan></text>
<text x="634.83" y="644.3" text-anchor="middle" class="tl">10<tspan class="sup" dy="-5.2">1</tspan></text>
<text x="408.8" y="629.1" text-anchor="end" class="tl">10<tspan class="sup" dy="-5.2">−1</tspan></text>
<text x="408.8" y="496.9" text-anchor="end" class="tl">10<tspan class="sup" dy="-5.2">0</tspan></text>
<text x="408.8" y="364.2" text-anchor="end" class="tl">10<tspan class="sup" dy="-5.2">1</tspan></text>
<text x="541.65" y="658.8" class="ax">β<tspan class="sub" dy="1.8">∥p</tspan></text>
<text transform="translate(374,492) rotate(-90)" text-anchor="middle" class="ax" textLength="36.4" lengthAdjust="spacingAndGlyphs">T<tspan class="sub" dy="1.6">⊥p</tspan><tspan dy="-1.6">/T</tspan><tspan class="sub" dy="1.6">∥p</tspan></text>
<text x="549.45" y="349" text-anchor="middle" class="ti" textLength="286.7" lengthAdjust="spacingAndGlyphs">Intermediate lσ<tspan class="tsub" dy="3.6">c</tspan><tspan dy="-3.6">l (0.35−0.65) Slow Wind</tspan></text>
<text x="424.6" y="546.1" class="lg" fill="#a633f2" stroke="#a633f2" textLength="32.5" lengthAdjust="spacingAndGlyphs">mirror</text>
<text x="424.6" y="563.1" class="lg" fill="#14f0f0" stroke="#14f0f0" textLength="71.8" lengthAdjust="spacingAndGlyphs">ion−cyclotron</text>
<text x="424.6" y="576.6" class="lg" fill="#0a10f5" stroke="#0a10f5" textLength="84.2" lengthAdjust="spacingAndGlyphs">parallel firehose</text>
<text x="424.6" y="590.1" class="lg" fill="#fa1010" stroke="#fa1010" textLength="84" lengthAdjust="spacingAndGlyphs">oblique firehose</text>
<text x="424.6" y="603.6" class="lg" fill="#000" stroke="#000" textLength="83.6" lengthAdjust="spacingAndGlyphs">anti−correlation</text>
<text x="416.3" y="617.8" class="lg" fill="#1c2260" stroke="#1c2260">(c2)</text>
<text x="520.8" y="369" font-size="10.6" font-weight="normal" fill="#22e822" stroke="#22e822" stroke-width="0.6" word-spacing="2" textLength="123.8" lengthAdjust="spacingAndGlyphs">Intermediate lσ<tspan font-size="8.2" dy="2.8">c</tspan><tspan dy="-2.8">l</tspan> contour</text>
<text x="520.8" y="385.9" font-size="10.6" font-weight="normal" fill="#ffc400" stroke="#ffc400" stroke-width="0.6" word-spacing="2" textLength="81.6" lengthAdjust="spacingAndGlyphs">Low lσ<tspan font-size="8.2" dy="2.8">c</tspan><tspan dy="-2.8">l</tspan> contour</text>
<clipPath id="clip6"><rect x="775.2" y="355.6" width="274.5" height="272.0"/></clipPath>
<g clip-path="url(#clip6)">
<rect x="870.78" y="505.2" width="7.36" height="7.3" fill="#a60a0a"/>
<rect x="877.64" y="505.2" width="7.36" height="7.3" fill="#890000"/>
<rect x="884.5" y="505.2" width="7.36" height="7.3" fill="#890000"/>
<rect x="891.36" y="505.2" width="7.36" height="7.3" fill="#890000"/>
<rect x="884.5" y="512" width="7.36" height="7.3" fill="#890000"/>
<rect x="891.36" y="512" width="7.36" height="7.3" fill="#890000"/>
<rect x="898.23" y="512" width="7.36" height="7.3" fill="#890000"/>
<rect x="905.09" y="512" width="7.36" height="7.3" fill="#890000"/>
<rect x="911.95" y="512" width="7.36" height="7.3" fill="#890000"/>
<rect x="884.5" y="518.8" width="7.36" height="7.3" fill="#890000"/>
<rect x="891.36" y="518.8" width="7.36" height="7.3" fill="#890000"/>
<rect x="898.23" y="518.8" width="7.36" height="7.3" fill="#890000"/>
<rect x="905.09" y="518.8" width="7.36" height="7.3" fill="#890000"/>
<rect x="911.95" y="518.8" width="7.36" height="7.3" fill="#890000"/>
<rect x="918.81" y="518.8" width="7.36" height="7.3" fill="#d24c31"/>
<rect x="884.5" y="525.6" width="7.36" height="7.3" fill="#890000"/>
<rect x="891.36" y="525.6" width="7.36" height="7.3" fill="#890000"/>
<rect x="898.23" y="525.6" width="7.36" height="7.3" fill="#890000"/>
<rect x="905.09" y="525.6" width="7.36" height="7.3" fill="#890000"/>
<rect x="911.95" y="525.6" width="7.36" height="7.3" fill="#890000"/>
<rect x="918.81" y="525.6" width="7.36" height="7.3" fill="#c22a1c"/>
<rect x="925.68" y="525.6" width="7.36" height="7.3" fill="#e06c4f"/>
<rect x="891.36" y="532.4" width="7.36" height="7.3" fill="#890000"/>
<rect x="898.23" y="532.4" width="7.36" height="7.3" fill="#890000"/>
<rect x="905.09" y="532.4" width="7.36" height="7.3" fill="#890000"/>
<rect x="911.95" y="532.4" width="7.36" height="7.3" fill="#890000"/>
<rect x="918.81" y="532.4" width="7.36" height="7.3" fill="#d24c31"/>
<rect x="925.68" y="532.4" width="7.36" height="7.3" fill="#ec8d6d"/>
<rect x="891.36" y="539.2" width="7.36" height="7.3" fill="#890000"/>
<rect x="898.23" y="539.2" width="7.36" height="7.3" fill="#890000"/>
<rect x="905.09" y="539.2" width="7.36" height="7.3" fill="#890000"/>
<rect x="911.95" y="539.2" width="7.36" height="7.3" fill="#a60a0a"/>
<rect x="918.81" y="539.2" width="7.36" height="7.3" fill="#d24c31"/>
<rect x="925.68" y="539.2" width="7.36" height="7.3" fill="#ec8d6d"/>
<rect x="898.23" y="546" width="7.36" height="7.3" fill="#c22a1c"/>
<rect x="905.09" y="546" width="7.36" height="7.3" fill="#c22a1c"/>
<rect x="911.95" y="546" width="7.36" height="7.3" fill="#e06c4f"/>
<rect x="918.81" y="546" width="7.36" height="7.3" fill="#ec8d6d"/>
<path d="M871.03,505.45 h6.86 M871.03,505.45 v6.8 M877.89,505.45 h6.86 M877.89,505.45 v6.8 M884.75,505.45 h6.86 M884.75,505.45 v6.8 M891.61,505.45 h6.86 M891.61,505.45 v6.8 M884.75,512.25 h6.86 M884.75,512.25 v6.8 M891.61,512.25 h6.86 M891.61,512.25 v6.8 M898.48,512.25 h6.86 M898.48,512.25 v6.8 M905.34,512.25 h6.86 M905.34,512.25 v6.8 M912.2,512.25 h6.86 M912.2,512.25 v6.8 M884.75,519.05 h6.86 M884.75,519.05 v6.8 M891.61,519.05 h6.86 M891.61,519.05 v6.8 M898.48,519.05 h6.86 M898.48,519.05 v6.8 M905.34,519.05 h6.86 M905.34,519.05 v6.8 M912.2,519.05 h6.86 M912.2,519.05 v6.8 M919.06,519.05 h6.86 M919.06,519.05 v6.8 M884.75,525.85 h6.86 M884.75,525.85 v6.8 M891.61,525.85 h6.86 M891.61,525.85 v6.8 M898.48,525.85 h6.86 M898.48,525.85 v6.8 M905.34,525.85 h6.86 M905.34,525.85 v6.8 M912.2,525.85 h6.86 M912.2,525.85 v6.8 M919.06,525.85 h6.86 M919.06,525.85 v6.8 M925.93,525.85 h6.86 M925.93,525.85 v6.8 M891.61,532.65 h6.86 M891.61,532.65 v6.8 M898.48,532.65 h6.86 M898.48,532.65 v6.8 M905.34,532.65 h6.86 M905.34,532.65 v6.8 M912.2,532.65 h6.86 M912.2,532.65 v6.8 M919.06,532.65 h6.86 M919.06,532.65 v6.8 M925.93,532.65 h6.86 M925.93,532.65 v6.8 M891.61,539.45 h6.86 M891.61,539.45 v6.8 M898.48,539.45 h6.86 M898.48,539.45 v6.8 M905.34,539.45 h6.86 M905.34,539.45 v6.8 M912.2,539.45 h6.86 M912.2,539.45 v6.8 M919.06,539.45 h6.86 M919.06,539.45 v6.8 M925.93,539.45 h6.86 M925.93,539.45 v6.8 M898.48,546.25 h6.86 M898.48,546.25 v6.8 M905.34,546.25 h6.86 M905.34,546.25 v6.8 M912.2,546.25 h6.86 M912.2,546.25 v6.8 M919.06,546.25 h6.86 M919.06,546.25 v6.8" stroke="#fff" stroke-opacity="0.09" stroke-width="0.7" fill="none"/>
<path d="M862.6,491.6 L866.3,489.1 L874.6,487 L882.9,486.2 L895.3,486 L907.8,486.6 L916,488.3 L924.3,490.8 L932.6,494.5 L937.6,497.4 L939.7,501.6 L939.3,504.9 L936,509.9 L932.6,515.7 L931,519.8 L926,524 L920.2,526.4 L911.9,527.3 L903.6,526.4 L895.3,522.3 L889.5,517.3 L882.9,511.5 L874.6,504 L868,497.4 Z" fill="#ffd700" fill-opacity="0.58" />
<path d="M700.99,320.77 L814.36,364.94 L836.21,384.47 L849.12,396.76 L858.31,405.55 L865.45,412.31 L871.29,417.74 L876.24,422.23 L880.53,426.05 L884.31,429.34 L887.69,432.22 L890.76,434.78 L893.55,437.06 L896.13,439.11 L898.51,440.98 L900.73,442.68 L902.8,444.24 L904.75,445.68 L906.59,447.02 L908.33,448.26 L909.98,449.41 L911.55,450.49 L913.05,451.5 L914.48,452.46 L915.85,453.36 L917.16,454.2 L918.43,455.01 L919.64,455.77 L920.81,456.49 L921.94,457.18 L923.03,457.84 L924.09,458.46 L925.11,459.06 L926.1,459.63 L927.06,460.18 L928,460.71 L928.9,461.21 L929.79,461.69 L930.65,462.16 L931.48,462.61 L932.3,463.04 L933.09,463.46 L934.63,464.25 L936.09,464.99 L937.49,465.68 L938.83,466.33 L940.12,466.95 L941.36,467.52 L942.55,468.07 L943.71,468.59 L944.82,469.08 L945.89,469.55 L946.93,469.99 L947.94,470.41 L948.91,470.82 L949.86,471.2 L950.78,471.57 L951.67,471.92 L952.55,472.26 L953.81,472.75 L955.03,473.2 L956.2,473.63 L957.33,474.04 L958.42,474.42 L959.48,474.79 L960.5,475.14 L961.49,475.47 L962.45,475.78 L963.39,476.09 L964.59,476.47 L965.75,476.83 L966.87,477.17 L967.96,477.49 L969,477.8 L970.02,478.09 L971,478.36 L971.96,478.63 L973.11,478.94 L974.23,479.24 L975.31,479.52 L976.35,479.78 L977.36,480.03 L978.34,480.27 L979.48,480.54 L980.57,480.8 L981.64,481.05 L982.66,481.28 L983.66,481.5 L984.79,481.74 L985.87,481.97 L986.93,482.19 L987.94,482.39 L989.07,482.62 L990.16,482.83 L991.21,483.03 L992.23,483.22 L993.34,483.42 L994.41,483.61 L995.45,483.79 L996.56,483.98 L997.64,484.16 L998.68,484.33 L999.79,484.51 L1000.87,484.67 L1002,484.85 L1003.09,485.01 L1004.15,485.16 L1005.25,485.32 L1006.32,485.47 L1007.44,485.62 L1008.51,485.76 L1009.63,485.91 L1010.71,486.04 L1011.82,486.18 L1012.89,486.31 L1014,486.44 L1015.13,486.57 L1016.22,486.69 L1017.33,486.81 L1018.46,486.93 L1019.55,487.05 L1020.66,487.16 L1021.78,487.27 L1022.92,487.38 L1024.06,487.49 L1025.16,487.59 L1026.27,487.69 L1027.38,487.79 L1028.5,487.89 L1029.62,487.98 L1030.74,488.07 L1031.86,488.16 L1032.98,488.25 L1034.12,488.33 L1035.27,488.42 L1036.4,488.5 L1037.53,488.58 L1038.67,488.66 L1039.81,488.73 L1040.96,488.81 L1042.11,488.88 L1043.26,488.95 L1044.4,489.02 L1045.54,489.09 L1046.7,489.16 L1047.86,489.22 L1049,489.28 L1050.14,489.34 L1050.96,489.38" fill="none" stroke="#a228f2" stroke-width="2" stroke-dasharray="8.4 4.4"/>
<path d="M700.99,370.32 L814.36,431.27 L836.21,441.39 L849.12,446.85 L858.31,450.49 L865.45,453.17 L871.29,455.28 L876.24,456.99 L880.53,458.43 L884.31,459.66 L887.69,460.73 L890.76,461.68 L893.55,462.53 L896.13,463.29 L898.51,463.98 L900.73,464.61 L902.8,465.19 L904.75,465.73 L906.59,466.22 L908.33,466.69 L909.98,467.12 L911.55,467.53 L913.05,467.91 L914.48,468.27 L915.85,468.62 L917.16,468.94 L918.43,469.25 L919.64,469.54 L920.81,469.82 L921.94,470.09 L923.03,470.34 L924.09,470.59 L925.11,470.82 L926.1,471.05 L928,471.47 L929.79,471.86 L931.48,472.23 L933.09,472.58 L934.63,472.9 L936.09,473.2 L937.49,473.49 L938.83,473.76 L940.12,474.02 L941.36,474.26 L942.55,474.49 L943.71,474.71 L944.82,474.93 L945.89,475.13 L946.93,475.32 L948.43,475.6 L949.86,475.86 L951.23,476.1 L952.55,476.33 L953.81,476.55 L955.03,476.76 L956.2,476.96 L957.33,477.15 L958.42,477.33 L959.48,477.51 L960.83,477.73 L962.13,477.94 L963.39,478.13 L964.59,478.32 L965.75,478.5 L966.87,478.67 L967.96,478.83 L969,478.99 L970.27,479.18 L971.48,479.35 L972.66,479.52 L973.79,479.68 L974.88,479.83 L975.94,479.98 L977.16,480.15 L978.34,480.3 L979.48,480.46 L980.57,480.6 L981.64,480.74 L982.83,480.89 L983.99,481.04 L985.1,481.18 L986.18,481.31 L987.37,481.46 L988.51,481.6 L989.62,481.73 L990.82,481.87 L991.98,482 L993.1,482.13 L994.18,482.25 L995.33,482.38 L996.45,482.51 L997.64,482.64 L998.79,482.76 L999.89,482.88 L1001.06,483 L1002.18,483.12 L1003.36,483.24 L1004.49,483.35 L1005.59,483.46 L1006.73,483.57 L1007.83,483.68 L1008.97,483.79 L1010.07,483.89 L1011.2,484 L1012.36,484.11 L1013.48,484.21 L1014.63,484.31 L1015.74,484.41 L1016.87,484.51 L1018.01,484.61 L1019.12,484.7 L1020.24,484.8 L1021.38,484.89 L1022.53,484.99 L1023.68,485.08 L1024.8,485.17 L1025.92,485.26 L1027.04,485.34 L1028.17,485.43 L1029.3,485.52 L1030.43,485.6 L1031.56,485.69 L1032.69,485.77 L1033.81,485.85 L1034.97,485.93 L1036.11,486.01 L1037.25,486.09 L1038.38,486.17 L1039.52,486.24 L1040.66,486.32 L1041.81,486.39 L1042.95,486.47 L1044.1,486.54 L1045.23,486.61 L1046.37,486.68 L1047.52,486.75 L1048.67,486.82 L1049.8,486.89 L1050.94,486.95 L1050.96,486.96" fill="none" stroke="#10eef0" stroke-width="2" stroke-dasharray="8.4 4.4"/>
<path d="M918.43,678.03 L919.64,627.25 L920.81,603.84 L921.94,589.24 L923.03,578.94 L924.09,571.16 L925.11,565.01 L926.1,559.99 L927.06,555.81 L928,552.24 L928.9,549.16 L929.79,546.47 L930.65,544.09 L931.48,541.97 L932.3,540.06 L933.09,538.34 L933.87,536.77 L934.63,535.33 L935.37,534.02 L936.09,532.8 L936.8,531.67 L937.49,530.62 L938.17,529.65 L938.83,528.73 L939.48,527.88 L940.12,527.07 L940.75,526.31 L941.36,525.6 L941.96,524.92 L942.55,524.28 L943.71,523.09 L944.82,522.01 L945.89,521.03 L946.93,520.13 L947.94,519.3 L948.91,518.53 L949.86,517.82 L950.78,517.15 L951.67,516.54 L952.55,515.96 L953.39,515.41 L954.22,514.9 L955.03,514.42 L955.81,513.96 L956.95,513.32 L958.06,512.73 L959.13,512.18 L960.16,511.67 L961.16,511.2 L962.13,510.75 L963.08,510.33 L963.99,509.93 L964.88,509.56 L965.75,509.21 L966.87,508.76 L967.96,508.35 L969,507.97 L970.02,507.6 L971,507.26 L971.96,506.94 L972.88,506.64 L974.01,506.28 L975.09,505.95 L976.14,505.63 L977.16,505.34 L978.14,505.06 L979.1,504.8 L980.21,504.5 L981.29,504.22 L982.33,503.96 L983.33,503.71 L984.31,503.47 L985.41,503.21 L986.48,502.97 L987.51,502.74 L988.51,502.52 L989.62,502.29 L990.69,502.07 L991.72,501.86 L992.85,501.64 L993.94,501.43 L994.99,501.24 L996.01,501.05 L997.11,500.86 L998.17,500.67 L999.19,500.5 L1000.29,500.32 L1001.34,500.15 L1002.46,499.97 L1003.53,499.81 L1004.66,499.64 L1005.75,499.48 L1006.81,499.33 L1007.9,499.17 L1008.97,499.03 L1010.07,498.88 L1011.13,498.74 L1012.23,498.6 L1013.35,498.46 L1014.44,498.32 L1015.55,498.19 L1016.63,498.06 L1017.73,497.94 L1018.85,497.81 L1019.98,497.69 L1021.07,497.57 L1022.18,497.45 L1023.3,497.34 L1024.43,497.22 L1025.56,497.11 L1026.66,497.01 L1027.76,496.9 L1028.86,496.8 L1029.97,496.7 L1031.08,496.6 L1032.19,496.51 L1033.33,496.41 L1034.46,496.31 L1035.59,496.22 L1036.72,496.13 L1037.83,496.05 L1038.97,495.96 L1040.1,495.87 L1041.24,495.79 L1042.37,495.71 L1043.51,495.63 L1044.64,495.55 L1045.78,495.47 L1046.93,495.4 L1048.06,495.33 L1049.19,495.25 L1050.33,495.18 L1050.96,495.14" fill="none" stroke="#0a14f0" stroke-width="2" stroke-dasharray="8.4 4.4"/>
<path d="M932.3,746.36 L933.09,688.58 L933.87,660.95 L934.63,642.89 L935.37,629.61 L936.09,619.18 L936.8,610.65 L937.49,603.48 L938.17,597.32 L938.83,591.95 L939.48,587.2 L940.12,582.97 L940.75,579.15 L941.36,575.69 L941.96,572.53 L942.55,569.63 L943.13,566.96 L943.71,564.49 L944.27,562.19 L944.82,560.05 L945.36,558.05 L945.89,556.17 L946.41,554.4 L946.93,552.74 L947.44,551.17 L947.94,549.69 L948.43,548.28 L948.91,546.94 L949.39,545.67 L949.86,544.46 L950.32,543.31 L950.78,542.21 L951.23,541.15 L951.67,540.15 L952.11,539.18 L952.55,538.26 L952.97,537.37 L953.39,536.52 L953.81,535.69 L954.22,534.9 L955.03,533.41 L955.81,532.02 L956.58,530.72 L957.33,529.5 L958.06,528.36 L958.78,527.29 L959.48,526.29 L960.16,525.33 L960.83,524.43 L961.49,523.58 L962.13,522.78 L962.77,522.01 L963.39,521.28 L963.99,520.58 L964.59,519.92 L965.18,519.29 L966.04,518.39 L966.87,517.56 L967.69,516.77 L968.48,516.03 L969.26,515.33 L970.02,514.67 L970.76,514.05 L971.48,513.46 L972.19,512.9 L972.88,512.37 L973.79,511.71 L974.66,511.08 L975.52,510.49 L976.35,509.94 L977.16,509.42 L977.95,508.93 L978.72,508.46 L979.66,507.91 L980.57,507.4 L981.46,506.92 L982.33,506.47 L983.17,506.04 L983.99,505.64 L984.94,505.18 L985.87,504.76 L986.78,504.36 L987.66,503.98 L988.51,503.63 L989.48,503.24 L990.42,502.87 L991.34,502.53 L992.23,502.21 L993.22,501.86 L994.18,501.54 L995.11,501.24 L996.12,500.92 L997.11,500.62 L998.06,500.34 L999.09,500.04 L1000.09,499.77 L1001.06,499.51 L1002.09,499.25 L1003.09,499 L1004.06,498.77 L1005.09,498.54 L1006.08,498.31 L1007.12,498.09 L1008.13,497.88 L1009.19,497.67 L1010.21,497.47 L1011.27,497.27 L1012.29,497.09 L1013.35,496.91 L1014.44,496.72 L1015.49,496.55 L1016.57,496.38 L1017.62,496.23 L1018.68,496.07 L1019.77,495.92 L1020.87,495.77 L1021.93,495.63 L1023.01,495.49 L1024.1,495.36 L1025.2,495.23 L1026.31,495.1 L1027.42,494.98 L1028.54,494.86 L1029.66,494.75 L1030.78,494.64 L1031.9,494.53 L1033.01,494.43 L1034.12,494.33 L1035.23,494.24 L1036.37,494.15 L1037.5,494.06 L1038.61,493.97 L1039.75,493.89 L1040.88,493.81 L1042.02,493.73 L1043.15,493.66 L1044.3,493.58 L1045.45,493.51 L1046.58,493.45 L1047.72,493.38 L1048.87,493.32 L1050.01,493.26 L1050.96,493.21" fill="none" stroke="#f81010" stroke-width="2" stroke-dasharray="8.4 4.4"/>
<mask id="m6_0" maskUnits="userSpaceOnUse" x="0" y="0" width="1085" height="665"><rect width="1085" height="665" fill="#fff"/>
<rect transform="translate(925.4,518.6) rotate(45)" x="-7.91" y="-3.42" width="15.81" height="6.84" fill="#000"/>
<rect transform="translate(895.2,545.1) rotate(52)" x="-7.91" y="-3.42" width="15.81" height="6.84" fill="#000"/>
</mask>
<mask id="m6_1" maskUnits="userSpaceOnUse" x="0" y="0" width="1085" height="665"><rect width="1085" height="665" fill="#fff"/>
<rect transform="translate(899.5,522.8) rotate(58)" x="-8.88" y="-3.89" width="17.76" height="7.79" fill="#000"/>
<rect transform="translate(894.5,530) rotate(50)" x="-8.88" y="-3.89" width="17.76" height="7.79" fill="#000"/>
</mask>
<mask id="m6_2" maskUnits="userSpaceOnUse" x="0" y="0" width="1085" height="665"><rect width="1085" height="665" fill="#fff"/>
<rect transform="translate(893.2,490.4) rotate(0)" x="-8.88" y="-3.89" width="17.76" height="7.79" fill="#000"/>
</mask>
<g mask="url(#m6_2)"><path d="M881.2,498.1 L886.9,492.3 L903.1,492.9 L912.2,492.9 L919.3,497.5 L922.4,500.6 L922.6,505.6 L919.3,512.7 L912.5,516.3 L901.3,510.2 L891.2,504.1 Z" fill="none" stroke="#ffd830" stroke-width="1.6" stroke-linejoin="round" stroke-dasharray="6.5 4.5"/></g>
<text transform="translate(893.2,490.4) rotate(0)" text-anchor="middle" dominant-baseline="central" font-size="8.2" font-weight="bold" fill="#ffd830">0.75</text>
<path d="M875.4,498.6 L879.6,494.5 L891.2,493.3 L903.6,494.1 L916,498.2 L926,504.9 L932.6,512.3 L933.5,521.5 L931.7,529.6 L930.8,531.8 L925.7,539.4 L919.3,542.6 L909.1,540.7 L901.5,536.9 L890.1,525.4 L881.2,512.7 L876.7,502.6 Z" fill="#00f000" fill-opacity="0.4" />
<g mask="url(#m6_1)"><path d="M893.7,505.7 L896.2,503.2 L911.9,502.8 L918.5,506.5 L923.5,514.8 L924.3,521.5 L921.9,528.9 L916,532.7 L909.4,533.1 L904.4,529.8 L893.7,513.2 Z" fill="none" stroke="#22e822" stroke-width="1.8" stroke-linejoin="round" stroke-dasharray="6.5 4.5"/></g>
<text transform="translate(899.5,522.8) rotate(58)" text-anchor="middle" dominant-baseline="central" font-size="8.2" font-weight="bold" fill="#22e822">0.75</text>
<text transform="translate(894.5,530) rotate(50)" text-anchor="middle" dominant-baseline="central" font-size="8.2" font-weight="bold" fill="#22e822">0.50</text>
<g mask="url(#m6_0)"><path d="M903.9,506.6 L911.3,508.3 L917.9,512.4 L927,524.8 L926.6,538 L922.9,542.2 L914.6,548 L906.4,552.1 L901.2,552.1 L889,538 L885.7,531.4 L884,519 L888.2,512.4 L895.6,512" fill="none" stroke="#0a0af5" stroke-width="2.0" stroke-linejoin="round" /></g>
<g mask="url(#m6_0)"><path d="M893.9,519 L898.1,516.5 L903.9,515.3 L913,516.5 L918.8,520.7 L922.1,527.3 L922.1,532.3 L917.9,536.4 L911.3,543 L903.9,546.3 L900.6,543.8 L896.4,536.4 L893.1,528.1 L892.3,523.2 Z" fill="none" stroke="#0a0af5" stroke-width="2.0" stroke-linejoin="round" /></g>
<text transform="translate(925.4,518.6) rotate(45)" text-anchor="middle" dominant-baseline="central" font-size="7.2" font-weight="bold" fill="#0a0af5">0.50</text>
<text transform="translate(895.2,545.1) rotate(52)" text-anchor="middle" dominant-baseline="central" font-size="7.2" font-weight="bold" fill="#0a0af5">0.50</text>
<path d="M898.6,491.8 L900.5,488.8 L904.3,486.7 L908.8,486.9 L915.6,489.5 L924.6,494 L933.6,499.3 L941.1,506.1 L944.9,512.1 L943.4,518.1 L938.1,524.9 L932.1,529 L924.6,529 L917.8,526.4 L913.3,522.6 L903.5,513.6 L900.5,506.8 L898.6,499.3 Z" fill="#1e1e1e" fill-opacity="0.5" />
<path d="M908.4,496.7 L913.3,499.7 L917.1,497.8 L923.1,497 L927.6,502.3 L933.6,509.8 L934.4,512.8 L931.3,518.1 L925.3,521.5 L920.8,521.1 L917.1,517.3 L914.8,512.1 L910.3,508.3 L907.3,505.3 L907.7,500 Z" fill="none" stroke="#202010" stroke-width="1.0" stroke-linejoin="round" stroke-opacity="0.45"/>
<line x1="782.65" y1="355.01" x2="1049.7" y2="624.19" stroke="#1e1e1e" stroke-width="1.6" stroke-dasharray="1.4 1.5"/>
</g>
<rect x="775.2" y="355.6" width="274.5" height="272.0" fill="none" stroke="#000" stroke-width="2"/>
<path d="M797.54,627.6 v-2.6 M797.54,355.6 v2.6 M810.61,627.6 v-2.6 M810.61,355.6 v2.6 M819.88,627.6 v-2.6 M819.88,355.6 v2.6 M827.07,627.6 v-2.6 M827.07,355.6 v2.6 M832.95,627.6 v-2.6 M832.95,355.6 v2.6 M837.91,627.6 v-2.6 M837.91,355.6 v2.6 M842.22,627.6 v-2.6 M842.22,355.6 v2.6 M846.01,627.6 v-2.6 M846.01,355.6 v2.6 M849.41,627.6 v-5 M849.41,355.6 v5 M871.75,627.6 v-2.6 M871.75,355.6 v2.6 M884.82,627.6 v-2.6 M884.82,355.6 v2.6 M894.09,627.6 v-2.6 M894.09,355.6 v2.6 M901.28,627.6 v-2.6 M901.28,355.6 v2.6 M907.16,627.6 v-2.6 M907.16,355.6 v2.6 M912.12,627.6 v-2.6 M912.12,355.6 v2.6 M916.43,627.6 v-2.6 M916.43,355.6 v2.6 M920.22,627.6 v-2.6 M920.22,355.6 v2.6 M923.62,627.6 v-5 M923.62,355.6 v5 M945.96,627.6 v-2.6 M945.96,355.6 v2.6 M959.03,627.6 v-2.6 M959.03,355.6 v2.6 M968.3,627.6 v-2.6 M968.3,355.6 v2.6 M975.49,627.6 v-2.6 M975.49,355.6 v2.6 M981.37,627.6 v-2.6 M981.37,355.6 v2.6 M986.33,627.6 v-2.6 M986.33,355.6 v2.6 M990.64,627.6 v-2.6 M990.64,355.6 v2.6 M994.43,627.6 v-2.6 M994.43,355.6 v2.6 M997.83,627.6 v-5 M997.83,355.6 v5 M1020.17,627.6 v-2.6 M1020.17,355.6 v2.6 M1033.24,627.6 v-2.6 M1033.24,355.6 v2.6 M1042.51,627.6 v-2.6 M1042.51,355.6 v2.6 M775.2,586.66 h2.6 M1049.7,586.66 h-2.6 M775.2,562.71 h2.6 M1049.7,562.71 h-2.6 M775.2,545.72 h2.6 M1049.7,545.72 h-2.6 M775.2,532.54 h2.6 M1049.7,532.54 h-2.6 M775.2,521.77 h2.6 M1049.7,521.77 h-2.6 M775.2,512.67 h2.6 M1049.7,512.67 h-2.6 M775.2,504.78 h2.6 M1049.7,504.78 h-2.6 M775.2,497.82 h2.6 M1049.7,497.82 h-2.6 M775.2,491.6 h5 M1049.7,491.6 h-5 M775.2,450.66 h2.6 M1049.7,450.66 h-2.6 M775.2,426.71 h2.6 M1049.7,426.71 h-2.6 M775.2,409.72 h2.6 M1049.7,409.72 h-2.6 M775.2,396.54 h2.6 M1049.7,396.54 h-2.6 M775.2,385.77 h2.6 M1049.7,385.77 h-2.6 M775.2,376.67 h2.6 M1049.7,376.67 h-2.6 M775.2,368.78 h2.6 M1049.7,368.78 h-2.6 M775.2,361.82 h2.6 M1049.7,361.82 h-2.6" stroke="#000" stroke-width="1.5" fill="none"/>
<text x="775.2" y="644.3" text-anchor="middle" class="tl">10<tspan class="sup" dy="-5.2">−2</tspan></text>
<text x="849.41" y="644.3" text-anchor="middle" class="tl">10<tspan class="sup" dy="-5.2">−1</tspan></text>
<text x="923.62" y="644.3" text-anchor="middle" class="tl">10<tspan class="sup" dy="-5.2">0</tspan></text>
<text x="997.83" y="644.3" text-anchor="middle" class="tl">10<tspan class="sup" dy="-5.2">1</tspan></text>
<text x="771.8" y="629.1" text-anchor="end" class="tl">10<tspan class="sup" dy="-5.2">−1</tspan></text>
<text x="771.8" y="496.9" text-anchor="end" class="tl">10<tspan class="sup" dy="-5.2">0</tspan></text>
<text x="771.8" y="364.2" text-anchor="end" class="tl">10<tspan class="sup" dy="-5.2">1</tspan></text>
<text x="904.65" y="658.8" class="ax">β<tspan class="sub" dy="1.8">∥p</tspan></text>
<text transform="translate(737,492) rotate(-90)" text-anchor="middle" class="ax" textLength="36.4" lengthAdjust="spacingAndGlyphs">T<tspan class="sub" dy="1.6">⊥p</tspan><tspan dy="-1.6">/T</tspan><tspan class="sub" dy="1.6">∥p</tspan></text>
<text x="912.45" y="349" text-anchor="middle" class="ti" textLength="198" lengthAdjust="spacingAndGlyphs">High lσ<tspan class="tsub" dy="3.6">c</tspan><tspan dy="-3.6">l (&gt;0.75) Slow Wind</tspan></text>
<text x="787.6" y="546.1" class="lg" fill="#a633f2" stroke="#a633f2" textLength="32.5" lengthAdjust="spacingAndGlyphs">mirror</text>
<text x="787.6" y="563.1" class="lg" fill="#14f0f0" stroke="#14f0f0" textLength="71.8" lengthAdjust="spacingAndGlyphs">ion−cyclotron</text>
<text x="787.6" y="576.6" class="lg" fill="#0a10f5" stroke="#0a10f5" textLength="84.2" lengthAdjust="spacingAndGlyphs">parallel firehose</text>
<text x="787.6" y="590.1" class="lg" fill="#fa1010" stroke="#fa1010" textLength="84" lengthAdjust="spacingAndGlyphs">oblique firehose</text>
<text x="787.6" y="603.6" class="lg" fill="#000" stroke="#000" textLength="83.6" lengthAdjust="spacingAndGlyphs">anti−correlation</text>
<text x="786.8" y="617.8" class="lg" fill="#1c2260" stroke="#1c2260">(c3)</text>
<text x="883.9" y="369.3" font-size="10.6" font-weight="normal" fill="#000" stroke="#000" stroke-width="0.6" word-spacing="2" textLength="118" lengthAdjust="spacingAndGlyphs">Fast Solar Wind contour</text>
<text x="883.9" y="386.2" font-size="10.6" font-weight="normal" fill="#0a0af5" stroke="#0a0af5" stroke-width="0.6" word-spacing="2" textLength="84.2" lengthAdjust="spacingAndGlyphs">High lσ<tspan font-size="8.2" dy="2.8">c</tspan><tspan dy="-2.8">l</tspan> contour</text>
<text x="883.9" y="403" font-size="10.6" font-weight="normal" fill="#22e822" stroke="#22e822" stroke-width="0.6" word-spacing="2" textLength="123.5" lengthAdjust="spacingAndGlyphs">Intermediate lσ<tspan font-size="8.2" dy="2.8">c</tspan><tspan dy="-2.8">l</tspan> contour</text>
<text x="883.9" y="417.9" font-size="10.6" font-weight="normal" fill="#ffc400" stroke="#ffc400" stroke-width="0.6" word-spacing="2" textLength="81.2" lengthAdjust="spacingAndGlyphs">Low lσ<tspan font-size="8.2" dy="2.8">c</tspan><tspan dy="-2.8">l</tspan> contour</text>
<rect x="323.7" y="18.9" width="5.6" height="113.4" fill="url(#cbg)" stroke="#000" stroke-width="1.3"/>
<text x="332.3" y="25.5" class="cbl">10<tspan class="cbs" dy="-3">0</tspan></text>
<text x="332.3" y="52.9" class="cbl">10<tspan class="cbs" dy="-3">−1</tspan></text>
<text x="332.3" y="80.3" class="cbl">10<tspan class="cbs" dy="-3">−2</tspan></text>
<text x="332.3" y="107.7" class="cbl">10<tspan class="cbs" dy="-3">−3</tspan></text>
<text x="332.3" y="131.2" class="cbl">10<tspan class="cbs" dy="-3">−4</tspan></text>
<text transform="translate(356.3,75.4) rotate(-90)" text-anchor="middle" class="pd">Probability Density</text>
<rect x="686.7" y="18.9" width="5.6" height="113.4" fill="url(#cbg)" stroke="#000" stroke-width="1.3"/>
<text x="695.3" y="23.6" class="cbl">10<tspan class="cbs" dy="-3">0</tspan></text>
<text x="695.3" y="80.2" class="cbl">10<tspan class="cbs" dy="-3">−1</tspan></text>
<text x="695.3" y="131.4" class="cbl">10<tspan class="cbs" dy="-3">−2</tspan></text>
<text transform="translate(719.3,75.4) rotate(-90)" text-anchor="middle" class="pd">Probability Density</text>
<rect x="1049.7" y="18.9" width="5.6" height="113.4" fill="url(#cbg)" stroke="#000" stroke-width="1.3"/>
<text x="1058.3" y="27.5" class="cbl">10<tspan class="cbs" dy="-3">0</tspan></text>
<text x="1058.3" y="57.8" class="cbl">10<tspan class="cbs" dy="-3">−1</tspan></text>
<text x="1058.3" y="86.2" class="cbl">10<tspan class="cbs" dy="-3">−2</tspan></text>
<text x="1058.3" y="114.6" class="cbl">10<tspan class="cbs" dy="-3">−3</tspan></text>
<text transform="translate(1082.3,75.4) rotate(-90)" text-anchor="middle" class="pd">Probability Density</text>
<rect x="323.7" y="355.9" width="5.6" height="113.4" fill="url(#cbg)" stroke="#000" stroke-width="1.3"/>
<text x="332.3" y="369.4" class="cbl">10<tspan class="cbs" dy="-3">0</tspan></text>
<text x="332.3" y="402.7" class="cbl">10<tspan class="cbs" dy="-3">−1</tspan></text>
<text x="332.3" y="436" class="cbl">10<tspan class="cbs" dy="-3">−2</tspan></text>
<text x="332.3" y="469.2" class="cbl">10<tspan class="cbs" dy="-3">−3</tspan></text>
<text transform="translate(356.3,412.4) rotate(-90)" text-anchor="middle" class="pd">Probability Density</text>
<rect x="686.7" y="355.9" width="5.6" height="113.4" fill="url(#cbg)" stroke="#000" stroke-width="1.3"/>
<text x="695.3" y="369.4" class="cbl">10<tspan class="cbs" dy="-3">0</tspan></text>
<text x="695.3" y="407.6" class="cbl">10<tspan class="cbs" dy="-3">−1</tspan></text>
<text x="695.3" y="445.8" class="cbl">10<tspan class="cbs" dy="-3">−2</tspan></text>
<text transform="translate(719.3,412.4) rotate(-90)" text-anchor="middle" class="pd">Probability Density</text>
<rect x="1049.7" y="355.9" width="5.6" height="113.4" fill="url(#cbg)" stroke="#000" stroke-width="1.3"/>
<text x="1058.3" y="390" class="cbl">10<tspan class="cbs" dy="-3">0</tspan></text>
<text x="1058.3" y="469.8" class="cbl">10<tspan class="cbs" dy="-3">−1</tspan></text>
<text transform="translate(1082.3,412.4) rotate(-90)" text-anchor="middle" class="pd">Probability Density</text>
</svg></body></html>
